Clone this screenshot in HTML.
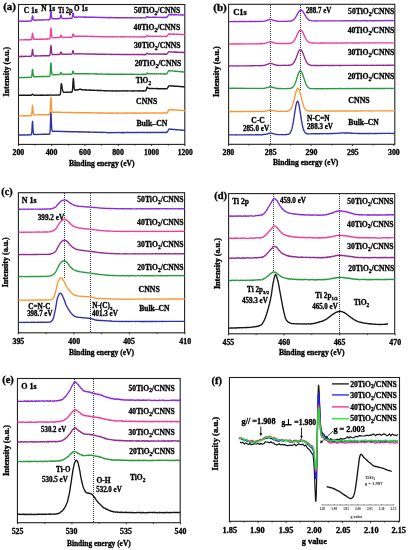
<!DOCTYPE html>
<html><head><meta charset="utf-8"><style>
html,body{margin:0;padding:0;background:#fff;width:408px;height:550px;overflow:hidden;}
svg{will-change:transform;}
svg text{stroke:#000;stroke-width:0.3px;}
svg text.n{stroke:none;font-weight:bold;fill:#222;}
</style></head><body>
<svg width="408" height="550" viewBox="0 0 408 550" style="position:absolute;left:0;top:0;font-family:'Liberation Serif',serif;font-weight:bold">
<rect width="408" height="550" fill="#fff"/>
<rect x="18.50" y="4.50" width="166.30" height="139.90" fill="none" stroke="#222" stroke-width="1.1"/>
<line x1="18.40" y1="144.40" x2="18.40" y2="146.00" stroke="#1a1a1a" stroke-width="0.9"/>
<line x1="51.70" y1="144.40" x2="51.70" y2="146.00" stroke="#1a1a1a" stroke-width="0.9"/>
<line x1="85.00" y1="144.40" x2="85.00" y2="146.00" stroke="#1a1a1a" stroke-width="0.9"/>
<line x1="118.30" y1="144.40" x2="118.30" y2="146.00" stroke="#1a1a1a" stroke-width="0.9"/>
<line x1="151.60" y1="144.40" x2="151.60" y2="146.00" stroke="#1a1a1a" stroke-width="0.9"/>
<line x1="184.90" y1="144.40" x2="184.90" y2="146.00" stroke="#1a1a1a" stroke-width="0.9"/>
<line x1="35.05" y1="144.40" x2="35.05" y2="145.68" stroke="#1a1a1a" stroke-width="0.8"/>
<line x1="68.35" y1="144.40" x2="68.35" y2="145.68" stroke="#1a1a1a" stroke-width="0.8"/>
<line x1="101.65" y1="144.40" x2="101.65" y2="145.68" stroke="#1a1a1a" stroke-width="0.8"/>
<line x1="134.95" y1="144.40" x2="134.95" y2="145.68" stroke="#1a1a1a" stroke-width="0.8"/>
<line x1="168.25" y1="144.40" x2="168.25" y2="145.68" stroke="#1a1a1a" stroke-width="0.8"/>
<path d="M18.5 21.2L18.7 21.4L18.9 21.4L19.1 21.2L19.3 21.3L19.5 21.3L19.7 21.3L19.9 21.3L20.1 21.2L20.3 21.1L20.5 21.3L20.7 21.2L20.9 21.3L21.1 21.1L21.3 21.2L21.5 21.3L21.7 21.2L21.9 21.3L22.1 21.3L22.3 21.1L22.5 21.1L22.7 21.2L22.9 21.3L23.1 21.2L23.3 21.1L23.5 21.2L23.7 21.1L23.9 21.1L24.1 21.2L24.3 21.2L24.5 21.1L24.7 21.1L24.9 21.1L25.1 21.1L25.3 21.1L25.5 21L25.7 21.2L25.9 21.1L26.1 21.2L26.3 21.1L26.5 21.2L26.7 21.2L26.9 21L27.1 21.1L27.3 21.2L27.5 21.1L27.7 21.2L27.9 21.1L28.1 21.2L28.3 21.1L28.5 21L28.7 21.1L28.9 21.2L29.1 21.1L29.3 21.1L29.5 21.1L29.7 20.9L29.9 21L30.1 21.1L30.3 21L30.5 21L30.7 21L30.9 21.1L31.1 21.1L31.3 20.9L31.5 20.8L31.7 20.4L31.9 19.6L32.1 18L32.3 16.5L32.5 15.8L32.7 16.1L32.9 17.3L33.1 18.7L33.3 19.5L33.5 19.9L33.7 20L33.9 20L34.1 20.1L34.3 20.2L34.5 20.1L34.7 20.1L34.9 20.2L35.1 20L35.3 20.1L35.5 20.2L35.7 20.1L35.9 20L36.1 20L36.3 20.1L36.5 20.2L36.7 19.9L36.9 20.1L37.1 20.1L37.3 20.1L37.5 20.1L37.7 20.1L37.9 20L38.1 20L38.3 20L38.5 19.9L38.7 20.1L38.9 20L39.1 19.9L39.3 20L39.5 20L39.7 20L39.9 19.9L40.1 20L40.3 20L40.5 20L40.7 20L40.9 19.9L41.1 19.9L41.3 19.9L41.5 20L41.7 20L41.9 20L42.1 20L42.3 20L42.5 19.9L42.7 20L42.9 20L43.1 19.8L43.3 19.8L43.5 19.8L43.7 20L43.9 19.9L44.1 19.8L44.3 19.9L44.5 19.9L44.7 19.8L44.9 19.8L45.1 19.9L45.3 19.8L45.5 19.8L45.7 19.9L45.9 19.9L46.1 19.8L46.3 19.9L46.5 19.8L46.7 19.8L46.9 19.8L47.1 19.8L47.3 19.8L47.5 19.9L47.7 19.9L47.9 19.8L48.1 19.9L48.3 19.9L48.5 19.7L48.7 19.7L48.9 19.7L49.1 19.9L49.3 19.7L49.5 19.8L49.7 19.7L49.9 19.4L50.1 18.5L50.3 17.1L50.5 14.8L50.7 12.5L50.9 11.2L51.1 11.9L51.3 13.7L51.5 15.9L51.7 17.4L51.9 18.3L52.1 18.5L52.3 18.7L52.5 18.9L52.7 18.9L52.9 18.7L53.1 18.9L53.3 18.7L53.5 18.9L53.7 18.8L53.9 18.7L54.1 18.7L54.3 18.6L54.5 18.8L54.7 18.6L54.9 18.8L55.1 18.8L55.3 18.7L55.5 18.6L55.7 18.8L55.9 18.8L56.1 18.7L56.3 18.7L56.5 18.7L56.7 18.6L56.9 18.6L57.1 18.7L57.3 18.7L57.5 18.6L57.7 18.6L57.9 18.7L58.1 18.6L58.3 18.6L58.5 18.6L58.7 18.7L58.9 18.7L59.1 18.5L59.3 18.5L59.5 18.6L59.7 18.7L59.9 18.5L60.1 18.1L60.3 17.5L60.5 16.8L60.7 15.9L60.9 15.2L61.1 15L61.3 15.7L61.5 16.5L61.7 17.4L61.9 18.1L62.1 18.3L62.3 18.5L62.5 18.4L62.7 18.5L62.9 18.6L63.1 18.5L63.3 18.6L63.5 18.5L63.7 18.6L63.9 18.5L64.1 18.5L64.3 18.4L64.5 18.6L64.7 18.5L64.9 18.6L65.1 18.6L65.3 18.4L65.5 18.5L65.7 18.4L65.9 18.4L66.1 18.4L66.3 18.5L66.5 18.5L66.7 18.5L66.9 18.4L67.1 18.5L67.3 18.5L67.5 18.4L67.7 18.4L67.9 18.3L68.1 18.3L68.3 18.3L68.5 18.5L68.7 18.4L68.9 18.5L69.1 18.4L69.3 18.3L69.5 18.4L69.7 18.4L69.9 18.2L70.1 18.4L70.3 18.3L70.5 18.3L70.7 18.4L70.9 18.2L71.1 18.3L71.3 18.4L71.5 18.3L71.7 18.2L71.9 18.1L72.1 17.8L72.3 17.3L72.5 16L72.7 14.6L72.9 13.2L73.1 13L73.3 13.7L73.5 14.8L73.7 15.9L73.9 16.6L74.1 16.9L74.3 17.2L74.5 17.1L74.7 17.1L74.9 17.3L75.1 17.1L75.3 17.2L75.5 17.1L75.7 17.1L75.9 17L76.1 17.2L76.3 17.2L76.5 17.2L76.7 17L76.9 17L77.1 17.1L77.3 17.2L77.5 17.1L77.7 17.1L77.9 17.1L78.1 17L78.3 17.1L78.5 17L78.7 17L78.9 16.9L79.1 17L79.3 17.1L79.5 17L79.7 17L79.9 17L80.1 17.1L80.3 17L80.5 17L80.7 17L80.9 17L81.1 17.1L81.3 17.1L81.5 17L81.7 17L81.9 17L82.1 17.1L82.3 17.1L82.5 17L82.7 16.9L82.9 17L83.1 17L83.3 17.1L83.5 17L83.7 17L83.9 17.1L84.1 17L84.3 17.2L84.5 17.1L84.7 17.2L84.9 17L85.1 17.1L85.3 17.2L85.5 17L85.7 17.2L85.9 17L86.1 17.2L86.3 17.2L86.5 17.2L86.7 17.1L86.9 17L87.1 17.1L87.3 17.2L87.5 17.1L87.7 17.2L87.9 17.1L88.1 17.3L88.3 17.1L88.5 17.1L88.7 17.3L88.9 17.3L89.1 17.3L89.3 17.3L89.5 17.2L89.7 17.2L89.9 17.1L90.1 17.2L90.3 17.1L90.5 17.3L90.7 17.3L90.9 17.2L91.1 17.1L91.3 17.3L91.5 17.3L91.7 17.2L91.9 17.2L92.1 17.3L92.3 17.2L92.5 17.2L92.7 17.2L92.9 17.2L93.1 17.1L93.3 17.3L93.5 17.2L93.7 17.3L93.9 17.2L94.1 17.2L94.3 17.2L94.5 17.2L94.7 17.2L94.9 17.4L95.1 17.3L95.3 17.3L95.5 17.3L95.7 17.2L95.9 17.2L96.1 17.3L96.3 17.3L96.5 17.4L96.7 17.3L96.9 17.4L97.1 17.4L97.3 17.3L97.5 17.3L97.7 17.3L97.9 17.3L98.1 17.3L98.3 17.4L98.5 17.5L98.7 17.5L98.9 17.3L99.1 17.4L99.3 17.3L99.5 17.3L99.7 17.4L99.9 17.5L100.1 17.3L100.3 17.5L100.5 17.5L100.7 17.4L100.9 17.5L101.1 17.5L101.3 17.4L101.5 17.5L101.7 17.5L101.8 17.5L102 17.5L102.2 17.5L102.4 17.6L102.6 17.5L102.8 17.4L103 17.4L103.2 17.4L103.4 17.5L103.6 17.5L103.8 17.4L104 17.5L104.2 17.5L104.4 17.5L104.6 17.5L104.8 17.4L105 17.6L105.2 17.4L105.4 17.6L105.6 17.6L105.8 17.5L106 17.5L106.2 17.6L106.4 17.6L106.6 17.4L106.8 17.6L107 17.6L107.2 17.6L107.4 17.6L107.6 17.5L107.8 17.7L108 17.7L108.2 17.5L108.4 17.6L108.6 17.6L108.8 17.5L109 17.5L109.2 17.5L109.4 17.7L109.6 17.7L109.8 17.5L110 17.6L110.2 17.6L110.4 17.5L110.6 17.6L110.8 17.5L111 17.7L111.2 17.5L111.4 17.5L111.6 17.6L111.8 17.5L112 17.6L112.2 17.6L112.4 17.7L112.6 17.6L112.8 17.6L113 17.6L113.2 17.6L113.4 17.6L113.6 17.6L113.8 17.7L114 17.7L114.2 17.7L114.4 17.8L114.6 17.6L114.8 17.6L115 17.7L115.2 17.7L115.4 17.7L115.6 17.6L115.8 17.6L116 17.6L116.2 17.7L116.4 17.6L116.6 17.7L116.8 17.7L117 17.8L117.2 17.7L117.4 17.8L117.6 17.6L117.8 17.7L118 17.7L118.2 17.6L118.4 17.7L118.6 17.6L118.8 17.7L119 17.6L119.2 17.7L119.4 17.7L119.6 17.6L119.8 17.7L120 17.8L120.2 17.7L120.4 17.7L120.6 17.7L120.8 17.7L121 17.6L121.2 17.6L121.4 17.6L121.6 17.7L121.8 17.8L122 17.8L122.2 17.7L122.4 17.8L122.6 17.7L122.8 17.8L123 17.7L123.2 17.8L123.4 17.8L123.6 17.7L123.8 17.6L124 17.7L124.2 17.7L124.4 17.7L124.6 17.6L124.8 17.7L125 17.7L125.2 17.7L125.4 17.8L125.6 17.7L125.8 17.8L126 17.8L126.2 17.8L126.4 17.7L126.6 17.8L126.8 17.8L127 17.8L127.2 17.8L127.4 17.7L127.6 17.8L127.8 17.8L128 17.9L128.2 17.8L128.4 17.8L128.6 17.8L128.8 17.8L129 17.8L129.2 17.7L129.4 17.7L129.6 17.8L129.8 17.9L130 17.8L130.2 17.7L130.4 17.8L130.6 17.8L130.8 17.8L131 17.7L131.2 17.8L131.4 17.8L131.6 17.8L131.8 17.7L132 17.8L132.2 17.7L132.4 17.8L132.6 17.9L132.8 17.8L133 17.8L133.2 17.8L133.4 17.8L133.6 17.7L133.8 17.7L134 17.9L134.2 17.7L134.4 17.7L134.6 17.9L134.8 17.8L135 17.8L135.2 17.8L135.4 17.9L135.6 17.7L135.8 17.9L136 17.9L136.2 17.9L136.4 17.8L136.6 17.8L136.8 17.8L137 17.8L137.2 17.7L137.4 17.9L137.6 17.9L137.8 17.8L138 17.8L138.2 17.9L138.4 17.9L138.6 17.9L138.8 17.7L139 17.9L139.2 17.9L139.4 17.8L139.6 17.8L139.8 17.9L140 17.9L140.2 17.8L140.4 17.9L140.6 17.8L140.8 18L141 17.8L141.2 18L141.4 17.9L141.6 17.9L141.8 17.8L142 17.9L142.2 17.8L142.4 17.8L142.6 17.9L142.8 17.8L143 17.9L143.2 17.8L143.4 17.9L143.6 17.9L143.8 17.8L144 17.8L144.2 17.9L144.4 17.9L144.6 17.8L144.8 17.8L145 17.8L145.2 17.9L145.4 18L145.6 17.8L145.8 17.7L146 17.8L146.2 17.7L146.4 17.4L146.6 17L146.8 16.7L147 16.7L147.2 16.5L147.4 16.7L147.6 16.8L147.8 17L148 17.2L148.2 17.2L148.4 17.2L148.6 17.2L148.8 17.4L149 17.3L149.2 17.3L149.4 17.2L149.6 17.4L149.8 17.3L150 17.3L150.2 17.4L150.4 17.4L150.6 17.2L150.8 17.4L151 17.4L151.2 17.3L151.4 17.3L151.6 17.3L151.8 17.4L152 17.3L152.2 17.4L152.4 17.4L152.6 17.2L152.8 17.4L153 17.2L153.2 17.2L153.4 17.4L153.6 17.2L153.8 17.3L154 17.2L154.2 17.3L154.4 17.4L154.6 17.4L154.8 17.2L155 17.2L155.2 17.4L155.4 17.2L155.6 17.3L155.8 17.3L156 17.2L156.2 17.2L156.4 17.4L156.6 17.4L156.8 17.4L157 17.4L157.2 17.4L157.4 17.3L157.6 17.4L157.8 17.5L158 17.4L158.2 17.3L158.4 17.3L158.6 17.5L158.8 17.4L159 17.3L159.2 17.4L159.4 17.4L159.6 17.4L159.8 17.3L160 17.3L160.2 17.3L160.4 17.3L160.6 17.5L160.8 17.4L161 17.4L161.2 17.4L161.4 17.4L161.6 17.4L161.8 17.4L162 17.3L162.2 17.5L162.4 17.3L162.6 17.5L162.8 17.5L163 17.5L163.2 17.3L163.4 17.3L163.6 17.5L163.8 17.4L164 17.4L164.2 17.5L164.4 17.3L164.6 17.4L164.8 17.4L165 17.3L165.2 17.4L165.4 17.4L165.6 17.5L165.8 17.3L166 17.4L166.2 17.3L166.4 17.5L166.6 17.3L166.8 17.3L167 17.1L167.2 16.9L167.4 16.5L167.6 16.2L167.8 16.1L168 15.8L168.2 15.5L168.4 15.1L168.6 14.8L168.8 14.5L169 14.6L169.2 14.6L169.4 14.6L169.6 14.7L169.8 14.7L170 14.7L170.2 14.5L170.4 14.7L170.6 14.6L170.8 14.8L171 14.7L171.2 14.7L171.4 14.7L171.6 14.7L171.8 14.8L172 14.8L172.2 14.6L172.4 14.6L172.6 14.7L172.8 14.7L173 14.6L173.2 14.7L173.4 14.7L173.6 14.6L173.8 14.8L174 14.8L174.2 14.7L174.4 14.7L174.6 14.7L174.8 14.7L175 14.8L175.2 14.8L175.4 14.8L175.6 14.7L175.8 14.9L176 14.7L176.2 14.7L176.4 14.7L176.6 14.9L176.8 14.8L177 14.9L177.2 14.9L177.4 14.9L177.6 14.9L177.8 14.9L178 14.9L178.2 14.9L178.4 14.8L178.6 14.9L178.8 14.9L179 15L179.2 14.9L179.4 14.9L179.6 14.9L179.8 14.8L180 15L180.2 14.9L180.4 14.9L180.6 14.9L180.8 15L181 14.9L181.2 14.8L181.4 14.8L181.6 15L181.8 14.9L182 15L182.2 14.9L182.4 14.9L182.6 15L182.8 14.8L183 14.9L183.2 15L183.4 14.9L183.6 14.9L183.8 14.9L184 15L184.2 15L184.4 14.9L184.6 14.9L184.8 15.1" fill="none" stroke="#8c28dc" stroke-width="1.35" stroke-linejoin="round"/>
<path d="M18.5 40L18.7 40L18.9 39.8L19.1 39.8L19.3 40L19.5 39.9L19.7 39.9L19.9 39.8L20.1 39.9L20.3 39.9L20.5 39.9L20.7 39.8L20.9 39.8L21.1 39.8L21.3 39.9L21.5 40L21.7 39.9L21.9 39.8L22.1 39.8L22.3 39.8L22.5 39.7L22.7 39.7L22.9 39.8L23.1 39.8L23.3 39.8L23.5 39.9L23.7 39.8L23.9 39.8L24.1 39.7L24.3 39.7L24.5 39.7L24.7 39.7L24.9 39.8L25.1 39.9L25.3 39.8L25.5 39.7L25.7 39.8L25.9 39.8L26.1 39.8L26.3 39.8L26.5 39.8L26.7 39.8L26.9 39.7L27.1 39.8L27.3 39.8L27.5 39.6L27.7 39.8L27.9 39.7L28.1 39.7L28.3 39.7L28.5 39.7L28.7 39.8L28.9 39.7L29.1 39.7L29.3 39.6L29.5 39.7L29.7 39.7L29.9 39.6L30.1 39.7L30.3 39.7L30.5 39.7L30.7 39.6L30.9 39.6L31.1 39.6L31.3 39.6L31.5 39.3L31.7 38.9L31.9 37.5L32.1 35.9L32.3 33.9L32.5 33.2L32.7 33.8L32.9 35.4L33.1 37.2L33.3 38.4L33.5 39L33.7 39.2L33.9 39.2L34.1 39.3L34.3 39.4L34.5 39.3L34.7 39.2L34.9 39.3L35.1 39.3L35.3 39.4L35.5 39.2L35.7 39.3L35.9 39.1L36.1 39.3L36.3 39.2L36.5 39.2L36.7 39.3L36.9 39.1L37.1 39.2L37.3 39.3L37.5 39.2L37.7 39.2L37.9 39.3L38.1 39.2L38.3 39.3L38.5 39.1L38.7 39.2L38.9 39.1L39.1 39.2L39.3 39.1L39.5 39.3L39.7 39.1L39.9 39.2L40.1 39.1L40.3 39.1L40.5 39.2L40.7 39.1L40.9 39.1L41.1 39.2L41.3 39.1L41.5 39L41.7 39.3L41.9 39.1L42.1 39L42.3 39.1L42.5 39.2L42.7 39.2L42.9 39L43.1 39.1L43.3 39L43.5 39.1L43.7 39.2L43.9 39.2L44.1 39.2L44.3 39.2L44.5 39.2L44.7 39.1L44.9 39.1L45.1 39L45.3 39.1L45.5 39L45.7 39L45.9 39.1L46.1 39.2L46.3 39L46.5 39.1L46.7 39L46.9 39.1L47.1 39L47.3 39.2L47.5 39L47.7 39.1L47.9 39L48.1 38.9L48.3 39.1L48.5 38.9L48.7 38.9L48.9 38.9L49.1 38.9L49.3 38.9L49.5 39L49.7 38.9L49.9 38.6L50.1 37.5L50.3 35.6L50.5 32.5L50.7 29.6L50.9 28L51.1 28.9L51.3 31.3L51.5 34.1L51.7 36.1L51.9 37L52.1 37.5L52.3 37.6L52.5 37.6L52.7 37.6L52.9 37.7L53.1 37.6L53.3 37.7L53.5 37.6L53.7 37.6L53.9 37.6L54.1 37.6L54.3 37.6L54.5 37.6L54.7 37.6L54.9 37.6L55.1 37.7L55.3 37.5L55.5 37.7L55.7 37.7L55.9 37.7L56.1 37.6L56.3 37.6L56.5 37.6L56.7 37.5L56.9 37.6L57.1 37.6L57.3 37.5L57.5 37.5L57.7 37.6L57.9 37.5L58.1 37.6L58.3 37.6L58.5 37.6L58.7 37.5L58.9 37.6L59.1 37.5L59.3 37.4L59.5 37.6L59.7 37.4L59.9 37.4L60.1 37.3L60.3 36.9L60.5 36.2L60.7 35.7L60.9 35.2L61.1 35.2L61.3 35.5L61.5 36.2L61.7 36.6L61.9 37.1L62.1 37.3L62.3 37.5L62.5 37.3L62.7 37.5L62.9 37.4L63.1 37.4L63.3 37.4L63.5 37.4L63.7 37.5L63.9 37.4L64.1 37.3L64.3 37.3L64.5 37.3L64.7 37.5L64.9 37.4L65.1 37.5L65.3 37.4L65.5 37.3L65.7 37.4L65.9 37.4L66.1 37.4L66.3 37.4L66.5 37.3L66.7 37.3L66.9 37.4L67.1 37.3L67.3 37.3L67.5 37.3L67.7 37.4L67.9 37.4L68.1 37.4L68.3 37.4L68.5 37.2L68.7 37.2L68.9 37.3L69.1 37.2L69.3 37.3L69.5 37.3L69.7 37.4L69.9 37.3L70.1 37.3L70.3 37.2L70.5 37.2L70.7 37.4L70.9 37.2L71.1 37.2L71.3 37.1L71.5 37.1L71.7 37.3L71.9 37.3L72.1 37L72.3 36.5L72.5 35.8L72.7 34.8L72.9 34.2L73.1 34L73.3 34.3L73.5 35L73.7 35.6L73.9 36.1L74.1 36.4L74.3 36.4L74.5 36.3L74.7 36.4L74.9 36.4L75.1 36.3L75.3 36.4L75.5 36.3L75.7 36.4L75.9 36.3L76.1 36.4L76.3 36.4L76.5 36.3L76.7 36.2L76.9 36.3L77.1 36.2L77.3 36.3L77.5 36.4L77.7 36.2L77.9 36.3L78.1 36.3L78.3 36.2L78.5 36.3L78.7 36.3L78.9 36.3L79.1 36.2L79.3 36.3L79.5 36.2L79.7 36.3L79.9 36.2L80.1 36.3L80.3 36.3L80.5 36.1L80.7 36.2L80.9 36.2L81.1 36.3L81.3 36.3L81.5 36.3L81.7 36.1L81.9 36.2L82.1 36.3L82.3 36.3L82.5 36.3L82.7 36.3L82.9 36.1L83.1 36.4L83.3 36.3L83.5 36.3L83.7 36.4L83.9 36.4L84.1 36.2L84.3 36.4L84.5 36.4L84.7 36.2L84.9 36.4L85.1 36.3L85.3 36.2L85.5 36.4L85.7 36.2L85.9 36.3L86.1 36.3L86.3 36.3L86.5 36.3L86.7 36.3L86.9 36.3L87.1 36.5L87.3 36.2L87.5 36.2L87.7 36.3L87.9 36.4L88.1 36.4L88.3 36.4L88.5 36.4L88.7 36.4L88.9 36.3L89.1 36.3L89.3 36.4L89.5 36.3L89.7 36.3L89.9 36.5L90.1 36.3L90.3 36.5L90.5 36.5L90.7 36.4L90.9 36.5L91.1 36.5L91.3 36.5L91.5 36.3L91.7 36.4L91.9 36.4L92.1 36.4L92.3 36.4L92.5 36.3L92.7 36.5L92.9 36.6L93.1 36.4L93.3 36.5L93.5 36.4L93.7 36.5L93.9 36.6L94.1 36.4L94.3 36.5L94.5 36.5L94.7 36.5L94.9 36.6L95.1 36.4L95.3 36.6L95.5 36.5L95.7 36.5L95.9 36.6L96.1 36.6L96.3 36.5L96.5 36.6L96.7 36.4L96.9 36.6L97.1 36.5L97.3 36.6L97.5 36.6L97.7 36.6L97.9 36.6L98.1 36.5L98.3 36.5L98.5 36.6L98.7 36.5L98.9 36.5L99.1 36.7L99.3 36.5L99.5 36.7L99.7 36.6L99.9 36.6L100.1 36.6L100.3 36.5L100.5 36.6L100.7 36.5L100.9 36.6L101.1 36.6L101.3 36.7L101.5 36.7L101.7 36.6L101.8 36.7L102 36.7L102.2 36.6L102.4 36.6L102.6 36.6L102.8 36.6L103 36.7L103.2 36.6L103.4 36.6L103.6 36.7L103.8 36.6L104 36.8L104.2 36.7L104.4 36.7L104.6 36.8L104.8 36.7L105 36.8L105.2 36.8L105.4 36.7L105.6 36.8L105.8 36.8L106 36.8L106.2 36.8L106.4 36.8L106.6 36.8L106.8 36.8L107 36.9L107.2 36.7L107.4 36.8L107.6 36.8L107.8 36.7L108 36.7L108.2 36.7L108.4 36.9L108.6 36.7L108.8 36.8L109 36.9L109.2 36.7L109.4 36.9L109.6 36.7L109.8 36.7L110 36.8L110.2 36.8L110.4 36.9L110.6 36.9L110.8 36.9L111 36.8L111.2 36.8L111.4 36.7L111.6 36.9L111.8 36.8L112 36.8L112.2 36.8L112.4 36.7L112.6 36.8L112.8 36.9L113 36.7L113.2 36.7L113.4 36.7L113.6 36.8L113.8 36.8L114 36.8L114.2 36.8L114.4 36.8L114.6 36.8L114.8 36.8L115 36.8L115.2 36.8L115.4 36.9L115.6 36.7L115.8 36.7L116 36.9L116.2 36.8L116.4 36.9L116.6 36.7L116.8 36.8L117 36.9L117.2 36.8L117.4 36.9L117.6 36.8L117.8 36.8L118 36.9L118.2 36.8L118.4 36.8L118.6 36.9L118.8 36.8L119 36.9L119.2 36.8L119.4 36.8L119.6 36.8L119.8 36.9L120 36.9L120.2 36.9L120.4 36.8L120.6 36.8L120.8 36.8L121 36.7L121.2 36.7L121.4 37L121.6 36.7L121.8 36.9L122 36.9L122.2 36.9L122.4 36.7L122.6 36.8L122.8 36.9L123 36.7L123.2 36.7L123.4 36.8L123.6 36.8L123.8 36.8L124 36.9L124.2 36.7L124.4 37L124.6 36.9L124.8 36.7L125 36.9L125.2 36.8L125.4 36.8L125.6 36.9L125.8 36.8L126 36.8L126.2 36.7L126.4 36.8L126.6 36.9L126.8 36.9L127 36.9L127.2 36.9L127.4 36.9L127.6 36.8L127.8 36.8L128 36.8L128.2 36.8L128.4 36.8L128.6 36.8L128.8 36.7L129 36.8L129.2 36.8L129.4 36.9L129.6 36.9L129.8 37L130 36.9L130.2 36.9L130.4 37L130.6 36.8L130.8 36.8L131 36.9L131.2 36.9L131.4 36.8L131.6 36.8L131.8 36.8L132 36.8L132.2 36.8L132.4 36.8L132.6 36.9L132.8 36.9L133 36.9L133.2 36.9L133.4 36.8L133.6 36.9L133.8 37L134 36.8L134.2 36.9L134.4 36.9L134.6 36.9L134.8 36.8L135 36.9L135.2 36.8L135.4 36.8L135.6 36.9L135.8 36.9L136 36.9L136.2 36.9L136.4 36.9L136.6 36.9L136.8 36.8L137 36.9L137.2 37L137.4 37L137.6 36.9L137.8 36.8L138 36.8L138.2 36.8L138.4 36.9L138.6 36.9L138.8 36.8L139 37L139.2 37L139.4 37L139.6 36.9L139.8 36.8L140 36.8L140.2 37L140.4 36.9L140.6 36.8L140.8 37L141 36.9L141.2 36.9L141.4 36.9L141.6 36.9L141.8 36.9L142 36.9L142.2 36.8L142.4 36.9L142.6 36.8L142.8 37L143 36.8L143.2 36.9L143.4 36.9L143.6 36.9L143.8 36.9L144 37L144.2 36.8L144.4 37L144.6 36.9L144.8 37L145 36.9L145.2 36.9L145.4 36.9L145.6 36.9L145.8 36.8L146 36.7L146.2 36.6L146.4 36.3L146.6 36L146.8 35.8L147 35.5L147.2 35.5L147.4 35.7L147.6 36L147.8 36L148 36.2L148.2 36.3L148.4 36.4L148.6 36.3L148.8 36.3L149 36.2L149.2 36.4L149.4 36.3L149.6 36.2L149.8 36.4L150 36.2L150.2 36.3L150.4 36.3L150.6 36.3L150.8 36.4L151 36.3L151.2 36.3L151.4 36.3L151.6 36.4L151.8 36.2L152 36.3L152.2 36.2L152.4 36.2L152.6 36.4L152.8 36.3L153 36.2L153.2 36.4L153.4 36.4L153.6 36.4L153.8 36.3L154 36.4L154.2 36.4L154.4 36.3L154.6 36.3L154.8 36.4L155 36.4L155.2 36.3L155.4 36.4L155.6 36.4L155.8 36.4L156 36.4L156.2 36.4L156.4 36.3L156.6 36.3L156.8 36.2L157 36.4L157.2 36.3L157.4 36.4L157.6 36.3L157.8 36.3L158 36.5L158.2 36.3L158.4 36.4L158.6 36.3L158.8 36.3L159 36.3L159.2 36.4L159.4 36.4L159.6 36.3L159.8 36.5L160 36.4L160.2 36.3L160.4 36.4L160.6 36.3L160.8 36.4L161 36.3L161.2 36.4L161.4 36.4L161.6 36.4L161.8 36.4L162 36.4L162.2 36.4L162.4 36.3L162.6 36.3L162.8 36.4L163 36.3L163.2 36.3L163.4 36.3L163.6 36.4L163.8 36.4L164 36.4L164.2 36.5L164.4 36.3L164.6 36.4L164.8 36.3L165 36.4L165.2 36.4L165.4 36.3L165.6 36.3L165.8 36.4L166 36.4L166.2 36.5L166.4 36.4L166.6 36.4L166.8 36.5L167 36.2L167.2 35.8L167.4 35.7L167.6 35.4L167.8 35.2L168 34.9L168.2 34.7L168.4 34.5L168.6 34.1L168.8 34L169 33.8L169.2 33.9L169.4 34L169.6 33.8L169.8 34L170 34.1L170.2 34L170.4 34.1L170.6 33.9L170.8 34L171 34L171.2 34L171.4 34L171.6 34.1L171.8 34L172 33.9L172.2 34.1L172.4 34.2L172.6 34.1L172.8 34.1L173 34L173.2 34.2L173.4 34L173.6 34L173.8 34.2L174 34.2L174.2 34.1L174.4 34.2L174.6 34.1L174.8 34.2L175 34.1L175.2 34.1L175.4 34.1L175.6 34.1L175.8 34.2L176 34.2L176.2 34.2L176.4 34.3L176.6 34.1L176.8 34.3L177 34.3L177.2 34.2L177.4 34.4L177.6 34.2L177.8 34.3L178 34.3L178.2 34.3L178.4 34.4L178.6 34.3L178.8 34.3L179 34.3L179.2 34.3L179.4 34.5L179.6 34.4L179.8 34.4L180 34.3L180.2 34.4L180.4 34.3L180.6 34.4L180.8 34.3L181 34.5L181.2 34.6L181.4 34.5L181.6 34.5L181.8 34.4L182 34.5L182.2 34.5L182.4 34.5L182.6 34.4L182.8 34.4L183 34.6L183.2 34.6L183.4 34.6L183.6 34.6L183.8 34.4L184 34.5L184.2 34.7L184.4 34.7L184.6 34.6L184.8 34.6" fill="none" stroke="#f23c96" stroke-width="1.35" stroke-linejoin="round"/>
<path d="M18.5 56.4L18.7 56.5L18.9 56.5L19.1 56.5L19.3 56.5L19.5 56.4L19.7 56.4L19.9 56.5L20.1 56.4L20.3 56.4L20.5 56.6L20.7 56.4L20.9 56.5L21.1 56.4L21.3 56.5L21.5 56.3L21.7 56.5L21.9 56.5L22.1 56.4L22.3 56.5L22.5 56.5L22.7 56.3L22.9 56.5L23.1 56.4L23.3 56.3L23.5 56.3L23.7 56.5L23.9 56.4L24.1 56.4L24.3 56.5L24.5 56.4L24.7 56.5L24.9 56.3L25.1 56.4L25.3 56.3L25.5 56.4L25.7 56.4L25.9 56.2L26.1 56.2L26.3 56.3L26.5 56.4L26.7 56.3L26.9 56.3L27.1 56.3L27.3 56.3L27.5 56.3L27.7 56.3L27.9 56.3L28.1 56.3L28.3 56.4L28.5 56.3L28.7 56.4L28.9 56.4L29.1 56.4L29.3 56.3L29.5 56.2L29.7 56.3L29.9 56.4L30.1 56.3L30.3 56.3L30.5 56.3L30.7 56.2L30.9 56.3L31.1 56.2L31.3 56.1L31.5 55.8L31.7 55.4L31.9 54.2L32.1 52.2L32.3 50.5L32.5 49.5L32.7 50.1L32.9 51.9L33.1 53.9L33.3 55.2L33.5 55.6L33.7 55.9L33.9 55.9L34.1 56L34.3 55.9L34.5 56.1L34.7 56.1L34.9 56L35.1 56.1L35.3 55.9L35.5 55.9L35.7 56L35.9 55.8L36.1 55.9L36.3 55.9L36.5 56L36.7 55.9L36.9 55.8L37.1 56L37.3 55.9L37.5 56L37.7 56L37.9 55.9L38.1 55.9L38.3 55.9L38.5 55.9L38.7 55.9L38.9 55.9L39.1 55.9L39.3 56L39.5 55.9L39.7 55.9L39.9 55.9L40.1 55.8L40.3 55.8L40.5 56L40.7 55.9L40.9 55.9L41.1 55.7L41.3 55.8L41.5 55.9L41.7 55.7L41.9 55.9L42.1 55.9L42.3 55.7L42.5 55.9L42.7 55.8L42.9 55.9L43.1 55.8L43.3 55.9L43.5 55.9L43.7 55.7L43.9 55.7L44.1 55.9L44.3 55.9L44.5 55.7L44.7 55.8L44.9 55.8L45.1 55.8L45.3 55.8L45.5 55.7L45.7 55.8L45.9 55.8L46.1 55.7L46.3 55.7L46.5 55.8L46.7 55.7L46.9 55.8L47.1 55.8L47.3 55.7L47.5 55.7L47.7 55.8L47.9 55.7L48.1 55.7L48.3 55.7L48.5 55.8L48.7 55.6L48.9 55.7L49.1 55.7L49.3 55.8L49.5 55.7L49.7 55.6L49.9 55.1L50.1 54.2L50.3 52.4L50.5 49.7L50.7 46.8L50.9 45.3L51.1 46L51.3 48.4L51.5 51L51.7 53.1L51.9 54L52.1 54.3L52.3 54.5L52.5 54.7L52.7 54.6L52.9 54.6L53.1 54.5L53.3 54.5L53.5 54.5L53.7 54.6L53.9 54.5L54.1 54.5L54.3 54.5L54.5 54.5L54.7 54.5L54.9 54.6L55.1 54.4L55.3 54.4L55.5 54.6L55.7 54.6L55.9 54.6L56.1 54.5L56.3 54.6L56.5 54.6L56.7 54.4L56.9 54.5L57.1 54.6L57.3 54.5L57.5 54.5L57.7 54.4L57.9 54.4L58.1 54.4L58.3 54.3L58.5 54.5L58.7 54.4L58.9 54.5L59.1 54.3L59.3 54.5L59.5 54.5L59.7 54.5L59.9 54.4L60.1 54.2L60.3 53.8L60.5 53.1L60.7 52.6L60.9 52L61.1 52L61.3 52.4L61.5 53L61.7 53.6L61.9 54.1L62.1 54.2L62.3 54.3L62.5 54.3L62.7 54.4L62.9 54.3L63.1 54.4L63.3 54.3L63.5 54.2L63.7 54.3L63.9 54.4L64.1 54.2L64.3 54.4L64.5 54.4L64.7 54.4L64.9 54.4L65.1 54.2L65.3 54.3L65.5 54.4L65.7 54.2L65.9 54.2L66.1 54.2L66.3 54.3L66.5 54.2L66.7 54.2L66.9 54.3L67.1 54.1L67.3 54.1L67.5 54.1L67.7 54.1L67.9 54.1L68.1 54.3L68.3 54.3L68.5 54.1L68.7 54.2L68.9 54.1L69.1 54.1L69.3 54.1L69.5 54.2L69.7 54.2L69.9 54.1L70.1 54.1L70.3 54.1L70.5 54.1L70.7 54.2L70.9 54.2L71.1 54.1L71.3 54L71.5 54L71.7 54.1L71.9 54L72.1 53.9L72.3 53.3L72.5 52.6L72.7 51.5L72.9 50.6L73.1 50.5L73.3 51.1L73.5 52.1L73.7 53L73.9 53.6L74.1 53.8L74.3 53.9L74.5 54L74.7 54L74.9 53.9L75.1 53.9L75.3 53.9L75.5 54L75.7 54L75.9 53.9L76.1 54L76.3 54L76.5 53.9L76.7 53.9L76.9 53.8L77.1 54L77.3 53.9L77.5 54L77.7 53.9L77.9 53.9L78.1 53.9L78.3 53.9L78.5 53.8L78.7 53.9L78.9 53.7L79.1 53.7L79.3 53.9L79.5 53.7L79.7 53.7L79.9 53.7L80.1 53.9L80.3 53.7L80.5 53.7L80.7 53.9L80.9 53.7L81.1 53.9L81.3 53.9L81.5 53.9L81.7 53.9L81.9 53.9L82.1 53.9L82.3 53.7L82.5 53.9L82.7 53.9L82.9 53.9L83.1 53.8L83.3 53.9L83.5 54L83.7 53.8L83.9 53.8L84.1 53.9L84.3 54L84.5 53.8L84.7 53.8L84.9 53.8L85.1 53.9L85.3 54L85.5 53.9L85.7 53.9L85.9 53.9L86.1 53.9L86.3 53.9L86.5 53.8L86.7 53.9L86.9 54.1L87.1 53.9L87.3 54L87.5 53.9L87.7 54L87.9 54L88.1 54L88.3 54L88.5 54L88.7 54L88.9 54.1L89.1 53.9L89.3 53.9L89.5 54L89.7 54.1L89.9 54L90.1 54L90.3 54.1L90.5 53.9L90.7 54L90.9 53.9L91.1 54L91.3 54L91.5 54L91.7 54.1L91.9 54.1L92.1 54L92.3 54.1L92.5 54L92.7 54.1L92.9 54.1L93.1 54L93.3 54L93.5 54L93.7 54.1L93.9 54L94.1 54L94.3 54.1L94.5 54L94.7 54.2L94.9 54L95.1 54.2L95.3 54.1L95.5 54.1L95.7 54.1L95.9 54.2L96.1 54.2L96.3 54.1L96.5 54.1L96.7 54.2L96.9 54.2L97.1 54.1L97.3 54.2L97.5 54.3L97.7 54.1L97.9 54.1L98.1 54.1L98.3 54.2L98.5 54.2L98.7 54.3L98.9 54.3L99.1 54.1L99.3 54.1L99.5 54.1L99.7 54.1L99.9 54.2L100.1 54.3L100.3 54.3L100.5 54.2L100.7 54.3L100.9 54.2L101.1 54.2L101.3 54.3L101.5 54.1L101.7 54.1L101.8 54.3L102 54.2L102.2 54.2L102.4 54.3L102.6 54.3L102.8 54.1L103 54.2L103.2 54.2L103.4 54.3L103.6 54.2L103.8 54.3L104 54.4L104.2 54.3L104.4 54.3L104.6 54.2L104.8 54.2L105 54.3L105.2 54.2L105.4 54.4L105.6 54.4L105.8 54.2L106 54.4L106.2 54.3L106.4 54.4L106.6 54.4L106.8 54.3L107 54.4L107.2 54.4L107.4 54.4L107.6 54.3L107.8 54.4L108 54.5L108.2 54.4L108.4 54.4L108.6 54.3L108.8 54.4L109 54.3L109.2 54.4L109.4 54.4L109.6 54.4L109.8 54.3L110 54.4L110.2 54.4L110.4 54.3L110.6 54.5L110.8 54.4L111 54.3L111.2 54.5L111.4 54.3L111.6 54.4L111.8 54.5L112 54.4L112.2 54.4L112.4 54.4L112.6 54.4L112.8 54.4L113 54.3L113.2 54.3L113.4 54.5L113.6 54.5L113.8 54.4L114 54.5L114.2 54.4L114.4 54.4L114.6 54.4L114.8 54.5L115 54.3L115.2 54.4L115.4 54.4L115.6 54.5L115.8 54.4L116 54.4L116.2 54.4L116.4 54.4L116.6 54.5L116.8 54.4L117 54.5L117.2 54.3L117.4 54.4L117.6 54.3L117.8 54.4L118 54.5L118.2 54.5L118.4 54.4L118.6 54.4L118.8 54.4L119 54.5L119.2 54.5L119.4 54.5L119.6 54.5L119.8 54.4L120 54.4L120.2 54.4L120.4 54.5L120.6 54.5L120.8 54.4L121 54.4L121.2 54.5L121.4 54.4L121.6 54.5L121.8 54.6L122 54.6L122.2 54.4L122.4 54.5L122.6 54.5L122.8 54.5L123 54.6L123.2 54.5L123.4 54.4L123.6 54.6L123.8 54.5L124 54.5L124.2 54.5L124.4 54.4L124.6 54.5L124.8 54.5L125 54.5L125.2 54.5L125.4 54.5L125.6 54.4L125.8 54.5L126 54.4L126.2 54.5L126.4 54.5L126.6 54.5L126.8 54.5L127 54.6L127.2 54.6L127.4 54.4L127.6 54.6L127.8 54.5L128 54.4L128.2 54.5L128.4 54.4L128.6 54.4L128.8 54.5L129 54.6L129.2 54.5L129.4 54.6L129.6 54.6L129.8 54.4L130 54.6L130.2 54.5L130.4 54.6L130.6 54.6L130.8 54.6L131 54.5L131.2 54.6L131.4 54.6L131.6 54.6L131.8 54.5L132 54.6L132.2 54.5L132.4 54.4L132.6 54.4L132.8 54.4L133 54.5L133.2 54.4L133.4 54.5L133.6 54.6L133.8 54.5L134 54.5L134.2 54.6L134.4 54.5L134.6 54.5L134.8 54.6L135 54.5L135.2 54.5L135.4 54.6L135.6 54.6L135.8 54.5L136 54.5L136.2 54.6L136.4 54.6L136.6 54.5L136.8 54.4L137 54.5L137.2 54.6L137.4 54.5L137.6 54.5L137.8 54.5L138 54.5L138.2 54.5L138.4 54.5L138.6 54.5L138.8 54.4L139 54.5L139.2 54.5L139.4 54.6L139.6 54.5L139.8 54.5L140 54.6L140.2 54.5L140.4 54.6L140.6 54.5L140.8 54.5L141 54.5L141.2 54.5L141.4 54.7L141.6 54.5L141.8 54.5L142 54.6L142.2 54.5L142.4 54.6L142.6 54.5L142.8 54.5L143 54.5L143.2 54.6L143.4 54.5L143.6 54.7L143.8 54.6L144 54.7L144.2 54.5L144.4 54.5L144.6 54.5L144.8 54.7L145 54.6L145.2 54.6L145.4 54.5L145.6 54.6L145.8 54.7L146 54.5L146.2 54.2L146.4 53.9L146.6 53.6L146.8 53.4L147 53.2L147.2 53.2L147.4 53.4L147.6 53.7L147.8 53.7L148 54L148.2 54L148.4 54.1L148.6 54.1L148.8 54.1L149 53.9L149.2 54L149.4 54L149.6 54.1L149.8 53.9L150 54L150.2 54.1L150.4 53.9L150.6 54L150.8 54L151 54.1L151.2 54.1L151.4 53.9L151.6 54.1L151.8 54.1L152 54.1L152.2 54L152.4 54.1L152.6 54L152.8 54L153 54L153.2 54.1L153.4 54L153.6 54L153.8 54L154 54.1L154.2 54.1L154.4 54.1L154.6 54L154.8 54L155 54L155.2 54.1L155.4 53.9L155.6 54L155.8 54.1L156 54.1L156.2 53.9L156.4 54L156.6 54.1L156.8 54.1L157 54.1L157.2 54.1L157.4 54L157.6 54.1L157.8 54.1L158 54L158.2 54L158.4 54L158.6 54L158.8 54.2L159 54L159.2 54.1L159.4 54L159.6 54L159.8 54.1L160 54L160.2 54L160.4 54L160.6 54.1L160.8 54.1L161 54L161.2 54L161.4 54.2L161.6 54L161.8 54.1L162 54.1L162.2 54.1L162.4 54.1L162.6 54.1L162.8 54.1L163 54L163.2 54L163.4 54L163.6 54.2L163.8 54L164 54L164.2 54.2L164.4 54L164.6 54.2L164.8 54L165 54.1L165.2 54L165.4 54.2L165.6 54.1L165.8 54.1L166 54.2L166.2 54.2L166.4 54.1L166.6 54.1L166.8 54.1L167 53.8L167.2 53.7L167.4 53.4L167.6 53.2L167.8 52.9L168 52.7L168.2 52.5L168.4 52.3L168.6 51.9L168.8 51.8L169 51.8L169.2 51.7L169.4 51.8L169.6 51.9L169.8 51.8L170 51.9L170.2 51.9L170.4 51.8L170.6 51.8L170.8 52L171 51.9L171.2 51.9L171.4 51.8L171.6 51.9L171.8 51.9L172 52L172.2 52L172.4 52L172.6 52.1L172.8 52L173 52.1L173.2 52L173.4 52L173.6 52.1L173.8 52.1L174 52.1L174.2 52L174.4 52.1L174.6 52L174.8 52.2L175 52.2L175.2 52L175.4 52.2L175.6 52L175.8 52L176 52.2L176.2 52.1L176.4 52.1L176.6 52.2L176.8 52L177 52.2L177.2 52.1L177.4 52.2L177.6 52.1L177.8 52.3L178 52.3L178.2 52.2L178.4 52.1L178.6 52.2L178.8 52.2L179 52.1L179.2 52.2L179.4 52.3L179.6 52.3L179.8 52.4L180 52.4L180.2 52.4L180.4 52.3L180.6 52.2L180.8 52.3L181 52.3L181.2 52.3L181.4 52.4L181.6 52.3L181.8 52.5L182 52.3L182.2 52.4L182.4 52.5L182.6 52.5L182.8 52.4L183 52.4L183.2 52.5L183.4 52.3L183.6 52.4L183.8 52.5L184 52.5L184.2 52.4L184.4 52.4L184.6 52.4L184.8 52.6" fill="none" stroke="#942890" stroke-width="1.35" stroke-linejoin="round"/>
<path d="M18.5 77.5L18.7 77.5L18.9 77.6L19.1 77.5L19.3 77.5L19.5 77.6L19.7 77.7L19.9 77.6L20.1 77.6L20.3 77.5L20.5 77.6L20.7 77.5L20.9 77.5L21.1 77.4L21.3 77.5L21.5 77.6L21.7 77.6L21.9 77.6L22.1 77.6L22.3 77.4L22.5 77.5L22.7 77.5L22.9 77.6L23.1 77.6L23.3 77.6L23.5 77.4L23.7 77.5L23.9 77.5L24.1 77.5L24.3 77.4L24.5 77.5L24.7 77.4L24.9 77.6L25.1 77.5L25.3 77.5L25.5 77.4L25.7 77.5L25.9 77.5L26.1 77.5L26.3 77.5L26.5 77.4L26.7 77.4L26.9 77.4L27.1 77.4L27.3 77.3L27.5 77.4L27.7 77.5L27.9 77.3L28.1 77.3L28.3 77.4L28.5 77.3L28.7 77.4L28.9 77.4L29.1 77.3L29.3 77.5L29.5 77.3L29.7 77.3L29.9 77.3L30.1 77.4L30.3 77.3L30.5 77.3L30.7 77.4L30.9 77.3L31.1 77.3L31.3 77.3L31.5 76.9L31.7 76.2L31.9 74.8L32.1 72.8L32.3 70.5L32.5 69.4L32.7 70.1L32.9 72.1L33.1 74.2L33.3 75.5L33.5 76.4L33.7 76.7L33.9 76.8L34.1 76.7L34.3 76.8L34.5 76.6L34.7 76.6L34.9 76.8L35.1 76.7L35.3 76.6L35.5 76.8L35.7 76.7L35.9 76.7L36.1 76.6L36.3 76.6L36.5 76.6L36.7 76.6L36.9 76.6L37.1 76.7L37.3 76.6L37.5 76.5L37.7 76.5L37.9 76.5L38.1 76.7L38.3 76.6L38.5 76.6L38.7 76.5L38.9 76.7L39.1 76.6L39.3 76.5L39.5 76.5L39.7 76.5L39.9 76.5L40.1 76.6L40.3 76.5L40.5 76.5L40.7 76.6L40.9 76.5L41.1 76.7L41.3 76.5L41.5 76.6L41.7 76.6L41.9 76.5L42.1 76.7L42.3 76.5L42.5 76.5L42.7 76.5L42.9 76.4L43.1 76.5L43.3 76.5L43.5 76.6L43.7 76.6L43.9 76.5L44.1 76.4L44.3 76.4L44.5 76.4L44.7 76.4L44.9 76.4L45.1 76.6L45.3 76.4L45.5 76.4L45.7 76.6L45.9 76.5L46.1 76.6L46.3 76.4L46.5 76.6L46.7 76.5L46.9 76.5L47.1 76.5L47.3 76.5L47.5 76.4L47.7 76.4L47.9 76.5L48.1 76.5L48.3 76.5L48.5 76.4L48.7 76.5L48.9 76.5L49.1 76.5L49.3 76.5L49.5 76.4L49.7 76.3L49.9 75.8L50.1 74.4L50.3 72.1L50.5 68.5L50.7 64.6L50.9 63L51.1 63.9L51.3 66.8L51.5 70.1L51.7 72.7L51.9 73.8L52.1 74.6L52.3 74.7L52.5 74.6L52.7 74.6L52.9 74.7L53.1 74.7L53.3 74.7L53.5 74.8L53.7 74.6L53.9 74.5L54.1 74.7L54.3 74.5L54.5 74.7L54.7 74.5L54.9 74.7L55.1 74.7L55.3 74.7L55.5 74.6L55.7 74.7L55.9 74.5L56.1 74.6L56.3 74.6L56.5 74.7L56.7 74.6L56.9 74.6L57.1 74.6L57.3 74.5L57.5 74.5L57.7 74.6L57.9 74.6L58.1 74.6L58.3 74.6L58.5 74.5L58.7 74.5L58.9 74.6L59.1 74.5L59.3 74.4L59.5 74.6L59.7 74.6L59.9 74.3L60.1 74.2L60.3 73.8L60.5 73.4L60.7 72.7L60.9 72.2L61.1 72.2L61.3 72.7L61.5 73.1L61.7 73.6L61.9 74.1L62.1 74.4L62.3 74.4L62.5 74.4L62.7 74.5L62.9 74.5L63.1 74.3L63.3 74.5L63.5 74.3L63.7 74.4L63.9 74.5L64.1 74.4L64.3 74.5L64.5 74.3L64.7 74.5L64.9 74.3L65.1 74.3L65.3 74.4L65.5 74.3L65.7 74.4L65.9 74.5L66.1 74.4L66.3 74.2L66.5 74.3L66.7 74.4L66.9 74.3L67.1 74.4L67.3 74.3L67.5 74.2L67.7 74.3L67.9 74.4L68.1 74.3L68.3 74.4L68.5 74.4L68.7 74.3L68.9 74.3L69.1 74.3L69.3 74.2L69.5 74.4L69.7 74.3L69.9 74.4L70.1 74.2L70.3 74.3L70.5 74.3L70.7 74.3L70.9 74.2L71.1 74.1L71.3 74.3L71.5 74.2L71.7 74.2L71.9 74L72.1 73.9L72.3 73.5L72.5 72.9L72.7 71.9L72.9 71.3L73.1 71L73.3 71.5L73.5 72.3L73.7 73L73.9 73.4L74.1 73.7L74.3 73.9L74.5 73.7L74.7 73.8L74.9 73.7L75.1 73.7L75.3 73.6L75.5 73.6L75.7 73.8L75.9 73.8L76.1 73.8L76.3 73.8L76.5 73.8L76.7 73.6L76.9 73.7L77.1 73.7L77.3 73.7L77.5 73.8L77.7 73.7L77.9 73.8L78.1 73.6L78.3 73.7L78.5 73.7L78.7 73.7L78.9 73.7L79.1 73.7L79.3 73.6L79.5 73.7L79.7 73.6L79.9 73.6L80.1 73.7L80.3 73.7L80.5 73.6L80.7 73.5L80.9 73.6L81.1 73.7L81.3 73.7L81.5 73.7L81.7 73.6L81.9 73.6L82.1 73.7L82.3 73.6L82.5 73.6L82.7 73.5L82.9 73.6L83.1 73.7L83.3 73.7L83.5 73.7L83.7 73.6L83.9 73.8L84.1 73.7L84.3 73.6L84.5 73.6L84.7 73.8L84.9 73.8L85.1 73.8L85.3 73.7L85.5 73.7L85.7 73.6L85.9 73.7L86.1 73.7L86.3 73.8L86.5 73.8L86.7 73.8L86.9 73.7L87.1 73.7L87.3 73.7L87.5 73.9L87.7 73.7L87.9 73.8L88.1 73.8L88.3 73.8L88.5 73.9L88.7 73.7L88.9 73.8L89.1 73.7L89.3 73.7L89.5 73.7L89.7 73.7L89.9 73.7L90.1 73.7L90.3 73.9L90.5 73.8L90.7 73.9L90.9 73.9L91.1 73.9L91.3 73.9L91.5 73.9L91.7 73.9L91.9 73.9L92.1 73.9L92.3 73.9L92.5 73.9L92.7 73.9L92.9 73.9L93.1 73.8L93.3 73.9L93.5 73.9L93.7 73.8L93.9 73.8L94.1 74L94.3 73.8L94.5 73.9L94.7 73.9L94.9 74L95.1 73.9L95.3 73.9L95.5 73.9L95.7 73.8L95.9 74L96.1 73.8L96.3 74L96.5 73.8L96.7 73.9L96.9 74L97.1 74L97.3 73.9L97.5 74L97.7 73.9L97.9 74L98.1 73.9L98.3 74L98.5 74.1L98.7 74L98.9 74.1L99.1 74.1L99.3 74L99.5 74.1L99.7 74.1L99.9 74L100.1 73.9L100.3 74L100.5 74.1L100.7 74L100.9 74.1L101.1 74.1L101.3 74L101.5 73.9L101.7 74.1L101.8 74L102 74.1L102.2 74.1L102.4 74L102.6 74.1L102.8 74.1L103 74L103.2 74.1L103.4 74.2L103.6 74.2L103.8 74.2L104 74.1L104.2 74.1L104.4 74.1L104.6 74.1L104.8 74.2L105 74.1L105.2 74L105.4 74.2L105.6 74.1L105.8 74.1L106 74.1L106.2 74.1L106.4 74.1L106.6 74L106.8 74.2L107 74.2L107.2 74.2L107.4 74.1L107.6 74.3L107.8 74.2L108 74.2L108.2 74L108.4 74.3L108.6 74.2L108.8 74.2L109 74.1L109.2 74.2L109.4 74.1L109.6 74.2L109.8 74.1L110 74.2L110.2 74.3L110.4 74.3L110.6 74.3L110.8 74.2L111 74.2L111.2 74.2L111.4 74.1L111.6 74.2L111.8 74.3L112 74.3L112.2 74.3L112.4 74.2L112.6 74.3L112.8 74.3L113 74.3L113.2 74.2L113.4 74.1L113.6 74.1L113.8 74.3L114 74.3L114.2 74.2L114.4 74.3L114.6 74.2L114.8 74.3L115 74.3L115.2 74.2L115.4 74.3L115.6 74.2L115.8 74.2L116 74.1L116.2 74.2L116.4 74.2L116.6 74.3L116.8 74.1L117 74.3L117.2 74.1L117.4 74.4L117.6 74.2L117.8 74.1L118 74.2L118.2 74.3L118.4 74.3L118.6 74.3L118.8 74.2L119 74.2L119.2 74.2L119.4 74.2L119.6 74.4L119.8 74.2L120 74.2L120.2 74.3L120.4 74.2L120.6 74.4L120.8 74.2L121 74.3L121.2 74.3L121.4 74.4L121.6 74.2L121.8 74.3L122 74.2L122.2 74.3L122.4 74.2L122.6 74.3L122.8 74.2L123 74.2L123.2 74.2L123.4 74.2L123.6 74.2L123.8 74.4L124 74.3L124.2 74.2L124.4 74.4L124.6 74.2L124.8 74.2L125 74.4L125.2 74.4L125.4 74.3L125.6 74.4L125.8 74.2L126 74.4L126.2 74.3L126.4 74.3L126.6 74.4L126.8 74.2L127 74.2L127.2 74.2L127.4 74.3L127.6 74.3L127.8 74.3L128 74.3L128.2 74.4L128.4 74.4L128.6 74.4L128.8 74.2L129 74.2L129.2 74.2L129.4 74.2L129.6 74.3L129.8 74.2L130 74.3L130.2 74.3L130.4 74.3L130.6 74.4L130.8 74.4L131 74.2L131.2 74.3L131.4 74.4L131.6 74.3L131.8 74.2L132 74.2L132.2 74.4L132.4 74.4L132.6 74.4L132.8 74.3L133 74.2L133.2 74.3L133.4 74.4L133.6 74.3L133.8 74.2L134 74.3L134.2 74.3L134.4 74.3L134.6 74.3L134.8 74.2L135 74.2L135.2 74.4L135.4 74.4L135.6 74.3L135.8 74.3L136 74.3L136.2 74.4L136.4 74.4L136.6 74.3L136.8 74.5L137 74.4L137.2 74.3L137.4 74.4L137.6 74.4L137.8 74.4L138 74.4L138.2 74.2L138.4 74.3L138.6 74.4L138.8 74.3L139 74.3L139.2 74.3L139.4 74.3L139.6 74.3L139.8 74.3L140 74.4L140.2 74.3L140.4 74.3L140.6 74.4L140.8 74.4L141 74.5L141.2 74.5L141.4 74.3L141.6 74.3L141.8 74.4L142 74.4L142.2 74.3L142.4 74.5L142.6 74.3L142.8 74.4L143 74.3L143.2 74.5L143.4 74.4L143.6 74.5L143.8 74.3L144 74.4L144.2 74.4L144.4 74.3L144.6 74.5L144.8 74.5L145 74.3L145.2 74.5L145.4 74.5L145.6 74.4L145.8 74.4L146 74.2L146.2 74L146.4 73.8L146.6 73.6L146.8 73.2L147 73.1L147.2 73L147.4 73.2L147.6 73.5L147.8 73.7L148 73.6L148.2 73.7L148.4 73.7L148.6 73.8L148.8 73.9L149 73.9L149.2 73.7L149.4 73.8L149.6 73.7L149.8 73.8L150 73.9L150.2 73.8L150.4 73.9L150.6 73.9L150.8 73.9L151 73.7L151.2 73.9L151.4 73.9L151.6 73.9L151.8 73.7L152 73.7L152.2 73.8L152.4 73.8L152.6 73.8L152.8 73.7L153 73.9L153.2 73.9L153.4 73.9L153.6 73.8L153.8 73.8L154 73.9L154.2 73.7L154.4 73.8L154.6 73.7L154.8 73.7L155 73.9L155.2 73.8L155.4 73.8L155.6 73.8L155.8 73.9L156 73.8L156.2 73.9L156.4 73.7L156.6 74L156.8 73.8L157 73.9L157.2 73.9L157.4 73.8L157.6 73.8L157.8 73.8L158 73.9L158.2 73.9L158.4 73.9L158.6 73.8L158.8 73.9L159 73.8L159.2 73.9L159.4 73.9L159.6 73.9L159.8 73.9L160 73.9L160.2 73.8L160.4 74L160.6 73.9L160.8 73.9L161 74L161.2 73.9L161.4 73.8L161.6 73.8L161.8 73.8L162 73.8L162.2 73.8L162.4 73.8L162.6 73.9L162.8 73.8L163 73.8L163.2 73.9L163.4 73.8L163.6 74L163.8 74L164 73.8L164.2 74L164.4 73.8L164.6 73.8L164.8 74L165 73.8L165.2 73.8L165.4 74L165.6 73.8L165.8 73.9L166 73.9L166.2 73.8L166.4 73.8L166.6 74L166.8 73.9L167 73.5L167.2 73.2L167.4 72.9L167.6 72.5L167.8 72.1L168 72L168.2 71.5L168.4 71.1L168.6 70.8L168.8 70.7L169 70.6L169.2 70.7L169.4 70.7L169.6 70.8L169.8 70.7L170 70.7L170.2 70.8L170.4 70.6L170.6 70.7L170.8 70.8L171 70.8L171.2 70.8L171.4 70.9L171.6 70.8L171.8 70.9L172 70.9L172.2 70.8L172.4 70.9L172.6 70.9L172.8 70.8L173 70.9L173.2 70.9L173.4 71L173.6 71.1L173.8 71.1L174 71.1L174.2 71L174.4 71.1L174.6 71.2L174.8 71.1L175 71.2L175.2 71.1L175.4 71.3L175.6 71.3L175.8 71.3L176 71.3L176.2 71.3L176.4 71.2L176.6 71.3L176.8 71.4L177 71.3L177.2 71.4L177.4 71.5L177.6 71.3L177.8 71.3L178 71.3L178.2 71.5L178.4 71.5L178.6 71.5L178.8 71.4L179 71.4L179.2 71.5L179.4 71.6L179.6 71.5L179.8 71.5L180 71.6L180.2 71.7L180.4 71.5L180.6 71.7L180.8 71.5L181 71.7L181.2 71.7L181.4 71.7L181.6 71.8L181.8 71.7L182 71.7L182.2 71.7L182.4 71.7L182.6 71.9L182.8 71.8L183 71.9L183.2 72L183.4 71.9L183.6 72L183.8 72L184 72L184.2 72L184.4 71.9L184.6 72L184.8 72.1" fill="none" stroke="#269a3c" stroke-width="1.35" stroke-linejoin="round"/>
<path d="M18.5 95.3L18.7 95.4L18.9 95.4L19.1 95.4L19.3 95.4L19.5 95.4L19.7 95.2L19.9 95.3L20.1 95.4L20.3 95.3L20.5 95.4L20.7 95.2L20.9 95.3L21.1 95.2L21.3 95.3L21.5 95.3L21.7 95.2L21.9 95.2L22.1 95.2L22.3 95.4L22.5 95.3L22.7 95.2L22.9 95.3L23.1 95.2L23.3 95.3L23.5 95.2L23.7 95.1L23.9 95.4L24.1 95.2L24.3 95.2L24.5 95.4L24.7 95.3L24.9 95.2L25.1 95.4L25.3 95.3L25.5 95.3L25.7 95.2L25.9 95.4L26.1 95.3L26.3 95.4L26.5 95.3L26.7 95.2L26.9 95.2L27.1 95.2L27.3 95.2L27.5 95.1L27.7 95.2L27.9 95.3L28.1 95.1L28.3 95.3L28.5 95.2L28.7 95.2L28.9 95.3L29.1 95.2L29.3 95.2L29.5 95.2L29.7 95.3L29.9 95.1L30.1 95.3L30.3 95.1L30.5 95.3L30.7 95.3L30.9 95.1L31.1 95.3L31.3 95.1L31.5 95.1L31.7 94.8L31.9 94.6L32.1 94.4L32.3 94.4L32.5 94.1L32.7 94.3L32.9 94.6L33.1 94.8L33.3 94.9L33.5 95L33.7 95.1L33.9 95.2L34.1 95.1L34.3 95.2L34.5 95.3L34.7 95.3L34.9 95.1L35.1 95.3L35.3 95.1L35.5 95.1L35.7 95.2L35.9 95.3L36.1 95.1L36.3 95.3L36.5 95.2L36.7 95.1L36.9 95.1L37.1 95.1L37.3 95.1L37.5 95.1L37.7 95.2L37.9 95.3L38.1 95.1L38.3 95.1L38.5 95.3L38.7 95.2L38.9 95.1L39.1 95.1L39.3 95.2L39.5 95.2L39.7 95.1L39.9 95.1L40.1 95L40.3 95.2L40.5 95L40.7 95.1L40.9 95.2L41.1 95.1L41.3 95.2L41.5 95.2L41.7 95.2L41.9 95.2L42.1 95L42.3 95.1L42.5 95L42.7 95.2L42.9 95.1L43.1 95.1L43.3 95.2L43.5 95.2L43.7 95.2L43.9 95.1L44.1 95.1L44.3 95.2L44.5 95.1L44.7 95.1L44.9 95.1L45.1 95L45.3 95.1L45.5 95.2L45.7 95.2L45.9 95.1L46.1 95.1L46.3 95.1L46.5 95L46.7 95L46.9 95.2L47.1 95.2L47.3 95.1L47.5 95.2L47.7 95.2L47.9 95.1L48.1 95.1L48.3 95.2L48.5 95.1L48.7 95.1L48.9 95L49.1 95.1L49.3 95.1L49.5 95.1L49.7 95L49.9 95.2L50.1 95.1L50.3 95.1L50.5 95L50.7 95.1L50.9 95L51.1 95.1L51.3 95.1L51.5 95.1L51.7 95.1L51.9 95.1L52.1 95L52.3 95.1L52.5 95.1L52.7 95.1L52.9 95L53.1 95.1L53.3 95.1L53.5 95.1L53.7 95.2L53.9 95.2L54.1 95.1L54.3 95.1L54.5 95L54.7 95.1L54.9 95.1L55.1 95L55.3 95.1L55.5 95.1L55.7 95.1L55.9 95L56.1 95.1L56.3 95.1L56.5 95.1L56.7 95L56.9 95.1L57.1 95.1L57.3 95.1L57.5 95.1L57.7 94.9L57.9 94.9L58.1 95L58.3 95.1L58.5 94.9L58.7 95.1L58.9 95L59.1 94.9L59.3 95L59.5 94.9L59.7 94.9L59.9 94.9L60.1 94.7L60.3 94.2L60.5 93.1L60.7 90.9L60.9 88.1L61.1 85.2L61.3 83.6L61.5 83.6L61.7 84.9L61.9 86.7L62.1 87.8L62.3 88.9L62.5 89.6L62.7 90.4L62.9 91L63.1 91.7L63.3 91.9L63.5 92.1L63.7 92.3L63.9 92.2L64.1 92.3L64.3 92.3L64.5 92.3L64.7 92.4L64.9 92.4L65.1 92.3L65.3 92.4L65.5 92.3L65.7 92.2L65.9 92.2L66.1 92.3L66.3 92.3L66.5 92.3L66.7 92.3L66.9 92.2L67.1 92.2L67.3 92.3L67.5 92.1L67.7 92.1L67.9 92.2L68.1 92.2L68.3 92.1L68.5 92.2L68.7 92.2L68.9 92.1L69.1 92.1L69.3 92.1L69.5 92.1L69.7 92.2L69.9 92.1L70.1 92.2L70.3 92.2L70.5 92.1L70.7 92L70.9 92.2L71.1 92.1L71.3 92L71.5 92L71.7 92.1L71.9 91.9L72.1 91.7L72.3 91.1L72.5 89.6L72.7 87.2L72.9 83.6L73.1 80.2L73.3 78.4L73.5 79L73.7 81.3L73.9 84.6L74.1 87.1L74.3 89L74.5 89.8L74.7 89.9L74.9 90L75.1 90L75.3 90.2L75.5 90L75.7 90L75.9 90L76.1 90L76.3 90L76.5 90L76.7 89.8L76.9 89.9L77.1 89.8L77.3 89.8L77.5 89.7L77.7 89.7L77.9 89.7L78.1 89.7L78.3 89.7L78.5 89.7L78.7 89.7L78.9 89.5L79.1 89.5L79.3 89.4L79.5 89.4L79.7 89.3L79.9 89.1L80.1 88.9L80.3 89.2L80.5 89.2L80.7 89.3L80.9 89.4L81.1 89.5L81.3 89.5L81.5 89.7L81.7 89.6L81.9 89.7L82.1 89.9L82.3 89.7L82.5 89.8L82.7 89.9L82.9 89.7L83.1 89.9L83.3 89.9L83.5 89.8L83.7 89.8L83.9 89.9L84.1 90L84.3 89.8L84.5 89.9L84.7 89.9L84.9 89.9L85.1 89.9L85.3 89.8L85.5 90L85.7 90L85.9 89.8L86.1 89.9L86.3 90L86.5 90L86.7 90L86.9 89.9L87.1 90.1L87.3 90.1L87.5 90.1L87.7 90.1L87.9 89.9L88.1 90.1L88.3 90L88.5 90.1L88.7 90.2L88.9 90.1L89.1 90L89.3 90L89.5 90.2L89.7 90L89.9 90.1L90.1 90.1L90.3 90L90.5 90.2L90.7 90L90.9 90.1L91.1 90.1L91.3 90.1L91.5 90.1L91.7 90.2L91.9 90.2L92.1 90.3L92.3 90.1L92.5 90.2L92.7 90.2L92.9 90.3L93.1 90.2L93.3 90.3L93.5 90.2L93.7 90.2L93.9 90.3L94.1 90.2L94.3 90.3L94.5 90.3L94.7 90.4L94.9 90.3L95.1 90.3L95.3 90.3L95.5 90.3L95.7 90.3L95.9 90.4L96.1 90.4L96.3 90.3L96.5 90.3L96.7 90.3L96.9 90.4L97.1 90.3L97.3 90.5L97.5 90.4L97.7 90.3L97.9 90.5L98.1 90.3L98.3 90.3L98.5 90.5L98.7 90.4L98.9 90.6L99.1 90.5L99.3 90.4L99.5 90.6L99.7 90.4L99.9 90.6L100.1 90.4L100.3 90.4L100.5 90.6L100.7 90.6L100.9 90.5L101.1 90.5L101.3 90.7L101.5 90.6L101.7 90.6L101.8 90.5L102 90.6L102.2 90.6L102.4 90.5L102.6 90.6L102.8 90.6L103 90.6L103.2 90.6L103.4 90.6L103.6 90.7L103.8 90.7L104 90.7L104.2 90.7L104.4 90.8L104.6 90.7L104.8 90.7L105 90.7L105.2 90.8L105.4 90.7L105.6 90.6L105.8 90.6L106 90.7L106.2 90.6L106.4 90.9L106.6 90.8L106.8 90.8L107 90.7L107.2 90.8L107.4 90.9L107.6 90.8L107.8 90.8L108 90.8L108.2 90.7L108.4 90.8L108.6 90.8L108.8 90.8L109 90.8L109.2 91L109.4 90.8L109.6 90.8L109.8 90.8L110 90.8L110.2 90.8L110.4 90.8L110.6 90.9L110.8 90.8L111 91L111.2 90.9L111.4 91L111.6 90.9L111.8 90.9L112 90.9L112.2 91L112.4 90.8L112.6 90.9L112.8 90.8L113 90.9L113.2 91L113.4 90.8L113.6 90.8L113.8 90.8L114 90.8L114.2 90.8L114.4 90.9L114.6 91L114.8 90.9L115 90.9L115.2 90.9L115.4 90.8L115.6 91L115.8 91L116 90.8L116.2 90.8L116.4 90.9L116.6 91L116.8 90.9L117 90.9L117.2 91L117.4 90.8L117.6 90.8L117.8 91L118 90.9L118.2 90.8L118.4 90.9L118.6 91L118.8 90.9L119 90.9L119.2 90.8L119.4 90.8L119.6 91L119.8 90.9L120 91L120.2 90.8L120.4 90.8L120.6 90.8L120.8 90.9L121 90.8L121.2 90.8L121.4 90.9L121.6 90.9L121.8 90.8L122 90.8L122.2 91L122.4 90.8L122.6 90.9L122.8 90.9L123 90.9L123.2 90.8L123.4 90.9L123.6 90.8L123.8 90.9L124 91L124.2 90.9L124.4 91L124.6 90.8L124.8 90.8L125 90.9L125.2 90.9L125.4 90.9L125.6 90.9L125.8 90.9L126 91L126.2 91L126.4 90.9L126.6 90.9L126.8 91L127 90.8L127.2 90.8L127.4 90.9L127.6 90.8L127.8 91L128 91L128.2 90.9L128.4 90.8L128.6 90.8L128.8 90.8L129 90.8L129.2 90.9L129.4 90.9L129.6 90.8L129.8 90.8L130 90.9L130.2 90.8L130.4 90.8L130.6 90.8L130.8 90.9L131 90.8L131.2 90.9L131.4 90.9L131.6 91L131.8 90.9L132 91L132.2 90.9L132.4 91L132.6 90.9L132.8 90.9L133 91L133.2 90.9L133.4 91L133.6 91L133.8 90.9L134 90.8L134.2 91L134.4 90.9L134.6 90.8L134.8 90.8L135 90.8L135.2 90.8L135.4 90.9L135.6 90.8L135.8 90.8L136 91L136.2 90.9L136.4 90.8L136.6 90.8L136.8 90.8L137 90.9L137.2 91L137.4 91L137.6 90.9L137.8 90.8L138 90.9L138.2 90.9L138.4 90.9L138.6 90.8L138.8 90.9L139 91L139.2 91L139.4 90.8L139.6 90.9L139.8 90.8L140 91L140.2 90.9L140.4 91L140.6 91L140.8 90.8L141 90.9L141.2 91L141.4 90.9L141.6 90.9L141.8 90.9L142 91L142.2 91L142.4 90.9L142.6 91L142.8 90.9L143 90.8L143.2 91L143.4 90.9L143.6 90.8L143.8 91L144 90.8L144.2 90.9L144.4 90.9L144.6 91L144.8 90.9L145 90.8L145.2 90.8L145.4 90.8L145.6 90.9L145.8 90.7L146 90.6L146.2 90.1L146.4 89.6L146.6 88.6L146.8 87.9L147 87.3L147.2 87.1L147.4 87.1L147.6 87.3L147.8 87.7L148 88.2L148.2 88.3L148.4 88.3L148.6 88.3L148.8 88.3L149 88.5L149.2 88.5L149.4 88.4L149.6 88.5L149.8 88.4L150 88.5L150.2 88.5L150.4 88.5L150.6 88.5L150.8 88.4L151 88.4L151.2 88.5L151.4 88.5L151.6 88.4L151.8 88.5L152 88.4L152.2 88.4L152.4 88.5L152.6 88.5L152.8 88.5L153 88.6L153.2 88.5L153.4 88.6L153.6 88.6L153.8 88.6L154 88.6L154.2 88.6L154.4 88.5L154.6 88.6L154.8 88.5L155 88.6L155.2 88.6L155.4 88.6L155.6 88.5L155.8 88.5L156 88.5L156.2 88.5L156.4 88.6L156.6 88.6L156.8 88.6L157 88.5L157.2 88.7L157.4 88.5L157.6 88.7L157.8 88.5L158 88.7L158.2 88.7L158.4 88.7L158.6 88.7L158.8 88.7L159 88.7L159.2 88.7L159.4 88.7L159.6 88.6L159.8 88.7L160 88.8L160.2 88.6L160.4 88.8L160.6 88.7L160.8 88.6L161 88.6L161.2 88.7L161.4 88.6L161.6 88.7L161.8 88.8L162 88.8L162.2 88.7L162.4 88.7L162.6 88.6L162.8 88.8L163 88.7L163.2 88.8L163.4 88.7L163.6 88.8L163.8 88.7L164 88.7L164.2 88.7L164.4 88.8L164.6 88.8L164.8 88.7L165 88.8L165.2 88.8L165.4 88.7L165.6 88.7L165.8 88.8L166 88.9L166.2 88.9L166.4 88.8L166.6 88.8L166.8 88.8L167 88.8L167.2 88.6L167.4 88.1L167.6 87.8L167.8 87.6L168 87.4L168.2 86.9L168.4 86.6L168.6 86.3L168.8 86.1L169 85.8L169.2 85.7L169.4 85.8L169.6 85.9L169.8 85.9L170 85.9L170.2 85.9L170.4 85.8L170.6 85.9L170.8 86L171 86L171.2 85.9L171.4 86L171.6 86L171.8 86.1L172 85.9L172.2 86.1L172.4 86.1L172.6 86L172.8 85.9L173 86L173.2 86L173.4 86L173.6 86L173.8 86.1L174 86L174.2 86.2L174.4 86.2L174.6 86.2L174.8 86.2L175 86.2L175.2 86.3L175.4 86.3L175.6 86.2L175.8 86.3L176 86.1L176.2 86.2L176.4 86.2L176.6 86.2L176.8 86.3L177 86.3L177.2 86.4L177.4 86.4L177.6 86.2L177.8 86.3L178 86.4L178.2 86.4L178.4 86.3L178.6 86.4L178.8 86.4L179 86.5L179.2 86.4L179.4 86.6L179.6 86.6L179.8 86.4L180 86.6L180.2 86.6L180.4 86.5L180.6 86.4L180.8 86.5L181 86.5L181.2 86.6L181.4 86.7L181.6 86.6L181.8 86.6L182 86.6L182.2 86.7L182.4 86.7L182.6 86.7L182.8 86.6L183 86.6L183.2 86.8L183.4 86.7L183.6 86.6L183.8 86.7L184 86.7L184.2 86.8L184.4 86.7L184.6 86.7L184.8 86.7" fill="none" stroke="#151515" stroke-width="1.35" stroke-linejoin="round"/>
<path d="M18.5 116L18.7 116L18.9 115.9L19.1 115.8L19.3 115.8L19.5 115.9L19.7 115.9L19.9 115.9L20.1 115.8L20.3 115.9L20.5 115.8L20.7 115.9L20.9 115.9L21.1 115.8L21.3 115.8L21.5 115.9L21.7 115.8L21.9 115.8L22.1 115.9L22.3 115.8L22.5 115.9L22.7 115.9L22.9 115.9L23.1 115.8L23.3 115.7L23.5 115.9L23.7 115.9L23.9 115.8L24.1 115.7L24.3 115.7L24.5 115.8L24.7 115.7L24.9 115.9L25.1 115.8L25.3 115.7L25.5 115.8L25.7 115.7L25.9 115.8L26.1 115.8L26.3 115.7L26.5 115.8L26.7 115.8L26.9 115.8L27.1 115.8L27.3 115.6L27.5 115.7L27.7 115.7L27.9 115.6L28.1 115.7L28.3 115.6L28.5 115.8L28.7 115.7L28.9 115.6L29.1 115.7L29.3 115.6L29.5 115.6L29.7 115.6L29.9 115.6L30.1 115.6L30.3 115.7L30.5 115.7L30.7 115.5L30.9 115.7L31.1 115.5L31.3 115.5L31.5 115.3L31.7 114.3L31.9 112.4L32.1 109.5L32.3 106.6L32.5 105.2L32.7 106.4L32.9 108.8L33.1 111.6L33.3 113.5L33.5 114.4L33.7 114.9L33.9 114.8L34.1 115L34.3 115L34.5 114.9L34.7 115L34.9 114.9L35.1 114.9L35.3 114.9L35.5 114.9L35.7 114.9L35.9 114.9L36.1 114.8L36.3 114.7L36.5 114.9L36.7 114.8L36.9 114.8L37.1 114.9L37.3 114.8L37.5 114.7L37.7 114.7L37.9 114.8L38.1 114.8L38.3 114.8L38.5 114.8L38.7 114.9L38.9 114.7L39.1 114.8L39.3 114.9L39.5 114.8L39.7 114.7L39.9 114.8L40.1 114.8L40.3 114.7L40.5 114.7L40.7 114.7L40.9 114.8L41.1 114.7L41.3 114.8L41.5 114.9L41.7 114.9L41.9 114.7L42.1 114.8L42.3 114.7L42.5 114.7L42.7 114.7L42.9 114.8L43.1 114.8L43.3 114.7L43.5 114.6L43.7 114.7L43.9 114.6L44.1 114.6L44.3 114.8L44.5 114.6L44.7 114.8L44.9 114.7L45.1 114.8L45.3 114.8L45.5 114.6L45.7 114.6L45.9 114.8L46.1 114.7L46.3 114.7L46.5 114.7L46.7 114.7L46.9 114.7L47.1 114.7L47.3 114.6L47.5 114.6L47.7 114.6L47.9 114.7L48.1 114.7L48.3 114.6L48.5 114.7L48.7 114.5L48.9 114.5L49.1 114.7L49.3 114.6L49.5 114.7L49.7 114.4L49.9 113.8L50.1 112.1L50.3 109.1L50.5 104.3L50.7 99.8L50.9 97.4L51.1 98.6L51.3 102.3L51.5 106.5L51.7 109.7L51.9 111.2L52.1 111.8L52.3 112.2L52.5 112.3L52.7 112.2L52.9 112.3L53.1 112.2L53.3 112.2L53.5 112.3L53.7 112.1L53.9 112.3L54.1 112.3L54.3 112.2L54.5 112.3L54.7 112.1L54.9 112.3L55.1 112.2L55.3 112.4L55.5 112.2L55.7 112.4L55.9 112.1L56.1 112.2L56.3 112.3L56.5 112.3L56.7 112.3L56.9 112.2L57.1 112.2L57.3 112.3L57.5 112.2L57.7 112.4L57.9 112.4L58.1 112.4L58.3 112.3L58.5 112.3L58.7 112.2L58.9 112.4L59.1 112.2L59.3 112.3L59.5 112.3L59.7 112.3L59.9 112.2L60.1 112.2L60.3 112.3L60.5 112.2L60.7 112.3L60.9 112.3L61.1 112.3L61.3 112.3L61.5 112.4L61.7 112.3L61.9 112.3L62.1 112.3L62.3 112.4L62.5 112.5L62.7 112.3L62.9 112.3L63.1 112.3L63.3 112.3L63.5 112.4L63.7 112.5L63.9 112.4L64.1 112.3L64.3 112.3L64.5 112.4L64.7 112.4L64.9 112.4L65.1 112.5L65.3 112.4L65.5 112.4L65.7 112.5L65.9 112.5L66.1 112.5L66.3 112.4L66.5 112.5L66.7 112.5L66.9 112.4L67.1 112.5L67.3 112.4L67.5 112.3L67.7 112.3L67.9 112.5L68.1 112.4L68.3 112.5L68.5 112.4L68.7 112.4L68.9 112.4L69.1 112.5L69.3 112.5L69.5 112.4L69.7 112.5L69.9 112.6L70.1 112.4L70.3 112.5L70.5 112.5L70.7 112.6L70.9 112.4L71.1 112.5L71.3 112.4L71.5 112.4L71.7 112.6L71.9 112.4L72.1 112.6L72.3 112.6L72.5 112.6L72.7 112.6L72.9 112.6L73.1 112.5L73.3 112.5L73.5 112.5L73.7 112.6L73.9 112.6L74.1 112.6L74.3 112.5L74.5 112.6L74.7 112.5L74.9 112.6L75.1 112.6L75.3 112.7L75.5 112.6L75.7 112.6L75.9 112.6L76.1 112.5L76.3 112.6L76.5 112.5L76.7 112.6L76.9 112.5L77.1 112.7L77.3 112.5L77.5 112.7L77.7 112.7L77.9 112.6L78.1 112.7L78.3 112.5L78.5 112.5L78.7 112.5L78.9 112.5L79.1 112.5L79.3 112.7L79.5 112.5L79.7 112.7L79.9 112.6L80.1 112.5L80.3 112.6L80.5 112.6L80.7 112.8L80.9 112.6L81.1 112.7L81.3 112.7L81.5 112.7L81.7 112.7L81.9 112.6L82.1 112.6L82.3 112.8L82.5 112.6L82.7 112.7L82.9 112.8L83.1 112.7L83.3 112.8L83.5 112.8L83.7 112.7L83.9 112.6L84.1 112.7L84.3 112.7L84.5 112.8L84.7 112.7L84.9 112.8L85.1 112.8L85.3 112.7L85.5 112.8L85.7 112.8L85.9 112.6L86.1 112.8L86.3 112.8L86.5 112.8L86.7 112.7L86.9 112.7L87.1 112.7L87.3 112.7L87.5 112.8L87.7 112.7L87.9 112.6L88.1 112.7L88.3 112.7L88.5 112.8L88.7 112.8L88.9 112.9L89.1 112.7L89.3 112.7L89.5 112.7L89.7 112.9L89.9 112.9L90.1 112.8L90.3 112.9L90.5 112.8L90.7 112.9L90.9 112.8L91.1 112.8L91.3 112.9L91.5 112.9L91.7 112.8L91.9 112.9L92.1 112.9L92.3 112.9L92.5 112.7L92.7 112.7L92.9 112.7L93.1 112.9L93.3 112.9L93.5 112.8L93.7 112.8L93.9 112.8L94.1 112.9L94.3 112.9L94.5 112.8L94.7 113L94.9 112.9L95.1 112.8L95.3 112.8L95.5 112.8L95.7 112.9L95.9 113L96.1 112.8L96.3 112.8L96.5 112.9L96.7 113L96.9 113L97.1 112.9L97.3 112.8L97.5 112.9L97.7 112.9L97.9 113L98.1 112.9L98.3 113L98.5 113L98.7 113L98.9 113L99.1 112.9L99.3 112.8L99.5 113L99.7 112.8L99.9 113.1L100.1 112.9L100.3 112.8L100.5 112.9L100.7 113L100.9 112.9L101.1 113L101.3 112.9L101.5 113L101.7 112.9L101.8 113.1L102 112.9L102.2 113L102.4 113L102.6 113L102.8 112.9L103 113L103.2 113.1L103.4 112.9L103.6 113L103.8 112.9L104 113.1L104.2 113.1L104.4 113.1L104.6 113L104.8 112.9L105 112.9L105.2 113.1L105.4 113.1L105.6 113.1L105.8 113.1L106 113L106.2 113L106.4 113.1L106.6 113L106.8 113.1L107 113.1L107.2 113L107.4 113.2L107.6 113.1L107.8 113L108 113.1L108.2 113.1L108.4 113.1L108.6 113L108.8 113.2L109 113.1L109.2 113.1L109.4 113L109.6 113L109.8 113L110 113L110.2 113.1L110.4 113L110.6 113L110.8 113.2L111 113.1L111.2 113.2L111.4 113L111.6 113.2L111.8 113.1L112 113L112.2 113.2L112.4 113.1L112.6 113L112.8 113L113 113.2L113.2 113L113.4 113.1L113.6 113.1L113.8 113.1L114 113.1L114.2 113L114.4 113.1L114.6 113.1L114.8 113.1L115 113.1L115.2 113L115.4 113.1L115.6 113.2L115.8 113.1L116 113.1L116.2 113.2L116.4 113L116.6 113L116.8 113.2L117 113L117.2 113.1L117.4 113.1L117.6 113.2L117.8 113.1L118 113.2L118.2 113L118.4 113L118.6 113.1L118.8 113L119 113.1L119.2 113.1L119.4 113L119.6 113L119.8 113.1L120 113.1L120.2 113L120.4 113L120.6 113L120.8 113L121 113L121.2 113.1L121.4 113.1L121.6 113.2L121.8 113.1L122 113.1L122.2 113L122.4 113.1L122.6 113.1L122.8 113.2L123 113L123.2 113L123.4 113L123.6 113.1L123.8 113.2L124 113L124.2 113.1L124.4 113.1L124.6 113.2L124.8 113.2L125 113L125.2 113.1L125.4 113L125.6 113L125.8 113L126 113.1L126.2 113L126.4 113L126.6 113L126.8 113L127 113L127.2 113L127.4 113L127.6 113L127.8 113L128 113.1L128.2 113.1L128.4 113.1L128.6 113L128.8 113.1L129 113L129.2 113L129.4 113L129.6 113.1L129.8 113L130 113L130.2 113L130.4 113.1L130.6 113.1L130.8 113.1L131 113.1L131.2 113L131.4 113.2L131.6 113.1L131.8 113L132 113L132.2 113.1L132.4 113L132.6 113.1L132.8 113.2L133 113L133.2 113.1L133.4 113L133.6 113.2L133.8 113L134 113L134.2 113.1L134.4 113L134.6 113.2L134.8 113L135 113.1L135.2 113L135.4 113.1L135.6 113L135.8 113L136 113.1L136.2 113L136.4 113.1L136.6 113.1L136.8 113L137 113L137.2 113L137.4 113.2L137.6 112.9L137.8 113.1L138 113.1L138.2 113L138.4 113.1L138.6 113.1L138.8 113.1L139 113.2L139.2 113.1L139.4 113L139.6 113L139.8 113.1L140 113L140.2 112.9L140.4 113.1L140.6 113L140.8 113L141 113.1L141.2 113.1L141.4 113.1L141.6 113.1L141.8 113.1L142 113.2L142.2 113.1L142.4 113L142.6 113.1L142.8 113L143 113.1L143.2 113.1L143.4 113L143.6 113L143.8 113.1L144 113L144.2 112.9L144.4 113.1L144.6 112.9L144.8 112.9L145 112.9L145.2 113.1L145.4 113.1L145.6 113L145.8 113.1L146 113L146.2 113L146.4 113.2L146.6 112.9L146.8 112.9L147 113L147.2 113.1L147.4 113L147.6 113L147.8 113L148 113L148.2 113.1L148.4 113.1L148.6 113L148.8 113L149 113.1L149.2 113L149.4 113L149.6 113L149.8 113.1L150 113L150.2 113.1L150.4 113.1L150.6 113.1L150.8 112.9L151 113.1L151.2 113.1L151.4 112.9L151.6 112.9L151.8 113.1L152 113.1L152.2 113L152.4 113.1L152.6 112.9L152.8 113L153 113L153.2 113L153.4 113.1L153.6 113L153.8 113.1L154 113.1L154.2 112.9L154.4 113L154.6 113L154.8 113L155 113L155.2 112.9L155.4 112.9L155.6 113L155.8 113L156 112.9L156.2 113L156.4 113L156.6 113.1L156.8 113L157 113L157.2 113L157.4 113.1L157.6 113.1L157.8 113.1L158 113.1L158.2 113.1L158.4 112.9L158.6 113.1L158.8 113L159 113L159.2 113L159.4 112.9L159.6 113L159.8 112.9L160 112.9L160.2 113L160.4 113.1L160.6 113L160.8 113L161 113.1L161.2 113L161.4 113L161.6 113L161.8 113L162 112.9L162.2 113.1L162.4 113L162.6 113L162.8 113L163 113L163.2 113L163.4 112.9L163.6 112.9L163.8 113L164 113L164.2 112.9L164.4 112.9L164.6 113L164.8 113.1L165 113.1L165.2 112.9L165.4 113L165.6 113L165.8 112.9L166 113L166.2 113.1L166.4 113.1L166.6 112.9L166.8 113.1L167 112.9L167.2 112.7L167.4 112.2L167.6 112L167.8 111.6L168 111.4L168.2 111L168.4 110.7L168.6 110.2L168.8 110L169 109.5L169.2 109.5L169.4 109.7L169.6 109.5L169.8 109.6L170 109.6L170.2 109.6L170.4 109.8L170.6 109.8L170.8 109.7L171 109.7L171.2 109.8L171.4 109.6L171.6 109.8L171.8 109.9L172 109.8L172.2 109.8L172.4 109.8L172.6 109.7L172.8 109.8L173 109.8L173.2 109.8L173.4 109.9L173.6 109.8L173.8 109.8L174 110L174.2 109.9L174.4 109.8L174.6 110L174.8 109.9L175 109.9L175.2 110L175.4 110L175.6 110L175.8 110.1L176 110.1L176.2 110L176.4 110.1L176.6 110.1L176.8 110.1L177 110.1L177.2 110.1L177.4 110.2L177.6 110L177.8 110.3L178 110.2L178.2 110.2L178.4 110.1L178.6 110.2L178.8 110.2L179 110.3L179.2 110.3L179.4 110.2L179.6 110.2L179.8 110.4L180 110.2L180.2 110.4L180.4 110.4L180.6 110.4L180.8 110.2L181 110.4L181.2 110.5L181.4 110.3L181.6 110.3L181.8 110.5L182 110.5L182.2 110.5L182.4 110.5L182.6 110.5L182.8 110.4L183 110.4L183.2 110.4L183.4 110.5L183.6 110.6L183.8 110.7L184 110.5L184.2 110.5L184.4 110.5L184.6 110.7L184.8 110.5" fill="none" stroke="#f89830" stroke-width="1.35" stroke-linejoin="round"/>
<path d="M18.5 135.1L18.7 135L18.9 135.1L19.1 135L19.3 135.1L19.5 135L19.7 135L19.9 135.1L20.1 135L20.3 135L20.5 135L20.7 135L20.9 135L21.1 135.1L21.3 134.9L21.5 135L21.7 135.1L21.9 135.1L22.1 135L22.3 135L22.5 135.1L22.7 134.9L22.9 135.1L23.1 134.9L23.3 134.9L23.5 134.9L23.7 134.9L23.9 135.1L24.1 134.9L24.3 135L24.5 135L24.7 134.9L24.9 135L25.1 134.8L25.3 134.8L25.5 134.9L25.7 135L25.9 134.9L26.1 134.9L26.3 134.9L26.5 134.9L26.7 134.9L26.9 135L27.1 135L27.3 134.8L27.5 134.9L27.7 134.9L27.9 135L28.1 134.9L28.3 134.8L28.5 135L28.7 134.8L28.9 134.8L29.1 134.9L29.3 134.8L29.5 134.9L29.7 134.7L29.9 134.9L30.1 134.9L30.3 134.9L30.5 134.9L30.7 134.8L30.9 134.9L31.1 134.8L31.3 134.7L31.5 134.2L31.7 133.2L31.9 130.7L32.1 126.9L32.3 123.1L32.5 121.3L32.7 122.8L32.9 126.4L33.1 130.2L33.3 132.7L33.5 133.8L33.7 134.3L33.9 134.5L34.1 134.4L34.3 134.5L34.5 134.4L34.7 134.4L34.9 134.4L35.1 134.5L35.3 134.4L35.5 134.4L35.7 134.4L35.9 134.5L36.1 134.4L36.3 134.4L36.5 134.5L36.7 134.5L36.9 134.5L37.1 134.5L37.3 134.4L37.5 134.4L37.7 134.4L37.9 134.5L38.1 134.5L38.3 134.3L38.5 134.3L38.7 134.3L38.9 134.3L39.1 134.4L39.3 134.4L39.5 134.3L39.7 134.3L39.9 134.4L40.1 134.3L40.3 134.4L40.5 134.5L40.7 134.4L40.9 134.4L41.1 134.4L41.3 134.4L41.5 134.2L41.7 134.4L41.9 134.4L42.1 134.4L42.3 134.4L42.5 134.3L42.7 134.3L42.9 134.2L43.1 134.4L43.3 134.2L43.5 134.2L43.7 134.2L43.9 134.2L44.1 134.3L44.3 134.2L44.5 134.2L44.7 134.2L44.9 134.2L45.1 134.3L45.3 134.2L45.5 134.4L45.7 134.3L45.9 134.2L46.1 134.2L46.3 134.2L46.5 134.2L46.7 134.2L46.9 134.3L47.1 134.4L47.3 134.2L47.5 134.2L47.7 134.1L47.9 134.1L48.1 134.2L48.3 134.2L48.5 134.3L48.7 134.1L48.9 134.1L49.1 134.3L49.3 134.2L49.5 134.1L49.7 133.9L49.9 133L50.1 131.1L50.3 127.4L50.5 121.7L50.7 115.8L50.9 112.7L51.1 114.1L51.3 118.8L51.5 124.2L51.7 128L51.9 130L52.1 130.8L52.3 131L52.5 131.3L52.7 131.3L52.9 131.3L53.1 131.3L53.3 131.3L53.5 131.3L53.7 131.2L53.9 131.3L54.1 131.2L54.3 131.1L54.5 131.1L54.7 131.2L54.9 131.2L55.1 131.3L55.3 131.4L55.5 131.3L55.7 131.4L55.9 131.4L56.1 131.4L56.3 131.3L56.5 131.2L56.7 131.2L56.9 131.2L57.1 131.3L57.3 131.4L57.5 131.4L57.7 131.4L57.9 131.3L58.1 131.4L58.3 131.4L58.5 131.3L58.7 131.4L58.9 131.5L59.1 131.4L59.3 131.4L59.5 131.4L59.7 131.3L59.9 131.5L60.1 131.4L60.3 131.5L60.5 131.5L60.7 131.4L60.9 131.4L61.1 131.5L61.3 131.5L61.5 131.4L61.7 131.3L61.9 131.4L62.1 131.5L62.3 131.5L62.5 131.4L62.7 131.5L62.9 131.6L63.1 131.5L63.3 131.4L63.5 131.5L63.7 131.4L63.9 131.4L64.1 131.6L64.3 131.5L64.5 131.5L64.7 131.6L64.9 131.5L65.1 131.6L65.3 131.6L65.5 131.5L65.7 131.5L65.9 131.5L66.1 131.5L66.3 131.6L66.5 131.5L66.7 131.5L66.9 131.5L67.1 131.7L67.3 131.5L67.5 131.6L67.7 131.6L67.9 131.7L68.1 131.6L68.3 131.7L68.5 131.6L68.7 131.6L68.9 131.6L69.1 131.5L69.3 131.6L69.5 131.5L69.7 131.5L69.9 131.7L70.1 131.6L70.3 131.6L70.5 131.7L70.7 131.7L70.9 131.6L71.1 131.7L71.3 131.7L71.5 131.7L71.7 131.6L71.9 131.7L72.1 131.6L72.3 131.6L72.5 131.8L72.7 131.7L72.9 131.7L73.1 131.8L73.3 131.8L73.5 131.7L73.7 131.8L73.9 131.7L74.1 131.7L74.3 131.8L74.5 131.7L74.7 131.8L74.9 131.7L75.1 131.9L75.3 131.8L75.5 131.9L75.7 131.9L75.9 131.7L76.1 131.8L76.3 131.9L76.5 131.9L76.7 131.7L76.9 131.7L77.1 131.8L77.3 131.7L77.5 131.8L77.7 131.7L77.9 131.9L78.1 131.9L78.3 131.9L78.5 131.8L78.7 131.9L78.9 131.9L79.1 131.8L79.3 132L79.5 132L79.7 131.8L79.9 132L80.1 131.9L80.3 131.9L80.5 132L80.7 132L80.9 131.8L81.1 131.9L81.3 131.9L81.5 131.9L81.7 131.8L81.9 131.9L82.1 132L82.3 131.8L82.5 131.9L82.7 131.9L82.9 131.8L83.1 131.9L83.3 132L83.5 132L83.7 131.9L83.9 132.1L84.1 132L84.3 132.1L84.5 131.9L84.7 131.9L84.9 131.9L85.1 132.1L85.3 131.9L85.5 131.9L85.7 132L85.9 132.1L86.1 132.1L86.3 132L86.5 131.9L86.7 132.1L86.9 132.1L87.1 132.1L87.3 132L87.5 132L87.7 132.1L87.9 132L88.1 132L88.3 132.2L88.5 132.1L88.7 132.2L88.9 132L89.1 132.2L89.3 132L89.5 132.2L89.7 132.1L89.9 132.1L90.1 132.1L90.3 132.2L90.5 132.1L90.7 132L90.9 132.1L91.1 132.1L91.3 132.1L91.5 132.1L91.7 132.1L91.9 132.1L92.1 132.1L92.3 132.1L92.5 132.2L92.7 132.1L92.9 132.2L93.1 132.1L93.3 132.2L93.5 132.1L93.7 132.1L93.9 132.1L94.1 132.3L94.3 132.2L94.5 132.2L94.7 132.2L94.9 132.3L95.1 132.1L95.3 132.3L95.5 132.2L95.7 132.3L95.9 132.3L96.1 132.2L96.3 132.3L96.5 132.3L96.7 132.4L96.9 132.2L97.1 132.4L97.3 132.3L97.5 132.3L97.7 132.3L97.9 132.3L98.1 132.2L98.3 132.2L98.5 132.2L98.7 132.4L98.9 132.3L99.1 132.3L99.3 132.2L99.5 132.4L99.7 132.4L99.9 132.4L100.1 132.3L100.3 132.3L100.5 132.3L100.7 132.4L100.9 132.3L101.1 132.4L101.3 132.3L101.5 132.5L101.7 132.5L101.8 132.4L102 132.3L102.2 132.5L102.4 132.4L102.6 132.4L102.8 132.3L103 132.4L103.2 132.4L103.4 132.4L103.6 132.4L103.8 132.5L104 132.3L104.2 132.4L104.4 132.4L104.6 132.4L104.8 132.4L105 132.4L105.2 132.4L105.4 132.4L105.6 132.5L105.8 132.5L106 132.6L106.2 132.5L106.4 132.6L106.6 132.6L106.8 132.5L107 132.5L107.2 132.6L107.4 132.5L107.6 132.6L107.8 132.6L108 132.4L108.2 132.6L108.4 132.7L108.6 132.6L108.8 132.6L109 132.7L109.2 132.5L109.4 132.6L109.6 132.6L109.8 132.7L110 132.7L110.2 132.7L110.4 132.6L110.6 132.7L110.8 132.6L111 132.6L111.2 132.5L111.4 132.5L111.6 132.5L111.8 132.6L112 132.5L112.2 132.7L112.4 132.6L112.6 132.6L112.8 132.6L113 132.6L113.2 132.6L113.4 132.5L113.6 132.7L113.8 132.6L114 132.6L114.2 132.6L114.4 132.6L114.6 132.5L114.8 132.6L115 132.5L115.2 132.5L115.4 132.5L115.6 132.6L115.8 132.5L116 132.6L116.2 132.7L116.4 132.6L116.6 132.5L116.8 132.6L117 132.6L117.2 132.6L117.4 132.6L117.6 132.6L117.8 132.5L118 132.5L118.2 132.5L118.4 132.6L118.6 132.5L118.8 132.6L119 132.5L119.2 132.5L119.4 132.5L119.6 132.6L119.8 132.6L120 132.6L120.2 132.5L120.4 132.6L120.6 132.6L120.8 132.6L121 132.5L121.2 132.7L121.4 132.5L121.6 132.7L121.8 132.7L122 132.4L122.2 132.5L122.4 132.6L122.6 132.7L122.8 132.5L123 132.5L123.2 132.5L123.4 132.7L123.6 132.5L123.8 132.6L124 132.5L124.2 132.6L124.4 132.7L124.6 132.5L124.8 132.6L125 132.5L125.2 132.6L125.4 132.6L125.6 132.5L125.8 132.6L126 132.5L126.2 132.4L126.4 132.4L126.6 132.5L126.8 132.5L127 132.5L127.2 132.5L127.4 132.5L127.6 132.5L127.8 132.6L128 132.4L128.2 132.6L128.4 132.6L128.6 132.4L128.8 132.6L129 132.6L129.2 132.6L129.4 132.5L129.6 132.5L129.8 132.5L130 132.6L130.2 132.6L130.4 132.5L130.6 132.5L130.8 132.5L131 132.4L131.2 132.4L131.4 132.6L131.6 132.5L131.8 132.6L132 132.5L132.2 132.5L132.4 132.5L132.6 132.4L132.8 132.5L133 132.6L133.2 132.6L133.4 132.6L133.6 132.5L133.8 132.6L134 132.6L134.2 132.5L134.4 132.6L134.6 132.4L134.8 132.6L135 132.5L135.2 132.6L135.4 132.5L135.6 132.5L135.8 132.4L136 132.6L136.2 132.4L136.4 132.5L136.6 132.5L136.8 132.5L137 132.6L137.2 132.6L137.4 132.4L137.6 132.5L137.8 132.5L138 132.5L138.2 132.5L138.4 132.4L138.6 132.4L138.8 132.4L139 132.6L139.2 132.5L139.4 132.4L139.6 132.6L139.8 132.6L140 132.5L140.2 132.4L140.4 132.4L140.6 132.4L140.8 132.5L141 132.4L141.2 132.4L141.4 132.4L141.6 132.5L141.8 132.6L142 132.5L142.2 132.5L142.4 132.5L142.6 132.5L142.8 132.5L143 132.4L143.2 132.4L143.4 132.4L143.6 132.6L143.8 132.4L144 132.5L144.2 132.5L144.4 132.6L144.6 132.4L144.8 132.4L145 132.4L145.2 132.5L145.4 132.5L145.6 132.6L145.8 132.6L146 132.6L146.2 132.4L146.4 132.4L146.6 132.5L146.8 132.6L147 132.5L147.2 132.5L147.4 132.3L147.6 132.4L147.8 132.6L148 132.5L148.2 132.6L148.4 132.6L148.6 132.4L148.8 132.4L149 132.4L149.2 132.5L149.4 132.5L149.6 132.6L149.8 132.5L150 132.5L150.2 132.5L150.4 132.4L150.6 132.5L150.8 132.3L151 132.5L151.2 132.4L151.4 132.6L151.6 132.5L151.8 132.4L152 132.4L152.2 132.4L152.4 132.5L152.6 132.5L152.8 132.4L153 132.3L153.2 132.5L153.4 132.5L153.6 132.4L153.8 132.4L154 132.5L154.2 132.3L154.4 132.4L154.6 132.4L154.8 132.6L155 132.5L155.2 132.5L155.4 132.4L155.6 132.4L155.8 132.4L156 132.5L156.2 132.5L156.4 132.4L156.6 132.3L156.8 132.4L157 132.5L157.2 132.4L157.4 132.4L157.6 132.5L157.8 132.5L158 132.4L158.2 132.3L158.4 132.4L158.6 132.4L158.8 132.5L159 132.4L159.2 132.5L159.4 132.5L159.6 132.4L159.8 132.4L160 132.5L160.2 132.4L160.4 132.5L160.6 132.4L160.8 132.4L161 132.5L161.2 132.4L161.4 132.5L161.6 132.4L161.8 132.3L162 132.4L162.2 132.4L162.4 132.5L162.6 132.5L162.8 132.3L163 132.4L163.2 132.3L163.4 132.5L163.6 132.3L163.8 132.3L164 132.3L164.2 132.4L164.4 132.5L164.6 132.5L164.8 132.5L165 132.5L165.2 132.5L165.4 132.4L165.6 132.3L165.8 132.5L166 132.5L166.2 132.3L166.4 132.4L166.6 132.4L166.8 132.4L167 132.3L167.2 132L167.4 131.6L167.6 131.3L167.8 131L168 130.8L168.2 130.3L168.4 130.1L168.6 129.6L168.8 129.3L169 129.1L169.2 129.1L169.4 129L169.6 128.9L169.8 129.1L170 129.1L170.2 129.2L170.4 129.1L170.6 129.1L170.8 129.3L171 129.1L171.2 129.2L171.4 129.3L171.6 129.3L171.8 129.1L172 129.2L172.2 129.2L172.4 129.4L172.6 129.3L172.8 129.4L173 129.5L173.2 129.3L173.4 129.3L173.6 129.5L173.8 129.5L174 129.4L174.2 129.5L174.4 129.4L174.6 129.4L174.8 129.4L175 129.6L175.2 129.6L175.4 129.6L175.6 129.7L175.8 129.5L176 129.6L176.2 129.6L176.4 129.8L176.6 129.8L176.8 129.7L177 129.6L177.2 129.7L177.4 129.7L177.6 129.9L177.8 129.7L178 129.9L178.2 129.9L178.4 129.9L178.6 129.9L178.8 129.9L179 129.8L179.2 129.9L179.4 129.9L179.6 130L179.8 129.9L180 129.9L180.2 130.1L180.4 129.9L180.6 129.9L180.8 129.9L181 130.1L181.2 130L181.4 130.2L181.6 130.2L181.8 130.3L182 130.1L182.2 130.1L182.4 130.1L182.6 130.2L182.8 130.3L183 130.2L183.2 130.2L183.4 130.3L183.6 130.3L183.8 130.4L184 130.4L184.2 130.4L184.4 130.4L184.6 130.3L184.8 130.5" fill="none" stroke="#3030a8" stroke-width="1.35" stroke-linejoin="round"/>
<rect x="228.60" y="4.30" width="166.20" height="140.00" fill="none" stroke="#222" stroke-width="1.1"/>
<line x1="228.40" y1="144.30" x2="228.40" y2="145.90" stroke="#1a1a1a" stroke-width="0.9"/>
<line x1="269.77" y1="144.30" x2="269.77" y2="145.90" stroke="#1a1a1a" stroke-width="0.9"/>
<line x1="311.15" y1="144.30" x2="311.15" y2="145.90" stroke="#1a1a1a" stroke-width="0.9"/>
<line x1="352.52" y1="144.30" x2="352.52" y2="145.90" stroke="#1a1a1a" stroke-width="0.9"/>
<line x1="393.90" y1="144.30" x2="393.90" y2="145.90" stroke="#1a1a1a" stroke-width="0.9"/>
<line x1="249.09" y1="144.30" x2="249.09" y2="145.58" stroke="#1a1a1a" stroke-width="0.8"/>
<line x1="290.46" y1="144.30" x2="290.46" y2="145.58" stroke="#1a1a1a" stroke-width="0.8"/>
<line x1="331.84" y1="144.30" x2="331.84" y2="145.58" stroke="#1a1a1a" stroke-width="0.8"/>
<line x1="373.21" y1="144.30" x2="373.21" y2="145.58" stroke="#1a1a1a" stroke-width="0.8"/>
<line x1="270.50" y1="5.00" x2="270.50" y2="144.00" stroke="#333" stroke-width="1.0" stroke-dasharray="1 1"/>
<line x1="300.50" y1="5.00" x2="300.50" y2="90.00" stroke="#333" stroke-width="1.0" stroke-dasharray="1 1"/>
<path d="M228.6 21.6L229.1 21.6L229.6 21.7L230.1 21.6L230.6 21.6L231.1 21.6L231.6 21.5L232.1 21.6L232.6 21.6L233.1 21.6L233.6 21.5L234.1 21.5L234.6 21.5L235.1 21.6L235.6 21.6L236.1 21.5L236.6 21.7L237.1 21.6L237.6 21.6L238.1 21.6L238.6 21.5L239.1 21.4L239.6 21.6L240.1 21.5L240.6 21.5L241.1 21.5L241.6 21.4L242.1 21.5L242.6 21.5L243.1 21.6L243.6 21.5L244.1 21.5L244.6 21.5L245.1 21.5L245.6 21.5L246.1 21.5L246.6 21.6L247.1 21.6L247.6 21.6L248.1 21.5L248.6 21.5L249.1 21.4L249.6 21.5L250.1 21.4L250.6 21.5L251.1 21.5L251.6 21.6L252.1 21.5L252.6 21.6L253.1 21.5L253.6 21.4L254.1 21.4L254.6 21.6L255.1 21.5L255.6 21.6L256.1 21.4L256.6 21.4L257.1 21.5L257.6 21.5L258.1 21.4L258.6 21.4L259.1 21.4L259.6 21.5L260.1 21.5L260.6 21.4L261.1 21.4L261.6 21.3L262.1 21.3L262.6 21.4L263.1 21.3L263.6 21.3L264.1 21.2L264.6 21.1L265.1 21.1L265.6 20.8L266.1 20.7L266.6 20.5L267.1 20.3L267.6 20.1L268.1 19.9L268.6 19.9L269.1 19.7L269.6 19.5L270.1 19.6L270.7 19.4L271.2 19.5L271.7 19.7L272.2 19.8L272.7 19.9L273.2 20.2L273.7 20.3L274.2 20.5L274.7 20.7L275.2 20.8L275.7 20.9L276.2 21L276.7 21.1L277.2 21.2L277.7 21.2L278.2 21.3L278.7 21.3L279.2 21.3L279.7 21.4L280.2 21.3L280.7 21.3L281.2 21.4L281.7 21.3L282.2 21.3L282.7 21.4L283.2 21.4L283.7 21.3L284.2 21.3L284.7 21.4L285.2 21.4L285.7 21.2L286.2 21.4L286.7 21.4L287.2 21.3L287.7 21.3L288.2 21.2L288.7 21.1L289.2 21.3L289.7 21.1L290.2 21.1L290.7 21L291.2 21L291.7 20.8L292.2 20.5L292.7 20.2L293.2 20L293.7 19.5L294.2 19L294.7 18.5L295.2 17.9L295.7 17.1L296.2 16.2L296.7 15.5L297.2 14.4L297.7 13.5L298.2 12.7L298.7 11.9L299.2 11.1L299.7 10.6L300.2 10.3L300.7 10.1L301.2 10L301.7 10.3L302.2 10.8L302.7 11.4L303.2 12L303.7 12.8L304.2 13.6L304.7 14.4L305.2 15.3L305.7 16.2L306.2 17.1L306.7 17.8L307.2 18.5L307.7 18.8L308.2 19.4L308.7 19.8L309.2 20.1L309.7 20.3L310.2 20.6L310.7 20.5L311.2 20.7L311.7 20.8L312.2 20.9L312.7 20.9L313.2 20.9L313.7 20.9L314.2 21L314.7 20.9L315.2 20.9L315.7 21L316.2 21L316.7 20.9L317.2 20.9L317.7 21L318.2 20.9L318.7 20.9L319.2 20.9L319.7 20.9L320.2 20.9L320.7 20.8L321.2 20.9L321.7 21L322.2 20.9L322.7 20.9L323.2 20.8L323.7 20.9L324.2 20.9L324.7 20.8L325.2 20.9L325.7 20.8L326.2 20.9L326.7 20.8L327.2 20.9L327.7 20.8L328.2 20.8L328.7 20.9L329.2 20.8L329.7 20.9L330.2 20.9L330.7 20.8L331.2 20.7L331.7 20.8L332.2 20.9L332.7 20.8L333.2 20.8L333.7 20.9L334.2 20.9L334.7 20.8L335.2 20.9L335.7 20.8L336.2 20.8L336.7 20.8L337.2 20.8L337.7 20.9L338.2 20.9L338.7 20.9L339.2 20.8L339.7 20.8L340.2 20.8L340.7 20.7L341.2 20.8L341.7 20.9L342.2 20.9L342.7 20.8L343.2 20.9L343.7 20.7L344.2 20.7L344.7 20.8L345.2 20.7L345.7 20.7L346.2 20.8L346.7 20.8L347.2 20.8L347.7 20.7L348.2 20.8L348.7 20.9L349.2 20.8L349.7 20.7L350.2 20.7L350.7 20.8L351.2 20.7L351.7 20.8L352.2 20.8L352.7 20.7L353.2 20.8L353.8 20.7L354.3 20.7L354.8 20.7L355.3 20.6L355.8 20.8L356.3 20.7L356.8 20.7L357.3 20.6L357.8 20.8L358.3 20.7L358.8 20.8L359.3 20.8L359.8 20.8L360.3 20.8L360.8 20.8L361.3 20.7L361.8 20.7L362.3 20.7L362.8 20.6L363.3 20.7L363.8 20.8L364.3 20.6L364.8 20.7L365.3 20.7L365.8 20.7L366.3 20.7L366.8 20.7L367.3 20.8L367.8 20.7L368.3 20.8L368.8 20.8L369.3 20.6L369.8 20.8L370.3 20.7L370.8 20.6L371.3 20.7L371.8 20.7L372.3 20.8L372.8 20.7L373.3 20.7L373.8 20.8L374.3 20.7L374.8 20.8L375.3 20.7L375.8 20.7L376.3 20.6L376.8 20.7L377.3 20.7L377.8 20.7L378.3 20.7L378.8 20.6L379.3 20.7L379.8 20.8L380.3 20.7L380.8 20.7L381.3 20.7L381.8 20.6L382.3 20.7L382.8 20.7L383.3 20.6L383.8 20.6L384.3 20.6L384.8 20.6L385.3 20.7L385.8 20.6L386.3 20.5L386.8 20.7L387.3 20.5L387.8 20.7L388.3 20.6L388.8 20.6L389.3 20.7L389.8 20.5L390.3 20.5L390.8 20.6L391.3 20.7L391.8 20.7L392.3 20.6L392.8 20.7L393.3 20.6L393.8 20.7L394.3 20.5L394.8 20.5" fill="none" stroke="#8c28dc" stroke-width="1.35" stroke-linejoin="round"/>
<path d="M228.6 44L229.1 44L229.6 44L230.1 43.9L230.6 43.9L231.1 44L231.6 43.9L232.1 44L232.6 44L233.1 44L233.6 44L234.1 44L234.6 43.9L235.1 43.9L235.6 43.9L236.1 44L236.6 43.8L237.1 44L237.6 43.8L238.1 44L238.6 43.9L239.1 43.9L239.6 44L240.1 43.8L240.6 43.8L241.1 44L241.6 43.9L242.1 43.8L242.6 44L243.1 44L243.6 43.8L244.1 43.9L244.6 43.8L245.1 43.8L245.6 43.9L246.1 43.8L246.6 43.9L247.1 43.8L247.6 43.8L248.1 43.9L248.6 43.8L249.1 43.8L249.6 43.8L250.1 43.8L250.6 43.8L251.1 43.7L251.6 43.9L252.1 43.9L252.6 43.9L253.1 43.8L253.6 43.8L254.1 43.8L254.6 43.8L255.1 43.8L255.6 43.7L256.1 43.7L256.6 43.7L257.1 43.8L257.6 43.8L258.1 43.8L258.6 43.7L259.1 43.8L259.6 43.7L260.1 43.7L260.6 43.7L261.1 43.7L261.6 43.7L262.1 43.7L262.6 43.6L263.1 43.6L263.6 43.5L264.1 43.5L264.6 43.3L265.1 43.3L265.6 43.1L266.1 43.1L266.6 42.8L267.1 42.7L267.6 42.4L268.1 42.3L268.6 42.1L269.1 42.1L269.6 41.9L270.1 41.9L270.7 41.8L271.2 42L271.7 42L272.2 42.1L272.7 42.3L273.2 42.5L273.7 42.5L274.2 42.7L274.7 43L275.2 43.1L275.7 43.2L276.2 43.2L276.7 43.3L277.2 43.5L277.7 43.6L278.2 43.6L278.7 43.5L279.2 43.5L279.7 43.5L280.2 43.6L280.7 43.6L281.2 43.6L281.7 43.5L282.2 43.6L282.7 43.5L283.2 43.6L283.7 43.5L284.2 43.6L284.7 43.6L285.2 43.5L285.7 43.5L286.2 43.6L286.7 43.5L287.2 43.6L287.7 43.5L288.2 43.5L288.7 43.5L289.2 43.3L289.7 43.3L290.2 43.2L290.7 43.2L291.2 43L291.7 42.7L292.2 42.6L292.7 42.2L293.2 41.7L293.7 41.2L294.2 40.6L294.7 39.8L295.2 38.9L295.7 38L296.2 37L296.7 35.8L297.2 34.6L297.7 33.6L298.2 32.6L298.7 31.7L299.2 30.9L299.7 30.3L300.2 30L300.7 30.1L301.2 30.2L301.7 30.6L302.2 31.4L302.7 32.3L303.2 33.2L303.7 34.3L304.2 35.4L304.7 36.5L305.2 37.6L305.7 38.5L306.2 39.3L306.7 40.1L307.2 40.8L307.7 41.5L308.2 41.8L308.7 42.2L309.2 42.5L309.7 42.6L310.2 42.8L310.7 42.9L311.2 42.9L311.7 42.9L312.2 43L312.7 43L313.2 43.1L313.7 43L314.2 43L314.7 43L315.2 43.1L315.7 43.1L316.2 43.1L316.7 43.2L317.2 43.1L317.7 43L318.2 43.1L318.7 43.1L319.2 43L319.7 43.1L320.2 43L320.7 43L321.2 43L321.7 43.2L322.2 43L322.7 43L323.2 43L323.7 43L324.2 43L324.7 43L325.2 43.1L325.7 43.1L326.2 43.1L326.7 43L327.2 43L327.7 43.1L328.2 43.1L328.7 43L329.2 43L329.7 43.1L330.2 43.1L330.7 43L331.2 43L331.7 43.1L332.2 43L332.7 43.1L333.2 43.1L333.7 43.1L334.2 43L334.7 43.1L335.2 43L335.7 43.1L336.2 43L336.7 43L337.2 43L337.7 43L338.2 42.9L338.7 42.9L339.2 43L339.7 42.9L340.2 42.9L340.7 43.1L341.2 43L341.7 43.1L342.2 43L342.7 43L343.2 43.1L343.7 43.1L344.2 42.9L344.7 42.9L345.2 43L345.7 43L346.2 43L346.7 43L347.2 43L347.7 43L348.2 42.9L348.7 42.9L349.2 42.9L349.7 42.9L350.2 42.9L350.7 43L351.2 42.9L351.7 42.9L352.2 42.9L352.7 43L353.2 43L353.8 42.9L354.3 43L354.8 43L355.3 43L355.8 42.9L356.3 43L356.8 42.9L357.3 42.9L357.8 43L358.3 43L358.8 42.9L359.3 43L359.8 42.8L360.3 42.9L360.8 42.8L361.3 42.9L361.8 42.9L362.3 43L362.8 42.9L363.3 42.9L363.8 42.8L364.3 42.9L364.8 43L365.3 42.9L365.8 42.8L366.3 42.9L366.8 42.9L367.3 42.9L367.8 42.9L368.3 42.9L368.8 43L369.3 42.9L369.8 42.9L370.3 42.9L370.8 42.9L371.3 42.9L371.8 42.9L372.3 42.9L372.8 42.9L373.3 42.8L373.8 43L374.3 42.9L374.8 42.9L375.3 42.9L375.8 43L376.3 42.9L376.8 42.9L377.3 42.8L377.8 42.9L378.3 42.9L378.8 42.9L379.3 42.8L379.8 42.8L380.3 42.8L380.8 42.8L381.3 42.8L381.8 42.7L382.3 42.8L382.8 42.8L383.3 42.9L383.8 42.9L384.3 42.9L384.8 42.9L385.3 42.9L385.8 42.9L386.3 42.7L386.8 42.8L387.3 42.9L387.8 42.8L388.3 42.8L388.8 42.9L389.3 42.8L389.8 42.8L390.3 42.8L390.8 42.8L391.3 42.7L391.8 42.8L392.3 42.9L392.8 42.9L393.3 42.9L393.8 42.9L394.3 42.8L394.8 42.8" fill="none" stroke="#f23c96" stroke-width="1.35" stroke-linejoin="round"/>
<path d="M228.6 66L229.1 66L229.6 66L230.1 66.1L230.6 65.9L231.1 65.9L231.6 65.9L232.1 65.9L232.6 66L233.1 65.9L233.6 65.9L234.1 65.9L234.6 65.9L235.1 65.9L235.6 66L236.1 65.9L236.6 65.8L237.1 65.9L237.6 65.8L238.1 66L238.6 65.9L239.1 65.9L239.6 65.9L240.1 65.9L240.6 65.9L241.1 65.9L241.6 65.8L242.1 65.9L242.6 65.8L243.1 65.9L243.6 65.8L244.1 65.8L244.6 65.8L245.1 65.8L245.6 65.8L246.1 65.7L246.6 65.9L247.1 65.8L247.6 65.9L248.1 65.8L248.6 65.8L249.1 65.8L249.6 65.7L250.1 65.8L250.6 65.7L251.1 65.7L251.6 65.7L252.1 65.7L252.6 65.7L253.1 65.7L253.6 65.7L254.1 65.7L254.6 65.6L255.1 65.7L255.6 65.6L256.1 65.6L256.6 65.6L257.1 65.6L257.6 65.6L258.1 65.7L258.6 65.7L259.1 65.6L259.6 65.7L260.1 65.7L260.6 65.5L261.1 65.5L261.6 65.6L262.1 65.6L262.6 65.6L263.1 65.4L263.6 65.4L264.1 65.4L264.6 65.3L265.1 65.2L265.6 64.9L266.1 64.9L266.6 64.6L267.1 64.5L267.6 64.2L268.1 64.1L268.6 63.9L269.1 63.7L269.6 63.5L270.1 63.5L270.7 63.5L271.2 63.6L271.7 63.6L272.2 63.8L272.7 63.9L273.2 64.1L273.7 64.3L274.2 64.6L274.7 64.6L275.2 64.8L275.7 64.9L276.2 65.2L276.7 65.2L277.2 65.3L277.7 65.2L278.2 65.3L278.7 65.3L279.2 65.3L279.7 65.3L280.2 65.5L280.7 65.3L281.2 65.3L281.7 65.3L282.2 65.4L282.7 65.3L283.2 65.4L283.7 65.3L284.2 65.4L284.7 65.2L285.2 65.3L285.7 65.3L286.2 65.4L286.7 65.3L287.2 65.3L287.7 65.3L288.2 65.2L288.7 65.2L289.2 65.2L289.7 65.3L290.2 65.1L290.7 64.9L291.2 64.9L291.7 64.7L292.2 64.3L292.7 64L293.2 63.4L293.7 62.8L294.2 62.1L294.7 61.1L295.2 60.1L295.7 58.9L296.2 57.7L296.7 56.3L297.2 55.1L297.7 53.7L298.2 52.4L298.7 51.4L299.2 50.5L299.7 49.9L300.2 49.6L300.7 49.6L301.2 50L301.7 50.6L302.2 51.5L302.7 52.7L303.2 53.8L303.7 55.3L304.2 56.6L304.7 57.9L305.2 59.2L305.7 60.3L306.2 61.4L306.7 62.3L307.2 63L307.7 63.7L308.2 64.2L308.7 64.4L309.2 64.8L309.7 64.9L310.2 65.2L310.7 65.2L311.2 65.4L311.7 65.4L312.2 65.4L312.7 65.4L313.2 65.4L313.7 65.6L314.2 65.4L314.7 65.5L315.2 65.5L315.7 65.5L316.2 65.5L316.7 65.4L317.2 65.5L317.7 65.5L318.2 65.6L318.7 65.5L319.2 65.6L319.7 65.5L320.2 65.5L320.7 65.5L321.2 65.5L321.7 65.5L322.2 65.4L322.7 65.4L323.2 65.5L323.7 65.5L324.2 65.5L324.7 65.4L325.2 65.5L325.7 65.4L326.2 65.4L326.7 65.4L327.2 65.4L327.7 65.5L328.2 65.4L328.7 65.5L329.2 65.5L329.7 65.5L330.2 65.5L330.7 65.4L331.2 65.5L331.7 65.5L332.2 65.5L332.7 65.4L333.2 65.5L333.7 65.3L334.2 65.4L334.7 65.5L335.2 65.4L335.7 65.4L336.2 65.5L336.7 65.4L337.2 65.3L337.7 65.3L338.2 65.4L338.7 65.4L339.2 65.5L339.7 65.3L340.2 65.5L340.7 65.5L341.2 65.4L341.7 65.5L342.2 65.4L342.7 65.4L343.2 65.3L343.7 65.4L344.2 65.5L344.7 65.4L345.2 65.3L345.7 65.4L346.2 65.4L346.7 65.3L347.2 65.4L347.7 65.3L348.2 65.4L348.7 65.3L349.2 65.3L349.7 65.4L350.2 65.3L350.7 65.4L351.2 65.4L351.7 65.4L352.2 65.4L352.7 65.3L353.2 65.4L353.8 65.4L354.3 65.3L354.8 65.4L355.3 65.2L355.8 65.4L356.3 65.3L356.8 65.4L357.3 65.3L357.8 65.2L358.3 65.3L358.8 65.4L359.3 65.3L359.8 65.3L360.3 65.3L360.8 65.3L361.3 65.3L361.8 65.2L362.3 65.3L362.8 65.4L363.3 65.3L363.8 65.3L364.3 65.2L364.8 65.3L365.3 65.3L365.8 65.4L366.3 65.4L366.8 65.2L367.3 65.4L367.8 65.4L368.3 65.4L368.8 65.4L369.3 65.3L369.8 65.3L370.3 65.3L370.8 65.3L371.3 65.2L371.8 65.2L372.3 65.3L372.8 65.3L373.3 65.2L373.8 65.3L374.3 65.3L374.8 65.3L375.3 65.3L375.8 65.3L376.3 65.2L376.8 65.3L377.3 65.3L377.8 65.3L378.3 65.2L378.8 65.3L379.3 65.2L379.8 65.3L380.3 65.2L380.8 65.3L381.3 65.3L381.8 65.3L382.3 65.2L382.8 65.2L383.3 65.2L383.8 65.2L384.3 65.3L384.8 65.3L385.3 65.3L385.8 65.2L386.3 65.2L386.8 65.2L387.3 65.3L387.8 65.1L388.3 65.2L388.8 65.2L389.3 65.2L389.8 65.2L390.3 65.3L390.8 65.2L391.3 65.3L391.8 65.2L392.3 65.1L392.8 65.3L393.3 65.1L393.8 65.1L394.3 65.1L394.8 65.1" fill="none" stroke="#942890" stroke-width="1.35" stroke-linejoin="round"/>
<path d="M228.6 88.1L229.1 88.2L229.6 88.2L230.1 88.3L230.6 88.2L231.1 88.2L231.6 88.3L232.1 88.3L232.6 88.2L233.1 88.3L233.6 88.2L234.1 88.3L234.6 88.2L235.1 88.2L235.6 88.3L236.1 88.2L236.6 88.2L237.1 88.3L237.6 88.3L238.1 88.2L238.6 88.3L239.1 88.3L239.6 88.2L240.1 88.3L240.6 88.2L241.1 88.3L241.6 88.2L242.1 88.2L242.6 88.4L243.1 88.3L243.6 88.4L244.1 88.3L244.6 88.3L245.1 88.4L245.6 88.4L246.1 88.2L246.6 88.3L247.1 88.4L247.6 88.3L248.1 88.3L248.6 88.4L249.1 88.3L249.6 88.3L250.1 88.3L250.6 88.3L251.1 88.4L251.6 88.4L252.1 88.3L252.6 88.4L253.1 88.3L253.6 88.3L254.1 88.3L254.6 88.4L255.1 88.3L255.6 88.4L256.1 88.3L256.6 88.4L257.1 88.4L257.6 88.4L258.1 88.4L258.6 88.4L259.1 88.4L259.6 88.4L260.1 88.3L260.6 88.4L261.1 88.4L261.6 88.5L262.1 88.5L262.6 88.3L263.1 88.3L263.6 88.4L264.1 88.3L264.6 88.1L265.1 88.2L265.6 88.1L266.1 87.9L266.6 87.7L267.1 87.6L267.6 87.6L268.1 87.3L268.6 87.2L269.1 87L269.6 87L270.1 87L270.7 86.9L271.2 87L271.7 87L272.2 87.2L272.7 87.5L273.2 87.5L273.7 87.6L274.2 87.9L274.7 87.9L275.2 88L275.7 88.1L276.2 88.2L276.7 88.3L277.2 88.4L277.7 88.5L278.2 88.4L278.7 88.5L279.2 88.5L279.7 88.6L280.2 88.5L280.7 88.6L281.2 88.5L281.7 88.6L282.2 88.6L282.7 88.7L283.2 88.6L283.7 88.6L284.2 88.6L284.7 88.6L285.2 88.6L285.7 88.7L286.2 88.6L286.7 88.6L287.2 88.5L287.7 88.7L288.2 88.6L288.7 88.5L289.2 88.6L289.7 88.5L290.2 88.4L290.7 88.3L291.2 88.1L291.7 87.9L292.2 87.7L292.7 87.2L293.2 86.7L293.7 86.1L294.2 85.3L294.7 84.3L295.2 83.2L295.7 81.8L296.2 80.4L296.7 78.8L297.2 77.2L297.7 75.6L298.2 74.2L298.7 73L299.2 71.9L299.7 71.3L300.2 70.8L300.7 70.9L301.2 71.4L301.7 72.1L302.2 73.2L302.7 74.5L303.2 76L303.7 77.4L304.2 79.1L304.7 80.6L305.2 82.1L305.7 83.5L306.2 84.6L306.7 85.4L307.2 86.3L307.7 87L308.2 87.4L308.7 87.7L309.2 88.1L309.7 88.3L310.2 88.5L310.7 88.6L311.2 88.6L311.7 88.7L312.2 88.6L312.7 88.7L313.2 88.6L313.7 88.6L314.2 88.7L314.7 88.7L315.2 88.6L315.7 88.7L316.2 88.7L316.7 88.7L317.2 88.7L317.7 88.6L318.2 88.8L318.7 88.6L319.2 88.7L319.7 88.7L320.2 88.6L320.7 88.8L321.2 88.6L321.7 88.8L322.2 88.7L322.7 88.7L323.2 88.7L323.7 88.6L324.2 88.6L324.7 88.6L325.2 88.7L325.7 88.6L326.2 88.6L326.7 88.7L327.2 88.7L327.7 88.7L328.2 88.7L328.7 88.6L329.2 88.7L329.7 88.6L330.2 88.7L330.7 88.5L331.2 88.6L331.7 88.6L332.2 88.7L332.7 88.6L333.2 88.7L333.7 88.7L334.2 88.6L334.7 88.6L335.2 88.5L335.7 88.7L336.2 88.6L336.7 88.6L337.2 88.6L337.7 88.5L338.2 88.5L338.7 88.6L339.2 88.6L339.7 88.7L340.2 88.5L340.7 88.5L341.2 88.7L341.7 88.6L342.2 88.5L342.7 88.6L343.2 88.6L343.7 88.6L344.2 88.6L344.7 88.6L345.2 88.5L345.7 88.6L346.2 88.6L346.7 88.6L347.2 88.5L347.7 88.5L348.2 88.6L348.7 88.5L349.2 88.6L349.7 88.6L350.2 88.6L350.7 88.5L351.2 88.6L351.7 88.6L352.2 88.5L352.7 88.5L353.2 88.6L353.8 88.5L354.3 88.6L354.8 88.5L355.3 88.6L355.8 88.5L356.3 88.5L356.8 88.5L357.3 88.6L357.8 88.5L358.3 88.6L358.8 88.5L359.3 88.6L359.8 88.5L360.3 88.6L360.8 88.4L361.3 88.5L361.8 88.4L362.3 88.4L362.8 88.5L363.3 88.6L363.8 88.5L364.3 88.5L364.8 88.5L365.3 88.5L365.8 88.5L366.3 88.5L366.8 88.6L367.3 88.5L367.8 88.5L368.3 88.6L368.8 88.6L369.3 88.5L369.8 88.4L370.3 88.4L370.8 88.6L371.3 88.4L371.8 88.4L372.3 88.5L372.8 88.4L373.3 88.5L373.8 88.4L374.3 88.5L374.8 88.5L375.3 88.4L375.8 88.5L376.3 88.5L376.8 88.5L377.3 88.5L377.8 88.4L378.3 88.5L378.8 88.5L379.3 88.4L379.8 88.5L380.3 88.4L380.8 88.5L381.3 88.5L381.8 88.4L382.3 88.5L382.8 88.4L383.3 88.5L383.8 88.5L384.3 88.5L384.8 88.4L385.3 88.5L385.8 88.4L386.3 88.4L386.8 88.4L387.3 88.5L387.8 88.3L388.3 88.4L388.8 88.4L389.3 88.4L389.8 88.3L390.3 88.4L390.8 88.5L391.3 88.4L391.8 88.5L392.3 88.4L392.8 88.4L393.3 88.4L393.8 88.5L394.3 88.5L394.8 88.4" fill="none" stroke="#269a3c" stroke-width="1.35" stroke-linejoin="round"/>
<path d="M228.6 111.7L229.1 111.5L229.6 111.6L230.1 111.5L230.6 111.7L231.1 111.5L231.6 111.7L232.1 111.6L232.6 111.7L233.1 111.7L233.6 111.5L234.1 111.5L234.6 111.6L235.1 111.5L235.6 111.5L236.1 111.5L236.6 111.6L237.1 111.6L237.6 111.6L238.1 111.5L238.6 111.6L239.1 111.5L239.6 111.5L240.1 111.5L240.6 111.5L241.1 111.5L241.6 111.5L242.1 111.5L242.6 111.5L243.1 111.6L243.6 111.6L244.1 111.5L244.6 111.6L245.1 111.6L245.6 111.5L246.1 111.6L246.6 111.4L247.1 111.4L247.6 111.4L248.1 111.6L248.6 111.5L249.1 111.5L249.6 111.5L250.1 111.5L250.6 111.6L251.1 111.4L251.6 111.4L252.1 111.4L252.6 111.5L253.1 111.5L253.6 111.5L254.1 111.5L254.6 111.5L255.1 111.4L255.6 111.6L256.1 111.4L256.6 111.4L257.1 111.4L257.6 111.5L258.1 111.4L258.6 111.5L259.1 111.4L259.6 111.4L260.1 111.4L260.6 111.5L261.1 111.5L261.6 111.4L262.1 111.3L262.6 111.4L263.1 111.3L263.6 111.4L264.1 111.4L264.6 111.3L265.1 111.1L265.6 111L266.1 111.1L266.6 110.9L267.1 110.7L267.6 110.6L268.1 110.5L268.6 110.5L269.1 110.2L269.6 110.1L270.1 110.3L270.7 110.2L271.2 110.2L271.7 110.3L272.2 110.4L272.7 110.5L273.2 110.5L273.7 110.6L274.2 110.7L274.7 110.9L275.2 111.1L275.7 111.1L276.2 111.1L276.7 111.2L277.2 111.3L277.7 111.3L278.2 111.3L278.7 111.4L279.2 111.4L279.7 111.4L280.2 111.4L280.7 111.2L281.2 111.4L281.7 111.3L282.2 111.3L282.7 111.3L283.2 111.3L283.7 111.3L284.2 111.4L284.7 111.3L285.2 111.4L285.7 111.3L286.2 111.2L286.7 111.2L287.2 111.2L287.7 111.2L288.2 111L288.7 110.7L289.2 110.5L289.7 110.3L290.2 109.9L290.7 109.1L291.2 108.5L291.7 107.4L292.2 106.2L292.7 104.8L293.2 103L293.7 101.1L294.2 99.1L294.7 97.1L295.2 95L295.7 93L296.2 91.4L296.7 89.9L297.2 89L297.7 88.4L298.2 88.6L298.7 89L299.2 90.1L299.7 91.6L300.2 93.3L300.7 95.2L301.2 97.3L301.7 99.4L302.2 101.4L302.7 103.2L303.2 104.9L303.7 106.3L304.2 107.4L304.7 108.4L305.2 109.2L305.7 109.7L306.2 110.2L306.7 110.5L307.2 110.7L307.7 110.9L308.2 111.1L308.7 111.1L309.2 111L309.7 111L310.2 111L310.7 111.1L311.2 111.2L311.7 111L312.2 111.2L312.7 111.1L313.2 111.2L313.7 111L314.2 111.1L314.7 111L315.2 111.1L315.7 111.1L316.2 111.1L316.7 111.1L317.2 111.2L317.7 111L318.2 111L318.7 111.1L319.2 111L319.7 111.1L320.2 111.1L320.7 111.1L321.2 111L321.7 111.1L322.2 111.1L322.7 111.1L323.2 111.1L323.7 111.1L324.2 111.1L324.7 111L325.2 111L325.7 111.1L326.2 111.1L326.7 111L327.2 111.1L327.7 110.9L328.2 111L328.7 111.1L329.2 111L329.7 111.1L330.2 111.1L330.7 111.1L331.2 111L331.7 110.9L332.2 111L332.7 111L333.2 111.1L333.7 111L334.2 111.1L334.7 111L335.2 111L335.7 111.1L336.2 110.9L336.7 111.1L337.2 111L337.7 111L338.2 111.1L338.7 111L339.2 111L339.7 110.9L340.2 110.9L340.7 111L341.2 111L341.7 111L342.2 111L342.7 111L343.2 111L343.7 111.1L344.2 111L344.7 110.9L345.2 111.1L345.7 111.1L346.2 110.9L346.7 111.1L347.2 111L347.7 110.9L348.2 111L348.7 111.1L349.2 110.9L349.7 111L350.2 110.9L350.7 110.9L351.2 111L351.7 111.1L352.2 111L352.7 111L353.2 110.9L353.8 110.9L354.3 111L354.8 111L355.3 111L355.8 110.9L356.3 111L356.8 110.9L357.3 111L357.8 111L358.3 111L358.8 110.9L359.3 110.9L359.8 111L360.3 110.9L360.8 111L361.3 110.8L361.8 110.8L362.3 110.9L362.8 111L363.3 110.9L363.8 110.9L364.3 110.8L364.8 110.9L365.3 110.9L365.8 110.9L366.3 110.9L366.8 110.9L367.3 110.9L367.8 110.8L368.3 110.8L368.8 111L369.3 111L369.8 110.8L370.3 110.9L370.8 110.9L371.3 111L371.8 110.9L372.3 110.9L372.8 110.9L373.3 110.9L373.8 110.9L374.3 110.9L374.8 110.9L375.3 110.8L375.8 110.9L376.3 110.8L376.8 110.8L377.3 110.8L377.8 110.9L378.3 110.9L378.8 110.9L379.3 110.8L379.8 110.8L380.3 110.9L380.8 110.9L381.3 110.8L381.8 110.7L382.3 110.9L382.8 110.9L383.3 110.9L383.8 110.9L384.3 110.8L384.8 110.7L385.3 110.9L385.8 110.8L386.3 110.8L386.8 110.9L387.3 110.7L387.8 110.8L388.3 110.8L388.8 110.9L389.3 110.8L389.8 110.8L390.3 110.8L390.8 110.9L391.3 110.7L391.8 110.7L392.3 110.8L392.8 110.9L393.3 110.9L393.8 110.9L394.3 110.7L394.8 110.8" fill="none" stroke="#f89830" stroke-width="1.35" stroke-linejoin="round"/>
<path d="M228.6 134.9L229.1 134.9L229.6 134.9L230.1 134.9L230.6 134.9L231.1 134.9L231.6 134.8L232.1 134.9L232.6 134.8L233.1 134.8L233.6 134.8L234.1 134.8L234.6 134.9L235.1 134.8L235.6 134.9L236.1 135L236.6 134.8L237.1 134.9L237.6 134.9L238.1 134.9L238.6 134.8L239.1 134.8L239.6 134.9L240.1 134.8L240.6 134.8L241.1 134.8L241.6 134.8L242.1 134.9L242.6 134.8L243.1 134.8L243.6 134.9L244.1 134.9L244.6 134.8L245.1 134.7L245.6 134.9L246.1 134.9L246.6 134.9L247.1 134.8L247.6 134.8L248.1 134.7L248.6 134.8L249.1 134.8L249.6 134.7L250.1 134.8L250.6 134.8L251.1 134.7L251.6 134.9L252.1 134.8L252.6 134.9L253.1 134.8L253.6 134.8L254.1 134.8L254.6 134.8L255.1 134.8L255.6 134.7L256.1 134.7L256.6 134.7L257.1 134.7L257.6 134.7L258.1 134.8L258.6 134.8L259.1 134.7L259.6 134.7L260.1 134.7L260.6 134.8L261.1 134.8L261.6 134.7L262.1 134.8L262.6 134.6L263.1 134.6L263.6 134.5L264.1 134.5L264.6 134.4L265.1 134.4L265.6 134.4L266.1 134.1L266.6 134.1L267.1 134L267.6 133.8L268.1 133.5L268.6 133.5L269.1 133.3L269.6 133.2L270.1 133.1L270.7 133.2L271.2 133.3L271.7 133.2L272.2 133.3L272.7 133.5L273.2 133.6L273.7 133.8L274.2 134L274.7 134.1L275.2 134.1L275.7 134.2L276.2 134.4L276.7 134.5L277.2 134.6L277.7 134.6L278.2 134.5L278.7 134.6L279.2 134.6L279.7 134.6L280.2 134.6L280.7 134.6L281.2 134.7L281.7 134.6L282.2 134.7L282.7 134.7L283.2 134.6L283.7 134.6L284.2 134.6L284.7 134.6L285.2 134.7L285.7 134.7L286.2 134.5L286.7 134.5L287.2 134.4L287.7 134.4L288.2 134.3L288.7 134.1L289.2 133.8L289.7 133.5L290.2 132.8L290.7 132L291.2 130.9L291.7 129.4L292.2 127.6L292.7 125.4L293.2 122.7L293.7 119.6L294.2 116.5L294.7 113.2L295.2 109.9L295.7 106.8L296.2 104.3L296.7 102.5L297.2 101.5L297.7 101.2L298.2 102L298.7 103.6L299.2 106L299.7 108.8L300.2 112L300.7 115.3L301.2 118.6L301.7 121.7L302.2 124.4L302.7 126.6L303.2 128.5L303.7 130.1L304.2 131.2L304.7 132.2L305.2 132.6L305.7 133.2L306.2 133.4L306.7 133.7L307.2 133.7L307.7 133.7L308.2 133.8L308.7 133.9L309.2 133.9L309.7 133.8L310.2 133.8L310.7 133.8L311.2 133.8L311.7 133.7L312.2 133.7L312.7 133.8L313.2 133.7L313.7 133.6L314.2 133.7L314.7 133.7L315.2 133.7L315.7 133.7L316.2 133.8L316.7 133.6L317.2 133.6L317.7 133.8L318.2 133.7L318.7 133.8L319.2 133.7L319.7 133.8L320.2 133.6L320.7 133.6L321.2 133.7L321.7 133.7L322.2 133.6L322.7 133.8L323.2 133.6L323.7 133.6L324.2 133.6L324.7 133.6L325.2 133.6L325.7 133.6L326.2 133.5L326.7 133.6L327.2 133.7L327.7 133.7L328.2 133.7L328.7 133.6L329.2 133.7L329.7 133.5L330.2 133.7L330.7 133.6L331.2 133.5L331.7 133.5L332.2 133.5L332.7 133.6L333.2 133.5L333.7 133.4L334.2 133.4L334.7 133.4L335.2 133.5L335.7 133.4L336.2 133.4L336.7 133.4L337.2 133.3L337.7 133.3L338.2 133.2L338.7 133.1L339.2 133.3L339.7 133.1L340.2 133.1L340.7 133L341.2 133.1L341.7 132.9L342.2 132.9L342.7 132.8L343.2 132.9L343.7 133L344.2 132.9L344.7 133L345.2 132.8L345.7 133L346.2 132.8L346.7 133L347.2 132.9L347.7 133L348.2 133L348.7 133.1L349.2 133L349.7 133.1L350.2 133L350.7 133.2L351.2 133.2L351.7 133.2L352.2 133.3L352.7 133.2L353.2 133.3L353.8 133.3L354.3 133.3L354.8 133.3L355.3 133.4L355.8 133.4L356.3 133.4L356.8 133.4L357.3 133.4L357.8 133.5L358.3 133.6L358.8 133.5L359.3 133.4L359.8 133.5L360.3 133.6L360.8 133.5L361.3 133.5L361.8 133.4L362.3 133.6L362.8 133.6L363.3 133.5L363.8 133.5L364.3 133.5L364.8 133.6L365.3 133.6L365.8 133.4L366.3 133.4L366.8 133.6L367.3 133.5L367.8 133.6L368.3 133.5L368.8 133.6L369.3 133.4L369.8 133.6L370.3 133.5L370.8 133.4L371.3 133.4L371.8 133.4L372.3 133.5L372.8 133.6L373.3 133.6L373.8 133.6L374.3 133.5L374.8 133.5L375.3 133.5L375.8 133.5L376.3 133.6L376.8 133.5L377.3 133.5L377.8 133.4L378.3 133.4L378.8 133.4L379.3 133.4L379.8 133.5L380.3 133.4L380.8 133.4L381.3 133.5L381.8 133.4L382.3 133.4L382.8 133.3L383.3 133.3L383.8 133.4L384.3 133.5L384.8 133.4L385.3 133.4L385.8 133.4L386.3 133.4L386.8 133.3L387.3 133.3L387.8 133.4L388.3 133.4L388.8 133.3L389.3 133.4L389.8 133.4L390.3 133.5L390.8 133.4L391.3 133.4L391.8 133.4L392.3 133.3L392.8 133.4L393.3 133.5L393.8 133.5L394.3 133.3L394.8 133.4" fill="none" stroke="#3030a8" stroke-width="1.35" stroke-linejoin="round"/>
<rect x="18.40" y="192.70" width="166.20" height="140.10" fill="none" stroke="#222" stroke-width="1.1"/>
<line x1="18.40" y1="332.80" x2="18.40" y2="334.40" stroke="#1a1a1a" stroke-width="0.9"/>
<line x1="73.90" y1="332.80" x2="73.90" y2="334.40" stroke="#1a1a1a" stroke-width="0.9"/>
<line x1="129.40" y1="332.80" x2="129.40" y2="334.40" stroke="#1a1a1a" stroke-width="0.9"/>
<line x1="184.90" y1="332.80" x2="184.90" y2="334.40" stroke="#1a1a1a" stroke-width="0.9"/>
<line x1="46.15" y1="332.80" x2="46.15" y2="334.08" stroke="#1a1a1a" stroke-width="0.8"/>
<line x1="101.65" y1="332.80" x2="101.65" y2="334.08" stroke="#1a1a1a" stroke-width="0.8"/>
<line x1="157.15" y1="332.80" x2="157.15" y2="334.08" stroke="#1a1a1a" stroke-width="0.8"/>
<line x1="64.50" y1="193.00" x2="64.50" y2="278.00" stroke="#333" stroke-width="1.0" stroke-dasharray="1 1"/>
<line x1="90.50" y1="193.00" x2="90.50" y2="332.00" stroke="#333" stroke-width="1.0" stroke-dasharray="1 1"/>
<path d="M18.4 209.1L18.9 209.2L19.4 209.2L19.9 209.2L20.4 209.1L20.9 209.3L21.4 209.3L21.9 209.2L22.4 209.2L22.9 209.1L23.4 209.1L23.9 209.2L24.4 209.2L24.9 209.1L25.4 209.2L25.9 209.1L26.4 209.1L26.9 209.1L27.4 209.3L27.9 209.2L28.4 209.2L28.9 209.2L29.4 209.1L29.9 209.1L30.4 209.2L30.9 209.1L31.4 209.3L31.9 209.1L32.4 209.1L32.9 209.2L33.4 209.1L33.9 209.2L34.4 209.1L34.9 209.2L35.4 209.1L35.9 209.1L36.4 209.1L36.9 209.1L37.4 209.2L37.9 209.1L38.4 209.2L38.9 209.1L39.4 209.2L39.9 209.2L40.4 209.2L40.9 209.2L41.4 209.1L41.9 209.2L42.4 209L42.9 209.1L43.4 209.2L43.9 209L44.4 209.2L44.9 209.2L45.4 209.1L45.9 209L46.4 209L46.9 209L47.4 209.1L47.9 209L48.4 208.9L48.9 208.9L49.4 209L49.9 209L50.4 208.8L50.9 208.7L51.4 208.7L51.9 208.6L52.4 208.4L52.9 208.3L53.4 208.1L53.9 207.9L54.4 207.6L54.9 207.4L55.4 207.1L55.9 206.7L56.4 206.1L56.9 205.5L57.4 204.8L57.9 204.2L58.4 203.7L58.9 203.3L59.4 202.7L59.9 202.1L60.5 201.6L61 201.2L61.5 201L62 200.7L62.5 200.4L63 200.3L63.5 200.1L64 199.9L64.5 199.9L65 199.9L65.5 200L66 200.2L66.5 200.6L67 200.7L67.5 200.9L68 201.4L68.5 201.8L69 202.2L69.5 202.7L70 202.9L70.5 203.3L71 203.6L71.5 203.9L72 204.2L72.5 204.4L73 204.7L73.5 205L74 205.2L74.5 205.3L75 205.4L75.5 205.5L76 205.8L76.5 205.9L77 206L77.5 205.9L78 206L78.5 206.2L79 206.3L79.5 206.4L80 206.3L80.5 206.4L81 206.4L81.5 206.5L82 206.5L82.5 206.5L83 206.5L83.5 206.7L84 206.6L84.5 206.7L85 206.8L85.5 206.7L86 206.8L86.5 206.9L87 207L87.5 207L88 206.9L88.5 207L89 207.1L89.5 207.2L90 207.1L90.5 207.1L91 207.1L91.5 207.2L92 207.3L92.5 207.3L93 207.5L93.5 207.5L94 207.4L94.5 207.5L95 207.5L95.5 207.6L96 207.6L96.5 207.6L97 207.7L97.5 207.8L98 207.9L98.5 207.9L99 207.8L99.5 208L100 208.1L100.5 208.1L101 208.1L101.5 208L102 208.1L102.5 208.1L103 208.3L103.5 208.2L104 208.3L104.5 208.2L105 208.3L105.5 208.3L106 208.3L106.5 208.3L107 208.3L107.5 208.5L108 208.4L108.5 208.4L109 208.5L109.5 208.6L110 208.4L110.5 208.5L111 208.5L111.5 208.6L112 208.7L112.5 208.5L113 208.6L113.5 208.6L114 208.6L114.5 208.5L115 208.7L115.5 208.7L116 208.6L116.5 208.6L117 208.8L117.5 208.6L118 208.6L118.5 208.6L119 208.8L119.5 208.8L120 208.7L120.5 208.7L121 208.6L121.5 208.7L122 208.7L122.5 208.7L123 208.7L123.5 208.7L124 208.7L124.5 208.6L125 208.7L125.5 208.7L126 208.8L126.5 208.8L127 208.8L127.5 208.7L128 208.7L128.5 208.7L129 208.7L129.5 208.8L130 208.8L130.5 208.6L131 208.7L131.5 208.7L132 208.8L132.5 208.8L133 208.8L133.5 208.8L134 208.8L134.5 208.8L135 208.8L135.5 208.8L136 208.8L136.5 208.7L137 208.8L137.5 208.7L138 208.8L138.5 208.8L139 208.8L139.5 208.8L140 208.6L140.5 208.7L141 208.7L141.5 208.7L142 208.7L142.5 208.8L143 208.7L143.6 208.7L144.1 208.8L144.6 208.8L145.1 208.7L145.6 208.7L146.1 208.8L146.6 208.8L147.1 208.7L147.6 208.7L148.1 208.8L148.6 208.8L149.1 208.7L149.6 208.8L150.1 208.7L150.6 208.7L151.1 208.8L151.6 208.7L152.1 208.8L152.6 208.7L153.1 208.8L153.6 208.7L154.1 208.7L154.6 208.8L155.1 208.7L155.6 208.7L156.1 208.8L156.6 208.7L157.1 208.7L157.6 208.7L158.1 208.7L158.6 208.7L159.1 208.8L159.6 208.6L160.1 208.8L160.6 208.8L161.1 208.8L161.6 208.6L162.1 208.7L162.6 208.6L163.1 208.8L163.6 208.8L164.1 208.7L164.6 208.6L165.1 208.7L165.6 208.7L166.1 208.7L166.6 208.7L167.1 208.8L167.6 208.7L168.1 208.7L168.6 208.8L169.1 208.8L169.6 208.7L170.1 208.6L170.6 208.7L171.1 208.7L171.6 208.7L172.1 208.7L172.6 208.8L173.1 208.8L173.6 208.8L174.1 208.8L174.6 208.6L175.1 208.7L175.6 208.6L176.1 208.8L176.6 208.8L177.1 208.8L177.6 208.7L178.1 208.6L178.6 208.8L179.1 208.7L179.6 208.7L180.1 208.7L180.6 208.8L181.1 208.7L181.6 208.7L182.1 208.7L182.6 208.7L183.1 208.7L183.6 208.8L184.1 208.6L184.6 208.6" fill="none" stroke="#8c28dc" stroke-width="1.35" stroke-linejoin="round"/>
<path d="M18.4 232.3L18.9 232.1L19.4 232.1L19.9 232.3L20.4 232.1L20.9 232.1L21.4 232.2L21.9 232.2L22.4 232.3L22.9 232.1L23.4 232.3L23.9 232.1L24.4 232.2L24.9 232.3L25.4 232.2L25.9 232.2L26.4 232.2L26.9 232.1L27.4 232.2L27.9 232.2L28.4 232.1L28.9 232.1L29.4 232.2L29.9 232.2L30.4 232.2L30.9 232.2L31.4 232.2L31.9 232.1L32.4 232.2L32.9 232.1L33.4 232.1L33.9 232.2L34.4 232.1L34.9 232.2L35.4 232.2L35.9 232.1L36.4 232L36.9 232.2L37.4 232.1L37.9 232L38.4 232L38.9 232.1L39.4 232L39.9 232.2L40.4 232.1L40.9 232.1L41.4 232.1L41.9 232.1L42.4 232.1L42.9 232L43.4 232L43.9 232L44.4 232L44.9 232L45.4 232L45.9 232L46.4 232L46.9 232L47.4 231.9L47.9 232L48.4 231.9L48.9 231.9L49.4 231.8L49.9 231.8L50.4 231.7L50.9 231.5L51.4 231.4L51.9 231.2L52.4 231.2L52.9 230.9L53.4 230.7L53.9 230.4L54.4 230.1L54.9 229.7L55.4 229.3L55.9 228.7L56.4 228.1L56.9 227.3L57.4 226.4L57.9 225.5L58.4 224.8L58.9 223.9L59.4 223.2L59.9 222.6L60.5 221.9L61 221.2L61.5 220.8L62 220.4L62.5 220L63 219.7L63.5 219.6L64 219.4L64.5 219.2L65 219.4L65.5 219.5L66 219.7L66.5 220.1L67 220.5L67.5 220.8L68 221.2L68.5 221.6L69 222.3L69.5 222.9L70 223.5L70.5 223.9L71 224.5L71.5 224.8L72 225.2L72.5 225.5L73 226L73.5 226.2L74 226.4L74.5 226.6L75 226.9L75.5 227.2L76 227.2L76.5 227.4L77 227.5L77.5 227.7L78 227.8L78.5 227.9L79 228L79.5 228.2L80 228.2L80.5 228.1L81 228.2L81.5 228.4L82 228.3L82.5 228.4L83 228.5L83.5 228.5L84 228.7L84.5 228.7L85 228.7L85.5 228.7L86 228.8L86.5 228.8L87 228.8L87.5 229L88 229L88.5 229.2L89 229.2L89.5 229.1L90 229.2L90.5 229.3L91 229.3L91.5 229.4L92 229.4L92.5 229.6L93 229.5L93.5 229.7L94 229.8L94.5 229.9L95 229.8L95.5 229.9L96 229.9L96.5 230L97 230.2L97.5 230.2L98 230.1L98.5 230.2L99 230.3L99.5 230.3L100 230.5L100.5 230.6L101 230.5L101.5 230.6L102 230.7L102.5 230.7L103 230.6L103.5 230.7L104 230.7L104.5 230.9L105 230.9L105.5 230.9L106 231L106.5 231L107 230.9L107.5 231L108 231.1L108.5 231.1L109 231L109.5 231.1L110 231L110.5 231.1L111 231.1L111.5 231.2L112 231.1L112.5 231.2L113 231.3L113.5 231.2L114 231.3L114.5 231.4L115 231.3L115.5 231.3L116 231.4L116.5 231.2L117 231.4L117.5 231.4L118 231.4L118.5 231.4L119 231.3L119.5 231.3L120 231.3L120.5 231.4L121 231.5L121.5 231.5L122 231.4L122.5 231.4L123 231.4L123.5 231.4L124 231.5L124.5 231.5L125 231.4L125.5 231.5L126 231.5L126.5 231.4L127 231.4L127.5 231.4L128 231.4L128.5 231.3L129 231.5L129.5 231.4L130 231.3L130.5 231.4L131 231.3L131.5 231.4L132 231.4L132.5 231.3L133 231.4L133.5 231.4L134 231.4L134.5 231.5L135 231.4L135.5 231.4L136 231.5L136.5 231.5L137 231.4L137.5 231.3L138 231.5L138.5 231.4L139 231.4L139.5 231.3L140 231.4L140.5 231.4L141 231.3L141.5 231.3L142 231.5L142.5 231.5L143 231.3L143.6 231.4L144.1 231.5L144.6 231.4L145.1 231.3L145.6 231.4L146.1 231.4L146.6 231.5L147.1 231.4L147.6 231.4L148.1 231.4L148.6 231.3L149.1 231.4L149.6 231.5L150.1 231.4L150.6 231.4L151.1 231.4L151.6 231.3L152.1 231.3L152.6 231.3L153.1 231.4L153.6 231.5L154.1 231.3L154.6 231.4L155.1 231.4L155.6 231.4L156.1 231.3L156.6 231.5L157.1 231.4L157.6 231.4L158.1 231.3L158.6 231.4L159.1 231.5L159.6 231.4L160.1 231.4L160.6 231.4L161.1 231.3L161.6 231.4L162.1 231.5L162.6 231.4L163.1 231.4L163.6 231.3L164.1 231.4L164.6 231.4L165.1 231.3L165.6 231.4L166.1 231.4L166.6 231.4L167.1 231.4L167.6 231.3L168.1 231.4L168.6 231.3L169.1 231.4L169.6 231.3L170.1 231.5L170.6 231.4L171.1 231.3L171.6 231.3L172.1 231.3L172.6 231.4L173.1 231.3L173.6 231.4L174.1 231.3L174.6 231.4L175.1 231.3L175.6 231.4L176.1 231.4L176.6 231.3L177.1 231.3L177.6 231.3L178.1 231.4L178.6 231.3L179.1 231.2L179.6 231.3L180.1 231.4L180.6 231.2L181.1 231.4L181.6 231.3L182.1 231.2L182.6 231.2L183.1 231.3L183.6 231.3L184.1 231.2L184.6 231.2" fill="none" stroke="#f23c96" stroke-width="1.35" stroke-linejoin="round"/>
<path d="M18.4 254.7L18.9 254.7L19.4 254.7L19.9 254.5L20.4 254.6L20.9 254.6L21.4 254.6L21.9 254.5L22.4 254.5L22.9 254.6L23.4 254.5L23.9 254.6L24.4 254.5L24.9 254.5L25.4 254.6L25.9 254.5L26.4 254.6L26.9 254.6L27.4 254.5L27.9 254.5L28.4 254.6L28.9 254.6L29.4 254.6L29.9 254.6L30.4 254.6L30.9 254.5L31.4 254.6L31.9 254.5L32.4 254.5L32.9 254.6L33.4 254.5L33.9 254.4L34.4 254.5L34.9 254.6L35.4 254.5L35.9 254.5L36.4 254.5L36.9 254.4L37.4 254.4L37.9 254.5L38.4 254.6L38.9 254.4L39.4 254.4L39.9 254.4L40.4 254.4L40.9 254.4L41.4 254.5L41.9 254.5L42.4 254.4L42.9 254.4L43.4 254.4L43.9 254.4L44.4 254.5L44.9 254.4L45.4 254.3L45.9 254.3L46.4 254.4L46.9 254.4L47.4 254.4L47.9 254.3L48.4 254.3L48.9 254.3L49.4 254.2L49.9 254.2L50.4 253.9L50.9 254L51.4 253.7L51.9 253.6L52.4 253.3L52.9 253.3L53.4 253L53.9 252.7L54.4 252.3L54.9 252L55.4 251.5L55.9 250.9L56.4 250L56.9 249L57.4 248.1L57.9 247.1L58.4 246.2L58.9 245.3L59.4 244.5L59.9 243.6L60.5 243L61 242.3L61.5 241.7L62 241.2L62.5 240.9L63 240.5L63.5 240.3L64 240.2L64.5 240L65 240.1L65.5 240.4L66 240.6L66.5 240.9L67 241.4L67.5 241.8L68 242.3L68.5 242.8L69 243.5L69.5 244.2L70 244.9L70.5 245.4L71 245.8L71.5 246.3L72 246.7L72.5 247.2L73 247.5L73.5 247.9L74 248.2L74.5 248.4L75 248.7L75.5 248.9L76 249.1L76.5 249.4L77 249.4L77.5 249.7L78 249.6L78.5 249.8L79 249.9L79.5 249.9L80 250.1L80.5 250.1L81 250.2L81.5 250.3L82 250.2L82.5 250.4L83 250.5L83.5 250.5L84 250.7L84.5 250.6L85 250.8L85.5 250.7L86 250.8L86.5 250.9L87 250.9L87.5 251.1L88 251.1L88.5 251.2L89 251.2L89.5 251.3L90 251.3L90.5 251.3L91 251.5L91.5 251.4L92 251.7L92.5 251.7L93 251.7L93.5 251.9L94 251.9L94.5 252L95 252L95.5 252L96 252.1L96.5 252.2L97 252.4L97.5 252.3L98 252.4L98.5 252.5L99 252.6L99.5 252.6L100 252.7L100.5 252.7L101 252.7L101.5 252.7L102 252.8L102.5 252.9L103 253.1L103.5 253L104 253L104.5 253.1L105 253.1L105.5 253.2L106 253.2L106.5 253.3L107 253.2L107.5 253.4L108 253.3L108.5 253.4L109 253.4L109.5 253.3L110 253.5L110.5 253.4L111 253.5L111.5 253.4L112 253.6L112.5 253.5L113 253.6L113.5 253.6L114 253.7L114.5 253.6L115 253.6L115.5 253.8L116 253.7L116.5 253.6L117 253.8L117.5 253.8L118 253.7L118.5 253.6L119 253.8L119.5 253.7L120 253.8L120.5 253.8L121 253.8L121.5 253.8L122 253.8L122.5 253.8L123 253.8L123.5 253.8L124 253.7L124.5 253.7L125 253.7L125.5 253.8L126 253.7L126.5 253.8L127 253.7L127.5 253.8L128 253.8L128.5 253.9L129 253.8L129.5 253.8L130 253.8L130.5 253.8L131 253.9L131.5 253.8L132 253.9L132.5 253.9L133 253.9L133.5 253.7L134 253.8L134.5 253.8L135 253.9L135.5 253.7L136 253.8L136.5 253.8L137 253.8L137.5 253.8L138 253.7L138.5 253.8L139 253.7L139.5 253.8L140 253.8L140.5 253.9L141 253.8L141.5 253.8L142 253.7L142.5 253.8L143 253.8L143.6 253.8L144.1 253.7L144.6 253.9L145.1 253.8L145.6 253.9L146.1 253.8L146.6 253.8L147.1 253.8L147.6 253.8L148.1 253.9L148.6 253.9L149.1 253.8L149.6 253.8L150.1 253.7L150.6 253.9L151.1 253.8L151.6 253.8L152.1 253.7L152.6 253.7L153.1 253.8L153.6 253.9L154.1 253.8L154.6 253.8L155.1 253.8L155.6 253.7L156.1 253.7L156.6 253.8L157.1 253.7L157.6 253.8L158.1 253.8L158.6 253.8L159.1 253.7L159.6 253.7L160.1 253.8L160.6 253.7L161.1 253.8L161.6 253.7L162.1 253.8L162.6 253.8L163.1 253.8L163.6 253.8L164.1 253.7L164.6 253.7L165.1 253.9L165.6 253.7L166.1 253.7L166.6 253.8L167.1 253.8L167.6 253.8L168.1 253.7L168.6 253.9L169.1 253.7L169.6 253.8L170.1 253.8L170.6 253.8L171.1 253.7L171.6 253.8L172.1 253.8L172.6 253.8L173.1 253.7L173.6 253.8L174.1 253.8L174.6 253.7L175.1 253.8L175.6 253.6L176.1 253.6L176.6 253.8L177.1 253.8L177.6 253.8L178.1 253.8L178.6 253.7L179.1 253.7L179.6 253.7L180.1 253.8L180.6 253.7L181.1 253.8L181.6 253.6L182.1 253.8L182.6 253.8L183.1 253.6L183.6 253.8L184.1 253.6L184.6 253.6" fill="none" stroke="#942890" stroke-width="1.35" stroke-linejoin="round"/>
<path d="M18.4 276.6L18.9 276.7L19.4 276.5L19.9 276.7L20.4 276.5L20.9 276.6L21.4 276.5L21.9 276.6L22.4 276.5L22.9 276.6L23.4 276.6L23.9 276.6L24.4 276.6L24.9 276.6L25.4 276.7L25.9 276.5L26.4 276.6L26.9 276.6L27.4 276.6L27.9 276.5L28.4 276.5L28.9 276.6L29.4 276.5L29.9 276.6L30.4 276.6L30.9 276.5L31.4 276.5L31.9 276.5L32.4 276.5L32.9 276.5L33.4 276.6L33.9 276.6L34.4 276.5L34.9 276.6L35.4 276.4L35.9 276.4L36.4 276.5L36.9 276.5L37.4 276.5L37.9 276.6L38.4 276.6L38.9 276.4L39.4 276.5L39.9 276.6L40.4 276.4L40.9 276.5L41.4 276.4L41.9 276.4L42.4 276.4L42.9 276.5L43.4 276.5L43.9 276.3L44.4 276.4L44.9 276.5L45.4 276.4L45.9 276.3L46.4 276.3L46.9 276.3L47.4 276.2L47.9 276.3L48.4 276.3L48.9 276.1L49.4 276.1L49.9 275.9L50.4 275.8L50.9 275.7L51.4 275.5L51.9 275.2L52.4 275.1L52.9 274.8L53.4 274.5L53.9 274L54.4 273.6L54.9 273L55.4 272.4L55.9 271.5L56.4 270.5L56.9 269.5L57.4 268.3L57.9 267.6L58.4 266.6L58.9 265.6L59.4 264.6L59.9 263.8L60.5 263L61 262.5L61.5 262L62 261.5L62.5 261.2L63 260.9L63.5 260.8L64 260.7L64.5 260.7L65 260.8L65.5 261.2L66 261.6L66.5 262.1L67 262.4L67.5 263L68 263.7L68.5 264.3L69 265.1L69.5 265.9L70 266.5L70.5 267.1L71 267.5L71.5 267.9L72 268.4L72.5 268.7L73 269.3L73.5 269.6L74 269.8L74.5 270.2L75 270.3L75.5 270.6L76 270.7L76.5 270.9L77 271.2L77.5 271.1L78 271.4L78.5 271.5L79 271.6L79.5 271.5L80 271.8L80.5 271.8L81 271.8L81.5 271.9L82 271.9L82.5 272.1L83 272.1L83.5 272.3L84 272.3L84.5 272.4L85 272.4L85.5 272.5L86 272.5L86.5 272.6L87 272.7L87.5 272.8L88 272.9L88.5 272.9L89 272.9L89.5 272.9L90 273L90.5 273.1L91 273.3L91.5 273.3L92 273.5L92.5 273.4L93 273.6L93.5 273.6L94 273.6L94.5 273.8L95 273.8L95.5 274L96 273.9L96.5 274L97 274L97.5 274.1L98 274.4L98.5 274.3L99 274.4L99.5 274.4L100 274.6L100.5 274.6L101 274.6L101.5 274.6L102 274.7L102.5 274.9L103 274.9L103.5 274.9L104 274.9L104.5 275L105 275.1L105.5 275.1L106 275L106.5 275.1L107 275.1L107.5 275.3L108 275.2L108.5 275.3L109 275.2L109.5 275.3L110 275.4L110.5 275.5L111 275.4L111.5 275.4L112 275.5L112.5 275.6L113 275.5L113.5 275.5L114 275.5L114.5 275.5L115 275.7L115.5 275.6L116 275.6L116.5 275.6L117 275.6L117.5 275.6L118 275.7L118.5 275.8L119 275.7L119.5 275.6L120 275.7L120.5 275.7L121 275.7L121.5 275.7L122 275.6L122.5 275.7L123 275.7L123.5 275.6L124 275.6L124.5 275.6L125 275.8L125.5 275.8L126 275.7L126.5 275.7L127 275.7L127.5 275.6L128 275.7L128.5 275.7L129 275.8L129.5 275.6L130 275.8L130.5 275.6L131 275.7L131.5 275.8L132 275.6L132.5 275.7L133 275.6L133.5 275.7L134 275.7L134.5 275.8L135 275.7L135.5 275.8L136 275.8L136.5 275.8L137 275.7L137.5 275.6L138 275.7L138.5 275.6L139 275.7L139.5 275.6L140 275.7L140.5 275.8L141 275.8L141.5 275.7L142 275.6L142.5 275.7L143 275.8L143.6 275.7L144.1 275.7L144.6 275.7L145.1 275.6L145.6 275.7L146.1 275.7L146.6 275.7L147.1 275.8L147.6 275.7L148.1 275.7L148.6 275.7L149.1 275.7L149.6 275.8L150.1 275.6L150.6 275.7L151.1 275.7L151.6 275.7L152.1 275.7L152.6 275.7L153.1 275.7L153.6 275.8L154.1 275.8L154.6 275.8L155.1 275.8L155.6 275.7L156.1 275.6L156.6 275.7L157.1 275.8L157.6 275.8L158.1 275.7L158.6 275.6L159.1 275.6L159.6 275.7L160.1 275.7L160.6 275.6L161.1 275.8L161.6 275.6L162.1 275.8L162.6 275.7L163.1 275.8L163.6 275.7L164.1 275.6L164.6 275.6L165.1 275.8L165.6 275.7L166.1 275.7L166.6 275.7L167.1 275.7L167.6 275.7L168.1 275.7L168.6 275.6L169.1 275.7L169.6 275.6L170.1 275.7L170.6 275.7L171.1 275.6L171.6 275.6L172.1 275.7L172.6 275.6L173.1 275.7L173.6 275.6L174.1 275.6L174.6 275.6L175.1 275.6L175.6 275.7L176.1 275.7L176.6 275.7L177.1 275.6L177.6 275.6L178.1 275.5L178.6 275.7L179.1 275.7L179.6 275.7L180.1 275.7L180.6 275.6L181.1 275.6L181.6 275.5L182.1 275.5L182.6 275.6L183.1 275.7L183.6 275.7L184.1 275.6L184.6 275.6" fill="none" stroke="#269a3c" stroke-width="1.35" stroke-linejoin="round"/>
<path d="M18.4 300.2L18.9 300.3L19.4 300.3L19.9 300.1L20.4 300.3L20.9 300.2L21.4 300.1L21.9 300.3L22.4 300.1L22.9 300.1L23.4 300.1L23.9 300.2L24.4 300.1L24.9 300.2L25.4 300.2L25.9 300.1L26.4 300.2L26.9 300.2L27.4 300.2L27.9 300.1L28.4 300.1L28.9 300.1L29.4 300L29.9 300.2L30.4 300.1L30.9 300L31.4 300.1L31.9 300.1L32.4 300L32.9 300L33.4 300.1L33.9 300L34.4 300.1L34.9 300.1L35.4 300L35.9 300.1L36.4 300L36.9 300L37.4 300.1L37.9 300L38.4 300L38.9 300.1L39.4 300L39.9 300L40.4 300L40.9 300L41.4 299.9L41.9 300.1L42.4 300L42.9 299.9L43.4 300L43.9 300.1L44.4 300L44.9 300L45.4 300L45.9 299.9L46.4 300L46.9 299.9L47.4 299.9L47.9 299.9L48.4 299.9L48.9 300L49.4 300L49.9 300L50.4 299.9L50.9 299.8L51.4 299.7L51.9 299.3L52.4 298.9L52.9 298.5L53.4 298L53.9 297.1L54.4 295.7L54.9 294L55.4 292.3L55.9 290.6L56.4 288.6L56.9 286.2L57.4 283.9L57.9 282.2L58.4 280.8L58.9 280L59.4 279L59.9 278.4L60.5 278L61 277.9L61.5 278.1L62 278.5L62.5 279.1L63 279.9L63.5 280.6L64 281.3L64.5 282.4L65 283.4L65.5 284.4L66 285.6L66.5 286.4L67 287.3L67.5 288L68 288.9L68.5 289.5L69 290L69.5 290.7L70 291.3L70.5 291.8L71 292.2L71.5 292.7L72 293.2L72.5 293.7L73 294.2L73.5 294.6L74 294.7L74.5 295L75 295.3L75.5 295.5L76 295.5L76.5 295.6L77 295.9L77.5 295.9L78 296L78.5 296.1L79 296.1L79.5 296.2L80 296.3L80.5 296.2L81 296.3L81.5 296.3L82 296.4L82.5 296.4L83 296.4L83.5 296.6L84 296.5L84.5 296.5L85 296.6L85.5 296.5L86 296.6L86.5 296.7L87 296.8L87.5 296.7L88 296.7L88.5 296.7L89 296.8L89.5 296.8L90 296.9L90.5 296.9L91 297L91.5 297.2L92 297.2L92.5 297.3L93 297.3L93.5 297.5L94 297.6L94.5 297.8L95 298L95.5 298.1L96 298.1L96.5 298.3L97 298.3L97.5 298.4L98 298.4L98.5 298.3L99 298.5L99.5 298.5L100 298.5L100.5 298.4L101 298.6L101.5 298.6L102 298.5L102.5 298.6L103 298.6L103.5 298.5L104 298.7L104.5 298.7L105 298.7L105.5 298.6L106 298.8L106.5 298.6L107 298.7L107.5 298.8L108 298.8L108.5 298.7L109 298.8L109.5 298.9L110 298.8L110.5 299L111 299L111.5 298.9L112 298.9L112.5 298.9L113 299.1L113.5 299L114 299.1L114.5 299.1L115 299.1L115.5 299L116 299.1L116.5 299L117 299.1L117.5 299.2L118 299.2L118.5 299.1L119 299.1L119.5 299.2L120 299.1L120.5 299.1L121 299.2L121.5 299.2L122 299.3L122.5 299.1L123 299.3L123.5 299.2L124 299.1L124.5 299.1L125 299.3L125.5 299.1L126 299.2L126.5 299.1L127 299.2L127.5 299.2L128 299.2L128.5 299.1L129 299.2L129.5 299.2L130 299.2L130.5 299.2L131 299.1L131.5 299.3L132 299.1L132.5 299.2L133 299.1L133.5 299.1L134 299.1L134.5 299.2L135 299.1L135.5 299.2L136 299.1L136.5 299.2L137 299.1L137.5 299.1L138 299.2L138.5 299.1L139 299.1L139.5 299L140 299.2L140.5 299.1L141 299.1L141.5 299.1L142 299.1L142.5 299.2L143 299.1L143.6 299L144.1 299.1L144.6 299L145.1 299.2L145.6 299L146.1 299.1L146.6 299.1L147.1 299L147.6 299.1L148.1 299.1L148.6 299.2L149.1 299.2L149.6 299.2L150.1 299.1L150.6 299.1L151.1 299.1L151.6 299L152.1 299.1L152.6 299.2L153.1 299.1L153.6 299.2L154.1 299L154.6 299.1L155.1 299.1L155.6 299.2L156.1 299.1L156.6 299.1L157.1 299L157.6 299.1L158.1 299.1L158.6 299.2L159.1 299L159.6 299L160.1 299.1L160.6 299L161.1 299L161.6 299.1L162.1 299L162.6 299.1L163.1 299L163.6 298.9L164.1 299L164.6 299.1L165.1 299.1L165.6 299L166.1 299.1L166.6 299.1L167.1 299L167.6 299.1L168.1 299L168.6 298.9L169.1 299L169.6 299L170.1 299.1L170.6 298.9L171.1 299L171.6 299L172.1 298.9L172.6 299L173.1 299L173.6 299L174.1 298.9L174.6 299.1L175.1 299L175.6 298.9L176.1 299L176.6 299L177.1 299L177.6 298.9L178.1 299L178.6 299L179.1 298.9L179.6 298.9L180.1 299L180.6 299L181.1 299L181.6 298.9L182.1 299L182.6 299L183.1 298.9L183.6 298.9L184.1 298.8L184.6 299" fill="none" stroke="#f89830" stroke-width="1.35" stroke-linejoin="round"/>
<path d="M18.4 322.4L18.9 322.3L19.4 322.3L19.9 322.4L20.4 322.3L20.9 322.4L21.4 322.4L21.9 322.3L22.4 322.4L22.9 322.4L23.4 322.4L23.9 322.5L24.4 322.5L24.9 322.3L25.4 322.4L25.9 322.4L26.4 322.4L26.9 322.2L27.4 322.4L27.9 322.3L28.4 322.3L28.9 322.3L29.4 322.4L29.9 322.4L30.4 322.3L30.9 322.4L31.4 322.2L31.9 322.4L32.4 322.3L32.9 322.3L33.4 322.2L33.9 322.2L34.4 322.2L34.9 322.3L35.4 322.3L35.9 322.3L36.4 322.4L36.9 322.3L37.4 322.3L37.9 322.2L38.4 322.3L38.9 322.2L39.4 322.3L39.9 322.2L40.4 322.2L40.9 322.3L41.4 322.2L41.9 322.2L42.4 322.2L42.9 322.3L43.4 322.1L43.9 322.2L44.4 322.2L44.9 322.3L45.4 322.3L45.9 322.1L46.4 322.2L46.9 322.1L47.4 322.3L47.9 322.3L48.4 322.2L48.9 322.2L49.4 322.1L49.9 322.1L50.4 322L50.9 321.6L51.4 321.2L51.9 320.9L52.4 320.2L52.9 319.5L53.4 318.1L53.9 316.2L54.4 314.1L54.9 311.7L55.4 309.4L55.9 306.6L56.4 303.5L56.9 300.5L57.4 298.2L57.9 296.9L58.4 295.6L58.9 294.6L59.4 293.7L59.9 293.3L60.5 293.2L61 293.5L61.5 294.2L62 294.9L62.5 295.9L63 297L63.5 297.9L64 299.2L64.5 300.6L65 302.1L65.5 303.4L66 304.7L66.5 305.7L67 306.7L67.5 307.8L68 308.6L68.5 309.3L69 310.3L69.5 310.9L70 311.7L70.5 312.3L71 312.9L71.5 313.6L72 314.1L72.5 314.8L73 315.2L73.5 315.5L74 315.8L74.5 316.1L75 316.4L75.5 316.5L76 316.8L76.5 316.9L77 317L77.5 317.2L78 317.3L78.5 317.4L79 317.3L79.5 317.3L80 317.4L80.5 317.4L81 317.5L81.5 317.6L82 317.6L82.5 317.7L83 317.7L83.5 317.9L84 317.9L84.5 317.8L85 317.9L85.5 318L86 317.9L86.5 318.1L87 318L87.5 318.1L88 318.2L88.5 318.2L89 318.3L89.5 318.4L90 318.5L90.5 318.4L91 318.6L91.5 318.7L92 318.9L92.5 319L93 319.2L93.5 319.3L94 319.5L94.5 319.7L95 319.8L95.5 320L96 320.2L96.5 320.2L97 320.2L97.5 320.2L98 320.4L98.5 320.3L99 320.4L99.5 320.5L100 320.5L100.5 320.5L101 320.4L101.5 320.5L102 320.6L102.5 320.5L103 320.5L103.5 320.7L104 320.6L104.5 320.7L105 320.7L105.5 320.7L106 320.7L106.5 320.9L107 320.9L107.5 320.8L108 320.9L108.5 321L109 321L109.5 320.9L110 320.9L110.5 321.2L111 321L111.5 321L112 321.1L112.5 321.3L113 321.3L113.5 321.3L114 321.3L114.5 321.3L115 321.2L115.5 321.3L116 321.4L116.5 321.4L117 321.4L117.5 321.4L118 321.3L118.5 321.4L119 321.5L119.5 321.5L120 321.4L120.5 321.4L121 321.5L121.5 321.4L122 321.4L122.5 321.5L123 321.5L123.5 321.4L124 321.4L124.5 321.4L125 321.5L125.5 321.4L126 321.5L126.5 321.5L127 321.5L127.5 321.4L128 321.4L128.5 321.5L129 321.4L129.5 321.5L130 321.4L130.5 321.4L131 321.4L131.5 321.5L132 321.4L132.5 321.4L133 321.4L133.5 321.4L134 321.4L134.5 321.4L135 321.5L135.5 321.5L136 321.4L136.5 321.4L137 321.4L137.5 321.5L138 321.4L138.5 321.4L139 321.4L139.5 321.5L140 321.5L140.5 321.4L141 321.6L141.5 321.5L142 321.4L142.5 321.5L143 321.5L143.6 321.5L144.1 321.5L144.6 321.5L145.1 321.4L145.6 321.5L146.1 321.4L146.6 321.5L147.1 321.5L147.6 321.4L148.1 321.4L148.6 321.5L149.1 321.5L149.6 321.5L150.1 321.4L150.6 321.5L151.1 321.4L151.6 321.5L152.1 321.5L152.6 321.5L153.1 321.5L153.6 321.3L154.1 321.4L154.6 321.5L155.1 321.4L155.6 321.3L156.1 321.5L156.6 321.4L157.1 321.5L157.6 321.4L158.1 321.4L158.6 321.4L159.1 321.4L159.6 321.5L160.1 321.4L160.6 321.4L161.1 321.4L161.6 321.5L162.1 321.5L162.6 321.3L163.1 321.4L163.6 321.5L164.1 321.4L164.6 321.3L165.1 321.3L165.6 321.4L166.1 321.5L166.6 321.4L167.1 321.4L167.6 321.3L168.1 321.3L168.6 321.4L169.1 321.4L169.6 321.4L170.1 321.3L170.6 321.4L171.1 321.3L171.6 321.4L172.1 321.3L172.6 321.3L173.1 321.4L173.6 321.3L174.1 321.3L174.6 321.4L175.1 321.3L175.6 321.3L176.1 321.4L176.6 321.4L177.1 321.3L177.6 321.3L178.1 321.3L178.6 321.4L179.1 321.3L179.6 321.4L180.1 321.4L180.6 321.3L181.1 321.3L181.6 321.4L182.1 321.3L182.6 321.4L183.1 321.3L183.6 321.3L184.1 321.3L184.6 321.3" fill="none" stroke="#3030a8" stroke-width="1.35" stroke-linejoin="round"/>
<rect x="228.60" y="193.60" width="166.10" height="140.20" fill="none" stroke="#222" stroke-width="1.1"/>
<line x1="228.40" y1="333.80" x2="228.40" y2="335.40" stroke="#1a1a1a" stroke-width="0.9"/>
<line x1="284.00" y1="333.80" x2="284.00" y2="335.40" stroke="#1a1a1a" stroke-width="0.9"/>
<line x1="339.60" y1="333.80" x2="339.60" y2="335.40" stroke="#1a1a1a" stroke-width="0.9"/>
<line x1="395.20" y1="333.80" x2="395.20" y2="335.40" stroke="#1a1a1a" stroke-width="0.9"/>
<line x1="256.20" y1="333.80" x2="256.20" y2="335.08" stroke="#1a1a1a" stroke-width="0.8"/>
<line x1="311.80" y1="333.80" x2="311.80" y2="335.08" stroke="#1a1a1a" stroke-width="0.8"/>
<line x1="367.40" y1="333.80" x2="367.40" y2="335.08" stroke="#1a1a1a" stroke-width="0.8"/>
<line x1="273.50" y1="194.00" x2="273.50" y2="272.00" stroke="#333" stroke-width="1.0" stroke-dasharray="1 1"/>
<line x1="339.50" y1="194.00" x2="339.50" y2="333.00" stroke="#333" stroke-width="1.0" stroke-dasharray="1 1"/>
<path d="M228.6 216L229.1 216L229.6 216.1L230.1 216.3L230.6 216L231.1 216L231.6 216L232.1 216.3L232.6 216L233.1 216.3L233.6 216.2L234.1 216L234.6 216.2L235.1 216.1L235.6 216.1L236.1 216.4L236.6 215.9L237.1 215.9L237.6 216.3L238.1 216.1L238.6 216L239.1 216L239.6 216L240.1 216.3L240.6 216L241.1 216L241.6 216.1L242.1 216.1L242.6 216.3L243.1 216.2L243.6 216L244.1 215.9L244.6 216.2L245.1 216.3L245.6 215.8L246.1 216.2L246.6 216.2L247.1 216.1L247.6 215.9L248.1 216.2L248.6 216.1L249.1 215.9L249.6 216.1L250.1 215.9L250.6 215.8L251.1 215.9L251.6 215.9L252.1 215.9L252.6 216L253.1 216.1L253.6 216.1L254.1 216.1L254.6 216.1L255.1 215.9L255.6 215.6L256.1 215.5L256.6 215.7L257.1 215.6L257.6 215.6L258.1 215.3L258.6 215.2L259.1 215.5L259.6 215.3L260.1 215.2L260.6 214.9L261.1 214.9L261.6 215.1L262.1 214.8L262.6 214.9L263.1 214.2L263.6 213.9L264.1 213.6L264.6 212.9L265.1 212.5L265.6 211.8L266.1 210.9L266.6 210.1L267.1 209.7L267.6 208.4L268.1 207.6L268.6 206.9L269.1 206.2L269.6 205.4L270.1 204.4L270.6 203.6L271.1 202.9L271.6 201.9L272.1 201L272.6 200.2L273.1 199.4L273.6 198.6L274.1 198.5L274.6 198.6L275.1 199.1L275.6 199.4L276.1 199.9L276.6 200.1L277.1 200.5L277.6 201.6L278.1 202.7L278.6 203.4L279.1 204.1L279.6 205.1L280.1 205.8L280.6 206.5L281.1 207.2L281.6 207.9L282.1 208.9L282.6 209L283.1 209.7L283.6 209.9L284.1 210.3L284.6 211L285.1 211.1L285.6 211.4L286.1 211.8L286.6 212.1L287.1 212.3L287.6 212.6L288.1 212.6L288.6 212.8L289.1 213L289.6 213.1L290.1 213.3L290.6 213.3L291.1 213.3L291.6 213.4L292.1 213.8L292.6 213.9L293.1 214L293.6 214L294.1 214L294.6 213.9L295.1 214.3L295.6 214L296.1 214.2L296.6 214.1L297.1 214.3L297.6 214.3L298.1 214.4L298.6 214.6L299.1 214.5L299.6 214.4L300.1 214.7L300.6 214.7L301.1 214.8L301.6 214.4L302.1 214.8L302.6 214.9L303.1 214.6L303.6 214.6L304.1 215L304.6 214.8L305.1 214.8L305.6 215L306.1 214.8L306.6 214.7L307.1 214.8L307.6 214.9L308.1 215L308.6 214.9L309.1 215.1L309.6 214.8L310.1 214.9L310.6 215.1L311.1 215L311.6 215L312.2 215.3L312.7 215L313.2 214.9L313.7 214.9L314.2 215.1L314.7 215L315.2 215.1L315.7 214.9L316.2 214.9L316.7 215.1L317.2 215.3L317.7 215.1L318.2 215.4L318.7 215.2L319.2 215.1L319.7 215.3L320.2 215L320.7 215.2L321.2 215.3L321.7 215.2L322.2 215L322.7 214.9L323.2 215.1L323.7 214.8L324.2 214.8L324.7 214.9L325.2 215L325.7 214.8L326.2 214.6L326.7 214.7L327.2 214.3L327.7 214.2L328.2 214.2L328.7 214L329.2 213.7L329.7 213.7L330.2 213.7L330.7 213.3L331.2 213.4L331.7 212.9L332.2 213.2L332.7 212.9L333.2 212.5L333.7 212.6L334.2 212.4L334.7 211.8L335.2 211.7L335.7 211.6L336.2 211.7L336.7 211.2L337.2 211L337.7 211.1L338.2 210.9L338.7 211L339.2 211L339.7 210.9L340.2 210.8L340.7 210.7L341.2 211.2L341.7 211L342.2 211.1L342.7 211.1L343.2 211.3L343.7 211.5L344.2 211.5L344.7 211.6L345.2 211.5L345.7 211.5L346.2 211.6L346.7 212.1L347.2 211.8L347.7 212.2L348.2 212.5L348.7 212.4L349.2 212.5L349.7 212.7L350.2 213.1L350.7 213.1L351.2 213.3L351.7 213.1L352.2 213.6L352.7 213.6L353.2 213.7L353.7 214L354.2 214.1L354.7 214.3L355.2 214.3L355.7 214.5L356.2 214.3L356.7 214.5L357.2 214.7L357.7 214.6L358.2 214.5L358.7 214.7L359.2 214.9L359.7 215L360.2 214.6L360.7 214.8L361.2 214.7L361.7 214.8L362.2 215.1L362.7 214.9L363.2 214.8L363.7 214.8L364.2 214.9L364.7 215L365.2 214.9L365.7 214.8L366.2 214.9L366.7 214.9L367.2 215.2L367.7 214.8L368.2 215.1L368.7 214.8L369.2 215.2L369.7 214.9L370.2 215.1L370.7 215L371.2 214.8L371.7 214.8L372.2 215.1L372.7 215L373.2 215L373.7 214.9L374.2 215.1L374.7 215L375.2 214.7L375.7 215L376.2 214.9L376.7 215.1L377.2 215L377.7 215.1L378.2 214.7L378.7 215L379.2 215L379.7 215.1L380.2 215.1L380.7 214.9L381.2 215L381.7 215L382.2 214.8L382.7 214.9L383.2 215L383.7 214.9L384.2 214.9L384.7 215.1L385.2 215.1L385.7 214.8L386.2 214.7L386.7 214.9L387.2 214.7L387.7 215.1L388.2 214.8L388.7 214.9L389.2 215L389.7 215L390.2 214.7L390.7 214.8L391.2 214.7L391.7 214.8L392.2 214.6L392.7 215L393.2 214.7L393.7 214.8L394.2 215L394.7 215" fill="none" stroke="#8c28dc" stroke-width="1.35" stroke-linejoin="round"/>
<path d="M228.6 238.1L229.1 238.2L229.6 238.2L230.1 238.5L230.6 238.3L231.1 238.4L231.6 238.1L232.1 238.3L232.6 238.5L233.1 238.3L233.6 238.5L234.1 238.5L234.6 238.2L235.1 238L235.6 238.4L236.1 238.1L236.6 238L237.1 238.4L237.6 238.4L238.1 238.4L238.6 238.5L239.1 238.1L239.6 238.1L240.1 238.1L240.6 238.5L241.1 238.1L241.6 238.1L242.1 238L242.6 238L243.1 238L243.6 238.2L244.1 238.1L244.6 238.2L245.1 238.5L245.6 238.1L246.1 238.4L246.6 238.4L247.1 238.3L247.6 238.3L248.1 238.4L248.6 238.3L249.1 238.1L249.6 238.2L250.1 238.1L250.6 238.2L251.1 238.5L251.6 238.2L252.1 238L252.6 238.2L253.1 238.3L253.6 238.1L254.1 238.2L254.6 237.9L255.1 237.9L255.6 238.1L256.1 237.8L256.6 237.9L257.1 237.9L257.6 237.8L258.1 237.6L258.6 237.6L259.1 238L259.6 237.8L260.1 237.9L260.6 237.6L261.1 237.8L261.6 237.6L262.1 237.4L262.6 237.3L263.1 237.1L263.6 236.7L264.1 236.4L264.6 236.2L265.1 235.5L265.6 235.5L266.1 234.8L266.6 234.3L267.1 233.8L267.6 233.2L268.1 232.3L268.6 231.8L269.1 231.1L269.6 230.5L270.1 230.4L270.6 229.6L271.1 229.2L271.6 228.6L272.1 227.7L272.6 227.4L273.1 226.8L273.6 226.2L274.1 226L274.6 226.1L275.1 226.2L275.6 226.5L276.1 226.6L276.6 227.2L277.1 227.7L277.6 228L278.1 228.9L278.6 229.5L279.1 230.1L279.6 230.9L280.1 231.2L280.6 231.9L281.1 232.1L281.6 233L282.1 233L282.6 233.3L283.1 234.1L283.6 234.3L284.1 234.5L284.6 234.9L285.1 234.9L285.6 235L286.1 235.3L286.6 235.8L287.1 235.9L287.6 235.7L288.1 235.9L288.6 236L289.1 236.4L289.6 236L290.1 236.5L290.6 236.3L291.1 236.6L291.6 236.4L292.1 236.5L292.6 236.9L293.1 236.8L293.6 237.1L294.1 237.1L294.6 237.1L295.1 236.8L295.6 237.1L296.1 237.4L296.6 237.2L297.1 237L297.6 237.1L298.1 237.5L298.6 237.5L299.1 237.2L299.6 237.3L300.1 237.5L300.6 237.4L301.1 237.3L301.6 237.7L302.1 237.5L302.6 237.4L303.1 237.3L303.6 237.5L304.1 237.7L304.6 237.4L305.1 237.4L305.6 237.7L306.1 237.8L306.6 237.6L307.1 237.6L307.6 237.7L308.1 237.7L308.6 237.5L309.1 237.6L309.6 237.5L310.1 237.5L310.6 237.5L311.1 237.7L311.6 237.6L312.2 237.9L312.7 237.7L313.2 238L313.7 237.9L314.2 237.7L314.7 237.6L315.2 237.8L315.7 237.8L316.2 237.8L316.7 237.6L317.2 237.8L317.7 238L318.2 237.8L318.7 237.7L319.2 238.1L319.7 237.8L320.2 238.1L320.7 238L321.2 237.6L321.7 237.8L322.2 237.7L322.7 237.9L323.2 237.7L323.7 237.5L324.2 237.9L324.7 237.8L325.2 237.7L325.7 237.6L326.2 237.3L326.7 237.7L327.2 237.3L327.7 237.4L328.2 237.3L328.7 237.2L329.2 236.9L329.7 237.2L330.2 236.9L330.7 236.8L331.2 236.9L331.7 236.8L332.2 236.7L332.7 236.7L333.2 236.3L333.7 236L334.2 236L334.7 236L335.2 236L335.7 235.9L336.2 235.7L336.7 235.6L337.2 235.6L337.7 235.5L338.2 235.2L338.7 235.4L339.2 235.3L339.7 235.2L340.2 235.4L340.7 235.5L341.2 235.3L341.7 235.5L342.2 235.5L342.7 235.6L343.2 235.7L343.7 235.7L344.2 235.4L344.7 235.7L345.2 235.7L345.7 235.8L346.2 236L346.7 235.8L347.2 236.1L347.7 236.3L348.2 236L348.7 236.5L349.2 236.5L349.7 236.4L350.2 236.7L350.7 236.4L351.2 236.5L351.7 237.1L352.2 237L352.7 236.8L353.2 236.9L353.7 237.1L354.2 237.3L354.7 237.5L355.2 237.2L355.7 237.5L356.2 237.4L356.7 237.5L357.2 237.8L357.7 237.4L358.2 237.8L358.7 237.8L359.2 237.6L359.7 237.5L360.2 237.9L360.7 237.9L361.2 237.7L361.7 237.6L362.2 237.8L362.7 237.9L363.2 237.7L363.7 237.8L364.2 237.6L364.7 237.7L365.2 237.7L365.7 238L366.2 237.7L366.7 237.7L367.2 237.8L367.7 237.7L368.2 237.7L368.7 238L369.2 237.7L369.7 237.9L370.2 237.7L370.7 237.9L371.2 238L371.7 237.8L372.2 237.7L372.7 237.6L373.2 237.8L373.7 237.8L374.2 237.7L374.7 237.8L375.2 237.9L375.7 237.6L376.2 237.9L376.7 238.1L377.2 238L377.7 237.8L378.2 238L378.7 238.1L379.2 238.1L379.7 238.1L380.2 238L380.7 238.1L381.2 238L381.7 237.8L382.2 237.7L382.7 237.8L383.2 237.9L383.7 237.7L384.2 237.8L384.7 237.6L385.2 237.6L385.7 237.7L386.2 238L386.7 237.6L387.2 237.6L387.7 237.8L388.2 238.1L388.7 237.7L389.2 237.6L389.7 237.6L390.2 237.7L390.7 237.6L391.2 237.9L391.7 237.6L392.2 237.7L392.7 237.6L393.2 237.7L393.7 237.6L394.2 237.6L394.7 237.6" fill="none" stroke="#f23c96" stroke-width="1.35" stroke-linejoin="round"/>
<path d="M228.6 258.1L229.1 258.2L229.6 258.3L230.1 258L230.6 258.2L231.1 258.3L231.6 258.3L232.1 257.9L232.6 258.2L233.1 258.1L233.6 258.1L234.1 258.3L234.6 258.1L235.1 258.1L235.6 258.3L236.1 258.1L236.6 258L237.1 258L237.6 258.1L238.1 257.8L238.6 258.1L239.1 258.2L239.6 258L240.1 258.2L240.6 258.3L241.1 258.1L241.6 258.2L242.1 257.9L242.6 257.8L243.1 258.3L243.6 257.9L244.1 257.9L244.6 258.3L245.1 258.2L245.6 257.9L246.1 258L246.6 257.9L247.1 257.9L247.6 257.8L248.1 258.1L248.6 257.9L249.1 258L249.6 257.9L250.1 257.8L250.6 257.8L251.1 258.2L251.6 258.1L252.1 258L252.6 257.8L253.1 257.8L253.6 257.8L254.1 257.8L254.6 257.7L255.1 257.8L255.6 257.7L256.1 257.7L256.6 257.9L257.1 257.7L257.6 257.7L258.1 257.6L258.6 257.6L259.1 257.7L259.6 257.4L260.1 257.3L260.6 257.4L261.1 257.3L261.6 257.4L262.1 257L262.6 257.3L263.1 256.7L263.6 256.7L264.1 256.3L264.6 255.9L265.1 255.8L265.6 255.3L266.1 254.5L266.6 254.2L267.1 253.7L267.6 252.8L268.1 252.3L268.6 252L269.1 251.5L269.6 250.8L270.1 250.2L270.6 249.6L271.1 249L271.6 248.8L272.1 248.2L272.6 247.3L273.1 246.6L273.6 246.4L274.1 246.5L274.6 246.3L275.1 246.4L275.6 246.6L276.1 247.1L276.6 247.3L277.1 247.5L277.6 248.3L278.1 249L278.6 249.8L279.1 250.4L279.6 250.7L280.1 251.4L280.6 252L281.1 252.5L281.6 252.9L282.1 253.2L282.6 253.5L283.1 254L283.6 254.2L284.1 254.5L284.6 254.5L285.1 254.7L285.6 255L286.1 255.3L286.6 255.5L287.1 255.4L287.6 255.6L288.1 256.1L288.6 255.7L289.1 256.3L289.6 256.3L290.1 256.3L290.6 256.6L291.1 256.5L291.6 256.2L292.1 256.8L292.6 256.6L293.1 256.9L293.6 256.9L294.1 256.6L294.6 256.6L295.1 256.6L295.6 257L296.1 257.1L296.6 256.8L297.1 256.8L297.6 257L298.1 257.2L298.6 257.2L299.1 257.3L299.6 257.4L300.1 257.3L300.6 257.4L301.1 257L301.6 257L302.1 257.5L302.6 257.4L303.1 257.2L303.6 257.1L304.1 257.3L304.6 257.3L305.1 257.4L305.6 257.4L306.1 257.3L306.6 257.2L307.1 257.3L307.6 257.3L308.1 257.3L308.6 257.4L309.1 257.3L309.6 257.7L310.1 257.5L310.6 257.5L311.1 257.6L311.6 257.4L312.2 257.3L312.7 257.4L313.2 257.5L313.7 257.5L314.2 257.5L314.7 257.5L315.2 257.8L315.7 257.4L316.2 257.6L316.7 257.6L317.2 257.5L317.7 257.8L318.2 257.5L318.7 257.4L319.2 257.5L319.7 257.9L320.2 257.6L320.7 257.5L321.2 257.9L321.7 257.7L322.2 257.9L322.7 257.5L323.2 257.8L323.7 257.3L324.2 257.4L324.7 257.6L325.2 257.5L325.7 257.6L326.2 257.3L326.7 257.5L327.2 257L327.7 257.3L328.2 257L328.7 256.9L329.2 257.2L329.7 256.9L330.2 257L330.7 256.6L331.2 256.8L331.7 256.8L332.2 256.5L332.7 256.2L333.2 256.4L333.7 256.4L334.2 256.2L334.7 255.9L335.2 255.8L335.7 255.5L336.2 255.8L336.7 255.4L337.2 255.4L337.7 255.2L338.2 255.3L338.7 255.4L339.2 255.4L339.7 255.2L340.2 255.3L340.7 255.5L341.2 255.2L341.7 255.2L342.2 255.5L342.7 255.7L343.2 255.7L343.7 255.6L344.2 255.4L344.7 255.8L345.2 256L345.7 256L346.2 255.9L346.7 255.9L347.2 256L347.7 256.2L348.2 256.4L348.7 256.2L349.2 256.3L349.7 256.3L350.2 256.5L350.7 256.5L351.2 256.5L351.7 256.7L352.2 257L352.7 256.7L353.2 256.8L353.7 256.9L354.2 257.3L354.7 257L355.2 257.4L355.7 257.5L356.2 257.5L356.7 257.5L357.2 257.2L357.7 257.4L358.2 257.6L358.7 257.4L359.2 257.6L359.7 257.7L360.2 257.8L360.7 257.5L361.2 257.4L361.7 257.4L362.2 257.5L362.7 257.6L363.2 257.5L363.7 257.8L364.2 257.7L364.7 257.7L365.2 257.8L365.7 257.6L366.2 257.7L366.7 257.6L367.2 257.6L367.7 257.5L368.2 257.8L368.7 257.9L369.2 257.4L369.7 257.8L370.2 257.5L370.7 257.6L371.2 257.6L371.7 257.9L372.2 257.6L372.7 257.7L373.2 257.6L373.7 257.5L374.2 257.5L374.7 257.4L375.2 257.4L375.7 257.7L376.2 257.8L376.7 257.7L377.2 257.5L377.7 257.9L378.2 257.4L378.7 257.6L379.2 257.6L379.7 257.5L380.2 257.9L380.7 257.7L381.2 257.5L381.7 257.5L382.2 257.8L382.7 257.6L383.2 257.5L383.7 257.5L384.2 257.5L384.7 257.7L385.2 257.5L385.7 257.7L386.2 257.4L386.7 257.6L387.2 257.7L387.7 257.5L388.2 257.8L388.7 257.8L389.2 257.7L389.7 257.6L390.2 257.4L390.7 257.7L391.2 257.5L391.7 257.4L392.2 257.6L392.7 257.5L393.2 257.7L393.7 257.7L394.2 257.4L394.7 257.7" fill="none" stroke="#942890" stroke-width="1.35" stroke-linejoin="round"/>
<path d="M228.6 280.4L229.1 280.4L229.6 280.6L230.1 280.6L230.6 280.6L231.1 280.3L231.6 280.6L232.1 280.3L232.6 280.3L233.1 280.2L233.6 280.4L234.1 280.2L234.6 280.3L235.1 280.4L235.6 280.5L236.1 280.5L236.6 280.1L237.1 280.1L237.6 280.2L238.1 280.4L238.6 280.5L239.1 280.5L239.6 280.6L240.1 280.4L240.6 280.4L241.1 280.2L241.6 280.2L242.1 280.2L242.6 280.3L243.1 280.4L243.6 280.3L244.1 280.3L244.6 280.3L245.1 280.2L245.6 280.5L246.1 280.3L246.6 280.4L247.1 280.4L247.6 280.2L248.1 280.1L248.6 280.2L249.1 280.5L249.6 280.4L250.1 280.2L250.6 280.4L251.1 280.2L251.6 280.4L252.1 280L252.6 280.3L253.1 280.4L253.6 280.1L254.1 280.2L254.6 280L255.1 280L255.6 280L256.1 280L256.6 279.8L257.1 279.9L257.6 279.8L258.1 280L258.6 279.9L259.1 279.7L259.6 280L260.1 279.7L260.6 279.8L261.1 279.9L261.6 279.8L262.1 279.8L262.6 279.5L263.1 279.4L263.6 278.7L264.1 278.8L264.6 278.3L265.1 278L265.6 277.9L266.1 277.5L266.6 276.9L267.1 276.5L267.6 276.1L268.1 276L268.6 275.5L269.1 274.9L269.6 274.6L270.1 274L270.6 273.7L271.1 273.4L271.6 273.2L272.1 272.7L272.6 272.2L273.1 272.1L273.6 271.8L274.1 272.1L274.6 272.3L275.1 272.1L275.6 272.6L276.1 272.8L276.6 272.8L277.1 273.5L277.6 274L278.1 274.1L278.6 274.7L279.1 275.1L279.6 275.6L280.1 275.7L280.6 276.3L281.1 276.6L281.6 276.9L282.1 277.1L282.6 277.4L283.1 277.5L283.6 277.6L284.1 277.8L284.6 277.9L285.1 278.1L285.6 278.2L286.1 278.3L286.6 278.2L287.1 278.4L287.6 278.8L288.1 278.6L288.6 279L289.1 279L289.6 278.8L290.1 278.8L290.6 279.2L291.1 279.2L291.6 279L292.1 279.2L292.6 279.3L293.1 279.2L293.6 279L294.1 279.1L294.6 279.4L295.1 279.4L295.6 279.4L296.1 279.2L296.6 279.6L297.1 279.5L297.6 279.4L298.1 279.6L298.6 279.4L299.1 279.5L299.6 279.5L300.1 279.7L300.6 279.7L301.1 279.4L301.6 279.7L302.1 279.5L302.6 279.8L303.1 279.8L303.6 279.7L304.1 279.4L304.6 279.5L305.1 279.4L305.6 279.6L306.1 279.4L306.6 279.4L307.1 279.4L307.6 279.8L308.1 279.7L308.6 279.8L309.1 279.9L309.6 279.7L310.1 279.8L310.6 279.6L311.1 279.7L311.6 279.5L312.2 279.7L312.7 279.5L313.2 279.7L313.7 279.9L314.2 280L314.7 279.8L315.2 279.5L315.7 280L316.2 279.7L316.7 279.8L317.2 279.7L317.7 279.9L318.2 279.6L318.7 279.5L319.2 279.7L319.7 279.6L320.2 279.6L320.7 279.6L321.2 279.8L321.7 279.8L322.2 279.5L322.7 279.8L323.2 279.4L323.7 279.8L324.2 279.4L324.7 279.5L325.2 279.4L325.7 279.6L326.2 279.4L326.7 279.2L327.2 279.5L327.7 279.3L328.2 279.1L328.7 279.2L329.2 279.2L329.7 279.1L330.2 279L330.7 278.7L331.2 278.6L331.7 278.4L332.2 278.8L332.7 278.3L333.2 278.3L333.7 278.4L334.2 278L334.7 278.3L335.2 278L335.7 277.7L336.2 278L336.7 277.8L337.2 277.5L337.7 277.6L338.2 277.7L338.7 277.5L339.2 277.5L339.7 277.7L340.2 277.3L340.7 277.4L341.2 277.4L341.7 277.6L342.2 277.6L342.7 277.5L343.2 277.5L343.7 277.5L344.2 277.9L344.7 277.8L345.2 278L345.7 277.7L346.2 278.2L346.7 278.1L347.2 278.1L347.7 278.3L348.2 278L348.7 278.3L349.2 278.3L349.7 278.2L350.2 278.6L350.7 278.3L351.2 278.8L351.7 278.6L352.2 279L352.7 278.6L353.2 278.9L353.7 279.2L354.2 279.1L354.7 279.2L355.2 279.2L355.7 279.2L356.2 279.2L356.7 279.2L357.2 279.2L357.7 279.5L358.2 279.3L358.7 279.5L359.2 279.7L359.7 279.7L360.2 279.6L360.7 279.7L361.2 279.6L361.7 279.5L362.2 279.3L362.7 279.3L363.2 279.4L363.7 279.5L364.2 279.5L364.7 279.3L365.2 279.6L365.7 279.5L366.2 279.5L366.7 279.3L367.2 279.7L367.7 279.7L368.2 279.7L368.7 279.4L369.2 279.3L369.7 279.8L370.2 279.6L370.7 279.8L371.2 279.5L371.7 279.7L372.2 279.3L372.7 279.3L373.2 279.6L373.7 279.6L374.2 279.5L374.7 279.5L375.2 279.6L375.7 279.4L376.2 279.3L376.7 279.5L377.2 279.4L377.7 279.7L378.2 279.3L378.7 279.5L379.2 279.4L379.7 279.5L380.2 279.3L380.7 279.3L381.2 279.6L381.7 279.6L382.2 279.6L382.7 279.7L383.2 279.7L383.7 279.5L384.2 279.7L384.7 279.5L385.2 279.6L385.7 279.3L386.2 279.7L386.7 279.5L387.2 279.3L387.7 279.2L388.2 279.4L388.7 279.5L389.2 279.3L389.7 279.4L390.2 279.6L390.7 279.3L391.2 279.2L391.7 279.4L392.2 279.3L392.7 279.5L393.2 279.2L393.7 279.6L394.2 279.6L394.7 279.5" fill="none" stroke="#269a3c" stroke-width="1.35" stroke-linejoin="round"/>
<path d="M228.6 328L229.1 328.1L229.6 328.1L230.1 328.1L230.6 327.9L231.1 328.1L231.6 328L232.1 328.1L232.6 328L233.1 328.1L233.6 327.9L234.1 327.9L234.6 328L235.1 327.9L235.6 328L236.1 327.9L236.6 328L237.1 327.7L237.6 327.9L238.1 327.8L238.6 327.7L239.1 327.9L239.6 327.7L240.1 327.7L240.6 327.7L241.1 327.6L241.6 327.6L242.1 327.6L242.6 327.8L243.1 327.6L243.6 327.6L244.1 327.5L244.6 327.7L245.1 327.6L245.6 327.7L246.1 327.7L246.6 327.5L247.1 327.5L247.6 327.4L248.1 327.4L248.6 327.4L249.1 327.5L249.6 327.3L250.1 327.4L250.6 327.4L251.1 327.3L251.6 327.2L252.1 327.1L252.6 326.9L253.1 326.9L253.6 327L254.1 326.8L254.6 326.8L255.1 326.6L255.6 326.7L256.1 326.5L256.6 326.6L257.1 326.5L257.6 326.1L258.1 326.2L258.6 325.9L259.1 326L259.6 325.6L260.1 325.4L260.6 325.3L261.1 325L261.6 324.4L262.1 324L262.6 323.4L263.1 322.3L263.6 321.6L264.1 320.5L264.6 319.5L265.1 318.4L265.6 317L266.1 315.6L266.6 314.1L267.1 312.5L267.6 310.8L268.1 308.9L268.6 307.2L269.1 305.2L269.6 303.4L270.1 301L270.6 298.9L271.1 296.2L271.6 293.2L272.1 289.6L272.6 286.1L273.1 283.2L273.6 280.9L274.1 278.3L274.6 276.6L275.1 275.1L275.6 274.5L276.1 275.3L276.6 276.6L277.1 278.2L277.6 280.3L278.1 281.9L278.6 284.3L279.1 286.8L279.6 289.8L280.1 292.5L280.6 295.3L281.1 298.2L281.6 300.7L282.1 303.4L282.6 306.1L283.1 308.5L283.6 310.9L284.1 313L284.6 315.1L285.1 317.1L285.6 318.7L286.1 319.5L286.6 320.5L287.1 320.9L287.6 321.5L288.1 321.9L288.6 322.4L289.1 322.6L289.6 322.7L290.1 322.9L290.6 323.2L291.1 323.3L291.6 323.5L292.1 323.6L292.6 323.6L293.1 323.6L293.6 323.8L294.1 323.6L294.6 323.7L295.1 323.8L295.6 323.8L296.1 323.9L296.6 323.9L297.1 323.7L297.6 323.9L298.1 323.8L298.6 323.9L299.1 323.9L299.6 323.8L300.1 324L300.6 323.9L301.1 323.9L301.6 323.9L302.1 323.8L302.6 323.8L303.1 324L303.6 323.8L304.1 323.9L304.6 324L305.1 323.9L305.6 323.9L306.1 324L306.6 324L307.1 323.9L307.6 323.9L308.1 323.8L308.5 324L309 323.8L309.5 323.9L310 323.8L310.5 324L311 323.9L311.5 323.7L312 323.8L312.5 323.6L313 323.6L313.5 323.5L314 323.5L314.5 323.4L315 323.1L315.5 323L316 323L316.5 322.9L317 322.7L317.5 322.6L318 322.3L318.5 322.2L319 322.2L319.5 322L320 321.7L320.5 321.6L321 321.5L321.5 321.3L322 321.2L322.5 321.2L323 320.7L323.5 320.6L324 320.3L324.5 320.1L325 320.1L325.5 319.6L326 319.3L326.5 319.1L327 318.7L327.5 318.4L328 317.9L328.5 317.6L329 317.1L329.5 317L330 316.4L330.5 316.1L331 315.6L331.5 315.2L332 314.9L332.5 314.7L333 314.2L333.5 313.9L334 313.8L334.5 313.3L335 312.9L335.5 312.8L336 312.4L336.5 312.2L337 312L337.5 311.8L338 311.5L338.5 311.5L339 311.3L339.5 311.3L340 311.3L340.5 311.2L341 311.5L341.5 311.6L342 311.6L342.5 311.8L343 312.2L343.5 312.4L344 312.4L344.5 312.7L345 313.2L345.5 313.3L346 313.7L346.5 314L347 314.5L347.5 314.9L348 315.2L348.5 315.5L349 316.1L349.5 316.3L350 316.7L350.5 317L351 317.6L351.5 317.8L352 318.2L352.5 318.4L353 319L353.5 319.2L354 319.7L354.5 319.8L355 320.2L355.5 320.5L356 320.7L356.5 321L357 321.3L357.5 321.4L358 321.4L358.5 321.9L359 321.9L359.5 322.1L360 322.2L360.5 322.2L361 322.4L361.5 322.5L362 322.6L362.5 322.9L363 322.8L363.5 322.9L364 323.1L364.5 323.1L365 323.3L365.5 323.2L366 323.4L366.5 323.4L367 323.4L367.5 323.6L368 323.7L368.5 323.7L369 323.7L369.5 323.8L370 323.7L370.5 323.7L371 323.9L371.5 324L372 323.9L372.5 324L373 324.1L373.5 324.1L374 324.1L374.5 324.2L375 324.2L375.5 324.2L376 324.3L376.5 324.3L377 324.4L377.5 324.4L378 324.4L378.5 324.3L379 324.5L379.5 324.4L380 324.5L380.5 324.3L381 324.4L381.5 324.4L382 324.5L382.5 324.4L383 324.4L383.5 324.3L384 324.4L384.5 324.3L385 324.1L385.5 324.3L386 324L386.5 324L387 324L387.5 324L388 323.9" fill="none" stroke="#151515" stroke-width="1.35" stroke-linejoin="round"/>
<rect x="17.45" y="378.50" width="162.75" height="144.20" fill="none" stroke="#222" stroke-width="1.1"/>
<line x1="17.60" y1="522.70" x2="17.60" y2="524.30" stroke="#1a1a1a" stroke-width="0.9"/>
<line x1="71.90" y1="522.70" x2="71.90" y2="524.30" stroke="#1a1a1a" stroke-width="0.9"/>
<line x1="126.20" y1="522.70" x2="126.20" y2="524.30" stroke="#1a1a1a" stroke-width="0.9"/>
<line x1="180.50" y1="522.70" x2="180.50" y2="524.30" stroke="#1a1a1a" stroke-width="0.9"/>
<line x1="44.75" y1="522.70" x2="44.75" y2="523.98" stroke="#1a1a1a" stroke-width="0.8"/>
<line x1="99.05" y1="522.70" x2="99.05" y2="523.98" stroke="#1a1a1a" stroke-width="0.8"/>
<line x1="153.35" y1="522.70" x2="153.35" y2="523.98" stroke="#1a1a1a" stroke-width="0.8"/>
<line x1="74.50" y1="379.00" x2="74.50" y2="460.00" stroke="#333" stroke-width="1.0" stroke-dasharray="1 1"/>
<line x1="93.50" y1="379.00" x2="93.50" y2="522.00" stroke="#333" stroke-width="1.0" stroke-dasharray="1 1"/>
<path d="M17.4 401.2L17.9 401.1L18.4 401.1L18.9 401.5L19.4 401.3L19.9 401.4L20.4 401.3L20.9 401.2L21.4 401.4L21.9 401.3L22.4 401.4L22.9 401.3L23.4 401.4L23.9 401.2L24.4 401L24.9 401L25.4 401.4L25.9 401L26.4 401.3L26.9 401.3L27.4 400.9L27.9 401.4L28.4 400.9L28.9 401.4L29.4 401.4L29.9 401L30.4 401.3L30.9 401.3L31.4 400.9L31.9 401.3L32.4 400.9L32.9 401.4L33.4 401.3L33.9 401.4L34.4 400.9L34.9 401L35.4 401.2L35.9 401.2L36.4 400.9L36.9 401.3L37.4 401.3L37.9 401L38.4 400.9L38.9 401.2L39.4 401L39.9 401.2L40.4 401.1L40.9 401L41.4 400.8L41.9 400.9L42.4 401L42.9 401.2L43.4 401L43.9 401.2L44.4 401.1L44.9 401.3L45.4 401.1L45.9 400.9L46.4 400.8L46.9 400.8L47.4 400.7L47.9 401.2L48.4 401.2L48.9 401.2L49.4 400.8L49.9 401.1L50.4 400.8L50.9 401.2L51.4 401.1L51.9 401.1L52.4 401L52.9 400.9L53.4 401.1L53.9 401.2L54.4 400.7L54.9 400.8L55.4 400.9L55.9 400.9L56.4 400.7L56.9 400.7L57.4 400.9L57.9 400.5L58.4 400.4L58.9 400.6L59.4 400.3L59.9 400.5L60.4 400L60.9 400.2L61.4 399.7L61.9 399.8L62.4 399.5L62.9 399.2L63.4 398.6L63.9 398.1L64.4 397.6L64.9 397.1L65.4 396.9L65.9 395.9L66.4 395.4L66.9 395L67.4 394.1L67.9 393.4L68.4 392.6L68.9 392.1L69.4 390.9L69.9 390.5L70.4 389.3L70.9 388.3L71.4 387.1L71.9 386.1L72.4 385.5L72.9 384.7L73.4 383.9L73.9 382.7L74.4 382.4L74.9 382.3L75.4 382L75.9 382.2L76.4 382.8L76.9 383.1L77.4 383.9L77.9 384.5L78.4 384.7L78.9 385.6L79.4 386.3L79.9 386.8L80.4 387.5L80.9 388.2L81.4 388.7L81.9 388.9L82.4 389.3L82.8 390.2L83.3 390.5L83.8 390.9L84.3 391.2L84.8 391L85.3 391.3L85.8 391.3L86.3 391.7L86.8 391.7L87.3 391.6L87.8 391.8L88.3 392L88.8 391.8L89.3 391.9L89.8 392.2L90.3 392.1L90.8 392.5L91.3 392.9L91.8 393L92.3 392.7L92.8 393.3L93.3 393.4L93.8 393.5L94.3 393.2L94.8 393.8L95.3 393.5L95.8 394L96.3 393.8L96.8 393.9L97.3 393.9L97.8 394.4L98.3 394.1L98.8 394.7L99.3 394.6L99.8 394.5L100.3 394.9L100.8 395L101.3 394.9L101.8 395.6L102.3 395.4L102.8 395.5L103.3 396.1L103.8 396.3L104.3 396.3L104.8 396.4L105.3 396.8L105.8 397L106.3 397.2L106.8 397.2L107.3 397.4L107.8 397.7L108.3 397.5L108.8 397.6L109.3 397.9L109.8 398.2L110.3 398.4L110.8 398.6L111.3 398.4L111.8 398.7L112.3 398.4L112.8 398.7L113.3 398.6L113.8 399.1L114.3 399.3L114.8 399.1L115.3 399.2L115.8 399L116.3 399.4L116.8 399L117.3 399.2L117.8 399.2L118.3 399.6L118.8 399.2L119.3 399.2L119.8 399.2L120.3 399.7L120.8 399.4L121.3 399.8L121.8 399.5L122.3 399.8L122.8 399.5L123.3 399.9L123.8 400L124.3 400L124.8 399.9L125.3 400L125.8 400.1L126.3 400.1L126.8 399.7L127.3 400.1L127.8 400.1L128.3 399.8L128.8 399.8L129.3 400.2L129.8 400L130.3 400L130.8 400.3L131.3 400L131.8 399.9L132.3 400.2L132.8 400.1L133.3 400L133.8 400.2L134.3 400.4L134.8 400L135.3 400.3L135.8 400.3L136.3 400.2L136.8 400L137.3 400.3L137.8 400L138.3 400L138.8 400.4L139.3 400.1L139.8 400L140.3 400.4L140.8 400.5L141.3 400.1L141.8 400.2L142.3 400.2L142.8 400.4L143.3 399.9L143.8 400.3L144.3 400.1L144.8 400.5L145.3 400.2L145.8 400.5L146.3 400.2L146.8 400.3L147.3 400L147.7 400.1L148.2 400.1L148.7 400.2L149.2 400.1L149.7 400.2L150.2 400L150.7 400.3L151.2 400.6L151.7 400.5L152.2 400.4L152.7 400.6L153.2 400.4L153.7 400.4L154.2 400.3L154.7 400.1L155.2 400.5L155.7 400.5L156.2 400.5L156.7 400.4L157.2 400.5L157.7 400.6L158.2 400.6L158.7 400.5L159.2 400L159.7 400.6L160.2 400.4L160.7 400.3L161.2 400.3L161.7 400.2L162.2 400L162.7 400.4L163.2 400.4L163.7 400.1L164.2 400.6L164.7 400.6L165.2 400.5L165.7 400.4L166.2 400.3L166.7 400.3L167.2 400.3L167.7 400.6L168.2 400.6L168.7 400.6L169.2 400.3L169.7 400.3L170.2 400.4L170.7 400.2L171.2 400.1L171.7 400.6L172.2 400.2L172.7 400.2L173.2 400.3L173.7 400.1L174.2 400.3L174.7 400.1L175.2 400.5L175.7 400.1L176.2 400.5L176.7 400.2L177.2 400.5L177.7 400.5L178.2 400.6L178.7 400.1L179.2 400.6L179.7 400.1L180.2 400.2" fill="none" stroke="#8c28dc" stroke-width="1.35" stroke-linejoin="round"/>
<path d="M17.4 422.4L17.9 422L18.4 422.2L18.9 422.1L19.4 422.4L19.9 422.4L20.4 422.5L20.9 422L21.4 422.2L21.9 422L22.4 422.1L22.9 422.3L23.4 422L23.9 422.1L24.4 422.3L24.9 422.3L25.4 422.1L25.9 422.3L26.4 422.4L26.9 421.9L27.4 422.4L27.9 422.3L28.4 422.1L28.9 422L29.4 422.5L29.9 422.1L30.4 421.9L30.9 421.9L31.4 422.4L31.9 422.2L32.4 422.3L32.9 422.3L33.4 422.2L33.9 422.4L34.4 422.1L34.9 422.2L35.4 422.3L35.9 422.2L36.4 422.3L36.9 422.2L37.4 422.2L37.9 421.8L38.4 421.9L38.9 422L39.4 421.8L39.9 421.9L40.4 421.8L40.9 421.9L41.4 422.2L41.9 422L42.4 422L42.9 421.9L43.4 421.9L43.9 422.3L44.4 422.1L44.9 422.1L45.4 421.8L45.9 422.2L46.4 421.8L46.9 422L47.4 422.3L47.9 422.1L48.4 422L48.9 422.1L49.4 422.2L49.9 422.2L50.4 421.8L50.9 421.7L51.4 421.9L51.9 421.8L52.4 421.8L52.9 422.2L53.4 422.2L53.9 421.8L54.4 422L54.9 421.8L55.4 422.1L55.9 421.8L56.4 421.7L56.9 421.6L57.4 421.8L57.9 421.6L58.4 421.7L58.9 421.9L59.4 421.5L59.9 421.3L60.4 421.7L60.9 421.3L61.4 420.9L61.9 420.8L62.4 420.6L62.9 420.8L63.4 420.7L63.9 420.2L64.4 419.7L64.9 419.5L65.4 419.5L65.9 418.9L66.4 418.7L66.9 418.3L67.4 417.3L67.9 417.3L68.4 416.8L68.9 416.1L69.4 415.4L69.9 415.1L70.4 414.1L70.9 413.6L71.4 412.9L71.9 412.6L72.4 412L72.9 411.1L73.4 410.8L73.9 410.1L74.4 410.2L74.9 409.9L75.4 409.5L75.9 409.9L76.4 410.2L76.9 410.3L77.4 411L77.9 411.2L78.4 411.8L78.9 412.1L79.4 412.1L79.9 412.7L80.4 412.9L80.9 413.8L81.4 414.1L81.9 414.4L82.4 414.4L82.8 414.6L83.3 415.4L83.8 415.6L84.3 415.2L84.8 415.6L85.3 415.4L85.8 415.9L86.3 416L86.8 415.7L87.3 416L87.8 416.1L88.3 415.9L88.8 416.4L89.3 416.2L89.8 416.1L90.3 416.4L90.8 416.6L91.3 416.4L91.8 416.6L92.3 417.1L92.8 417L93.3 416.9L93.8 417L94.3 416.9L94.8 417L95.3 417.2L95.8 417.4L96.3 417.2L96.8 417.3L97.3 417.3L97.8 417.7L98.3 417.5L98.8 418L99.3 418L99.8 417.6L100.3 417.8L100.8 418.2L101.3 418L101.8 418.1L102.3 418.7L102.8 418.6L103.3 418.7L103.8 419L104.3 419.2L104.8 418.9L105.3 419L105.8 419.3L106.3 419.4L106.8 419.5L107.3 419.8L107.8 419.8L108.3 420.1L108.8 419.7L109.3 419.9L109.8 420L110.3 420.4L110.8 420.1L111.3 420.1L111.8 420.4L112.3 420.4L112.8 420.4L113.3 420.4L113.8 420.9L114.3 420.6L114.8 420.9L115.3 420.7L115.8 420.5L116.3 421.1L116.8 421L117.3 421.1L117.8 421.1L118.3 421.1L118.8 420.7L119.3 420.9L119.8 420.8L120.3 420.9L120.8 420.7L121.3 420.9L121.8 421.3L122.3 420.9L122.8 421.3L123.3 421.1L123.8 421.1L124.3 421.4L124.8 421.5L125.3 421.2L125.8 421.3L126.3 421L126.8 421.1L127.3 421.5L127.8 421.3L128.3 421.3L128.8 421.4L129.3 421L129.8 421.4L130.3 421.3L130.8 421.5L131.3 421.1L131.8 421.6L132.3 421.1L132.8 421.2L133.3 421.4L133.8 421.5L134.3 421.2L134.8 421.2L135.3 421.6L135.8 421.3L136.3 421.5L136.8 421.5L137.3 421.4L137.8 421.5L138.3 421.4L138.8 421.7L139.3 421.3L139.8 421.6L140.3 421.3L140.8 421.4L141.3 421.5L141.8 421.3L142.3 421.3L142.8 421.6L143.3 421.2L143.8 421.4L144.3 421.8L144.8 421.8L145.3 421.2L145.8 421.3L146.3 421.3L146.8 421.7L147.3 421.7L147.7 421.7L148.2 421.4L148.7 421.3L149.2 421.7L149.7 421.6L150.2 421.6L150.7 421.8L151.2 421.6L151.7 421.2L152.2 421.7L152.7 421.4L153.2 421.6L153.7 421.8L154.2 421.3L154.7 421.3L155.2 421.3L155.7 421.5L156.2 421.4L156.7 421.6L157.2 421.6L157.7 421.3L158.2 421.6L158.7 421.4L159.2 421.5L159.7 421.8L160.2 421.7L160.7 421.3L161.2 421.5L161.7 421.4L162.2 421.2L162.7 421.7L163.2 421.6L163.7 421.4L164.2 421.7L164.7 421.6L165.2 421.5L165.7 421.2L166.2 421.3L166.7 421.8L167.2 421.8L167.7 421.5L168.2 421.7L168.7 421.6L169.2 421.3L169.7 421.3L170.2 421.4L170.7 421.8L171.2 421.7L171.7 421.7L172.2 421.8L172.7 421.3L173.2 421.4L173.7 421.3L174.2 421.7L174.7 421.7L175.2 421.5L175.7 421.6L176.2 421.3L176.7 421.8L177.2 421.7L177.7 421.8L178.2 421.7L178.7 421.7L179.2 421.2L179.7 421.6L180.2 421.4" fill="none" stroke="#f23c96" stroke-width="1.35" stroke-linejoin="round"/>
<path d="M17.4 441.7L17.9 442.1L18.4 441.8L18.9 442L19.4 442.1L19.9 442.2L20.4 441.9L20.9 442L21.4 441.7L21.9 441.9L22.4 441.9L22.9 442.2L23.4 442L23.9 442.1L24.4 441.9L24.9 441.7L25.4 442.1L25.9 442.1L26.4 441.8L26.9 441.7L27.4 441.9L27.9 441.9L28.4 442.1L28.9 442L29.4 441.9L29.9 441.9L30.4 441.8L30.9 441.6L31.4 441.6L31.9 442.1L32.4 442.1L32.9 441.7L33.4 442.1L33.9 441.9L34.4 441.6L34.9 442L35.4 441.9L35.9 442.1L36.4 441.9L36.9 441.6L37.4 441.9L37.9 442L38.4 442L38.9 441.7L39.4 441.8L39.9 441.9L40.4 441.6L40.9 442L41.4 441.9L41.9 441.5L42.4 441.8L42.9 441.7L43.4 441.6L43.9 441.8L44.4 442L44.9 441.8L45.4 441.5L45.9 441.7L46.4 441.9L46.9 442L47.4 441.8L47.9 441.4L48.4 442L48.9 441.8L49.4 441.4L49.9 441.5L50.4 441.4L50.9 441.8L51.4 441.5L51.9 441.8L52.4 441.4L52.9 441.7L53.4 441.6L53.9 441.3L54.4 441.3L54.9 441.8L55.4 441.8L55.9 441.3L56.4 441.6L56.9 441.7L57.4 441.7L57.9 441.6L58.4 441.2L58.9 441.4L59.4 441.2L59.9 441.4L60.4 441.1L60.9 441.1L61.4 440.9L61.9 440.5L62.4 440.5L62.9 439.9L63.4 439.8L63.9 439.9L64.4 439.2L64.9 439L65.4 438.5L65.9 437.9L66.4 437.7L66.9 437.4L67.4 436.5L67.9 436L68.4 435.4L68.9 434.8L69.4 434.5L69.9 433.8L70.4 433.2L70.9 432.3L71.4 431.7L71.9 430.6L72.4 430L72.9 429.4L73.4 429L73.9 428.8L74.4 428L74.9 428L75.4 427.8L75.9 428L76.4 428.7L76.9 429.1L77.4 429.4L77.9 430.1L78.4 430.5L78.9 431L79.4 431.2L79.9 431.4L80.4 431.7L80.9 432.4L81.4 432.4L81.9 432.7L82.4 433.4L82.8 433.3L83.3 433.9L83.8 433.8L84.3 434L84.8 433.8L85.3 434.1L85.8 434.1L86.3 434.1L86.8 434.1L87.3 434.4L87.8 434.4L88.3 434.2L88.8 434.1L89.3 434.3L89.8 434.6L90.3 434.4L90.8 434.7L91.3 434.5L91.8 435L92.3 434.7L92.8 434.9L93.3 435.3L93.8 435.2L94.3 435.4L94.8 435.3L95.3 435.6L95.8 435.5L96.3 435.7L96.8 435.8L97.3 436.1L97.8 436.2L98.3 436.2L98.8 436.5L99.3 436.5L99.8 436.7L100.3 436.7L100.8 436.9L101.3 436.8L101.8 437.4L102.3 437.5L102.8 437.7L103.3 437.8L103.8 437.6L104.3 437.8L104.8 438.5L105.3 438.5L105.8 438.8L106.3 438.9L106.8 438.7L107.3 439.2L107.8 439.1L108.3 439.3L108.8 439.3L109.3 439.3L109.8 439.5L110.3 439.6L110.8 439.6L111.3 439.7L111.8 439.8L112.3 439.8L112.8 439.8L113.3 440.2L113.8 440L114.3 440.1L114.8 440.4L115.3 440.3L115.8 440.2L116.3 440.2L116.8 440.5L117.3 440.2L117.8 440.4L118.3 440.3L118.8 440.7L119.3 440.3L119.8 440.5L120.3 440.5L120.8 440.3L121.3 440.4L121.8 440.8L122.3 440.8L122.8 440.4L123.3 440.4L123.8 440.9L124.3 440.7L124.8 440.8L125.3 441L125.8 440.6L126.3 440.8L126.8 441L127.3 440.6L127.8 440.7L128.3 441.1L128.8 441L129.3 440.9L129.8 440.6L130.3 441.1L130.8 440.8L131.3 441.1L131.8 440.8L132.3 440.7L132.8 441L133.3 440.9L133.8 440.9L134.3 440.9L134.8 440.9L135.3 440.9L135.8 441L136.3 440.7L136.8 441.1L137.3 441L137.8 441.2L138.3 440.8L138.8 441.1L139.3 440.8L139.8 441.1L140.3 441.1L140.8 441L141.3 441L141.8 441.3L142.3 440.9L142.8 440.7L143.3 440.9L143.8 440.7L144.3 441.2L144.8 441.2L145.3 440.8L145.8 441.1L146.3 440.8L146.8 441.2L147.3 441L147.7 440.8L148.2 441.1L148.7 440.8L149.2 441.3L149.7 441.3L150.2 441.1L150.7 440.9L151.2 441.2L151.7 440.8L152.2 440.8L152.7 440.9L153.2 440.8L153.7 441.3L154.2 441.1L154.7 441.2L155.2 441.1L155.7 440.9L156.2 440.9L156.7 441.1L157.2 441.2L157.7 441.1L158.2 440.9L158.7 441.2L159.2 441L159.7 441.1L160.2 441.3L160.7 441.1L161.2 441L161.7 441.1L162.2 440.9L162.7 441L163.2 441.2L163.7 441L164.2 440.8L164.7 441.2L165.2 440.8L165.7 440.8L166.2 441.1L166.7 441.2L167.2 440.8L167.7 441L168.2 441L168.7 440.8L169.2 441.1L169.7 440.9L170.2 441.2L170.7 441L171.2 441L171.7 440.9L172.2 441.2L172.7 440.7L173.2 440.9L173.7 440.8L174.2 440.8L174.7 440.7L175.2 441L175.7 440.8L176.2 440.8L176.7 441L177.2 441.1L177.7 440.8L178.2 441.1L178.7 441L179.2 441.3L179.7 441.2L180.2 441.3" fill="none" stroke="#942890" stroke-width="1.35" stroke-linejoin="round"/>
<path d="M17.4 461.5L17.9 461.6L18.4 461.8L18.9 461.4L19.4 461.4L19.9 461.3L20.4 461.3L20.9 461.3L21.4 461.4L21.9 461.6L22.4 461.8L22.9 461.7L23.4 461.5L23.9 461.5L24.4 461.6L24.9 461.4L25.4 461.3L25.9 461.7L26.4 461.6L26.9 461.3L27.4 461.2L27.9 461.3L28.4 461.8L28.9 461.3L29.4 461.6L29.9 461.8L30.4 461.2L30.9 461.4L31.4 461.5L31.9 461.7L32.4 461.3L32.9 461.3L33.4 461.3L33.9 461.2L34.4 461.5L34.9 461.6L35.4 461.4L35.9 461.1L36.4 461.5L36.9 461.6L37.4 461.5L37.9 461.3L38.4 461.6L38.9 461.5L39.4 461.4L39.9 461.4L40.4 461.2L40.9 461.4L41.4 461.6L41.9 461.5L42.4 461.3L42.9 461.6L43.4 461.6L43.9 461.1L44.4 461.1L44.9 461.2L45.4 461L45.9 461.5L46.4 461.4L46.9 461.3L47.4 461.6L47.9 461.2L48.4 461.1L48.9 461.1L49.4 461.2L49.9 461.5L50.4 461.4L50.9 461L51.4 461.2L51.9 461L52.4 461.3L52.9 461L53.4 461L53.9 461.3L54.4 461.4L54.9 461.2L55.4 461L55.9 461.2L56.4 461L56.9 460.8L57.4 460.9L57.9 461.1L58.4 461L58.9 460.7L59.4 461L59.9 460.9L60.4 460.5L60.9 460.8L61.4 460.2L61.9 460L62.4 460.1L62.9 460.1L63.4 459.7L63.9 459.4L64.4 459.1L64.9 458.6L65.4 458.4L65.9 458.1L66.4 457.8L66.9 457.7L67.4 456.8L67.9 456.5L68.4 456.5L68.9 455.8L69.4 455L69.9 454.6L70.4 454.2L70.9 453.9L71.4 452.9L71.9 453L72.4 452.5L72.9 451.9L73.4 451.7L73.9 451.7L74.4 451.3L74.9 451.7L75.4 451.8L75.9 451.8L76.4 452.2L76.9 452.5L77.4 452.7L77.9 453.5L78.4 453.3L78.9 453.6L79.4 454.1L79.9 454.3L80.4 454.4L80.9 454.6L81.4 454.9L81.9 455.4L82.4 455L82.8 455.6L83.3 455.7L83.8 455.6L84.3 455.6L84.8 455.4L85.3 455.7L85.8 455.6L86.3 455.5L86.8 455.3L87.3 455.2L87.8 455.4L88.3 455.5L88.8 455L89.3 455.2L89.8 455.4L90.3 455.2L90.8 455.2L91.3 455.3L91.8 455.2L92.3 455.3L92.8 455.5L93.3 455.7L93.8 455.8L94.3 455.7L94.8 455.7L95.3 456.2L95.8 456.1L96.3 456.2L96.8 456.4L97.3 456.2L97.8 456.5L98.3 456.5L98.8 456.8L99.3 457.1L99.8 456.7L100.3 457.3L100.8 457.1L101.3 457.2L101.8 457.4L102.3 457.9L102.8 458.2L103.3 458.4L103.8 458.1L104.3 458.4L104.8 458.8L105.3 458.9L105.8 459L106.3 458.8L106.8 458.9L107.3 458.9L107.8 459.1L108.3 459.3L108.8 459.6L109.3 459.6L109.8 459.4L110.3 459.4L110.8 459.7L111.3 460L111.8 459.8L112.3 460L112.8 460L113.3 460.2L113.8 460L114.3 459.9L114.8 460L115.3 460.2L115.8 459.9L116.3 459.9L116.8 460.3L117.3 460.1L117.8 460.2L118.3 460L118.8 459.9L119.3 460L119.8 460.2L120.3 459.9L120.8 460.1L121.3 460.5L121.8 460.2L122.3 460L122.8 460.5L123.3 460.2L123.8 460.1L124.3 460.4L124.8 460.4L125.3 460.2L125.8 460.5L126.3 460.6L126.8 460.3L127.3 460.4L127.8 460.1L128.3 460.5L128.8 460.3L129.3 460.5L129.8 460.6L130.3 460.3L130.8 460.5L131.3 460.7L131.8 460.2L132.3 460.6L132.8 460.4L133.3 460.7L133.8 460.2L134.3 460.4L134.8 460.3L135.3 460.3L135.8 460.7L136.3 460.5L136.8 460.4L137.3 460.7L137.8 460.2L138.3 460.2L138.8 460.6L139.3 460.5L139.8 460.7L140.3 460.5L140.8 460.7L141.3 460.4L141.8 460.3L142.3 460.7L142.8 460.5L143.3 460.2L143.8 460.2L144.3 460.2L144.8 460.6L145.3 460.5L145.8 460.2L146.3 460.6L146.8 460.6L147.3 460.5L147.7 460.5L148.2 460.4L148.7 460.6L149.2 460.4L149.7 460.7L150.2 460.5L150.7 460.5L151.2 460.7L151.7 460.7L152.2 460.5L152.7 460.2L153.2 460.5L153.7 460.7L154.2 460.3L154.7 460.3L155.2 460.3L155.7 460.3L156.2 460.6L156.7 460.4L157.2 460.2L157.7 460.4L158.2 460.5L158.7 460.1L159.2 460.2L159.7 460.1L160.2 460.5L160.7 460.4L161.2 460.1L161.7 460.3L162.2 460.2L162.7 460.4L163.2 460.4L163.7 460.4L164.2 460.3L164.7 460.1L165.2 460.3L165.7 460.5L166.2 460.4L166.7 460.4L167.2 460.2L167.7 460.1L168.2 460.5L168.7 460.5L169.2 460.5L169.7 460.6L170.2 460.3L170.7 460.5L171.2 460.2L171.7 460.4L172.2 460.6L172.7 460.3L173.2 460.4L173.7 460.6L174.2 460.3L174.7 460.2L175.2 460.6L175.7 460.4L176.2 460.2L176.7 460.2L177.2 460L177.7 460.1L178.2 460.6L178.7 460.3L179.2 460.5L179.7 460.1L180.2 460.5" fill="none" stroke="#269a3c" stroke-width="1.35" stroke-linejoin="round"/>
<path d="M17.4 514.3L17.9 514.4L18.4 514.2L18.9 514.3L19.4 514.2L19.9 514.2L20.4 514.3L20.9 514.2L21.4 514.3L21.9 514.5L22.4 514.2L22.9 514.5L23.4 514.2L23.9 514.5L24.4 514.5L24.9 514.2L25.4 514.6L25.9 514.5L26.4 514.2L26.9 514.3L27.4 514.5L27.9 514.6L28.4 514.2L28.9 514.2L29.4 514.5L29.9 514.6L30.4 514.2L30.9 514.2L31.4 514.5L31.9 514.3L32.4 514.3L32.9 514.5L33.4 514.5L33.9 514.4L34.4 514.5L34.9 514.4L35.4 514.5L35.9 514.4L36.4 514.4L36.9 514.1L37.4 514.5L37.9 514.5L38.4 514.2L38.9 514.4L39.4 514.1L39.9 514.3L40.4 514.4L40.9 514.2L41.4 514.2L41.9 514.5L42.4 514.1L42.9 514.3L43.4 514.1L43.9 514.2L44.4 514.5L44.9 514.3L45.4 514L45.9 514.4L46.4 514.3L46.9 514.3L47.4 514.1L47.9 514.1L48.4 514.1L48.9 514.3L49.4 514L49.9 514.4L50.4 514L50.9 514.3L51.4 514.2L51.9 514.1L52.4 514.1L52.9 514.1L53.4 514.1L53.9 514.4L54.4 514.2L54.9 514.1L55.4 514.2L55.9 514L56.4 513.8L56.9 513.6L57.4 513.9L57.9 513.7L58.4 513.1L58.9 513.2L59.4 513.1L59.9 512.9L60.4 512.2L60.9 511.9L61.4 511.6L61.9 511.3L62.4 510.5L62.9 510.2L63.4 509.6L63.9 508.8L64.4 508.3L64.9 507.3L65.4 506.6L65.9 505.4L66.4 504.3L66.9 503.1L67.4 501.8L67.9 500L68.4 497.5L68.9 495.5L69.4 493.1L69.9 490.3L70.4 486.9L70.9 483.6L71.4 480.6L71.9 476.9L72.4 473.9L72.9 470.4L73.4 467.9L73.9 465.6L74.4 463.6L74.9 462.3L75.4 461.3L75.9 460.4L76.4 460.3L76.9 460.6L77.4 461.4L77.9 462.3L78.4 464.3L78.9 466.3L79.4 468.8L79.9 471.4L80.4 474.7L80.9 477.3L81.4 479.8L81.9 482L82.4 484L82.8 485.7L83.3 487.3L83.8 488.5L84.3 489.5L84.8 490.7L85.3 491.6L85.8 492L86.3 492.7L86.8 492.9L87.3 492.9L87.8 493.3L88.3 493L88.8 493.2L89.3 493.5L89.8 493.3L90.3 493.7L90.8 493.8L91.3 493.9L91.8 494.2L92.3 494.7L92.8 495.2L93.3 495.8L93.8 496.6L94.3 497.1L94.8 497.8L95.3 498.3L95.8 499.3L96.3 500L96.8 500.6L97.3 501.3L97.8 502L98.3 502.5L98.8 503.2L99.3 503.6L99.8 503.9L100.3 504.7L100.8 505.1L101.3 505.6L101.8 505.9L102.3 506.6L102.8 506.9L103.3 507.4L103.8 507.9L104.3 508L104.8 508.1L105.3 508.4L105.8 508.9L106.3 509.3L106.8 509.1L107.3 509.5L107.8 509.7L108.3 510L108.8 510.3L109.3 510.4L109.8 510.5L110.3 511L110.8 511.2L111.3 511.4L111.8 511.2L112.3 511.5L112.8 511.5L113.3 511.5L113.8 512L114.3 511.9L114.8 511.9L115.3 512.1L115.8 512.2L116.3 512L116.8 511.9L117.3 512.3L117.8 512.2L118.3 512.2L118.8 512.1L119.3 512.3L119.8 512.5L120.3 512.5L120.8 512.1L121.3 512.1L121.8 512.6L122.3 512.4L122.8 512.4L123.3 512.5L123.8 512.4L124.3 512.4L124.8 512.6L125.3 512.5L125.8 512.2L126.3 512.2L126.8 512.6L127.3 512.5L127.8 512.6L128.3 512.5L128.8 512.6L129.3 512.4L129.8 512.5L130.3 512.4L130.8 512.4L131.3 512.8L131.8 512.7L132.3 512.6L132.8 512.3L133.3 512.8L133.8 512.7L134.3 512.6L134.8 512.8L135.3 512.7L135.8 512.6L136.3 512.5L136.8 512.7L137.3 512.6L137.8 512.4L138.3 512.4L138.8 512.4L139.3 512.7L139.8 512.5L140.3 512.8L140.8 512.8L141.3 512.5L141.8 512.4L142.3 512.8L142.8 512.8L143.3 512.5L143.8 512.7L144.3 512.8L144.8 512.6L145.3 512.6L145.8 512.7L146.3 512.8L146.8 512.7L147.3 512.8L147.7 512.4L148.2 512.4L148.7 512.4L149.2 512.8L149.7 512.5L150.2 512.4L150.7 512.4L151.2 512.4L151.7 512.6L152.2 512.7L152.7 512.5L153.2 512.4L153.7 512.4L154.2 512.7L154.7 512.3L155.2 512.5L155.7 512.6L156.2 512.5L156.7 512.8L157.2 512.8L157.7 512.6L158.2 512.6L158.7 512.5L159.2 512.7L159.7 512.4L160.2 512.4L160.7 512.7L161.2 512.6L161.7 512.6L162.2 512.7L162.7 512.7L163.2 512.4L163.7 512.6L164.2 512.8L164.7 512.5L165.2 512.8L165.7 512.4L166.2 512.5L166.7 512.4L167.2 512.5L167.7 512.4L168.2 512.6L168.7 512.7L169.2 512.7L169.7 512.4L170.2 512.8L170.7 512.6L171.2 512.4L171.7 512.6L172.2 512.6L172.7 512.5L173.2 512.4L173.7 512.3L174.2 512.4L174.7 512.7L175.2 512.5L175.7 512.6L176.2 512.5L176.7 512.4L177.2 512.5L177.7 512.4L178.2 512.5L178.7 512.4L179.2 512.3L179.7 512.7L180.2 512.4" fill="none" stroke="#151515" stroke-width="1.35" stroke-linejoin="round"/>
<rect x="229.45" y="377.50" width="170.05" height="143.80" fill="none" stroke="#222" stroke-width="1.1"/>
<line x1="229.90" y1="521.30" x2="229.90" y2="522.90" stroke="#1a1a1a" stroke-width="0.9"/>
<line x1="258.04" y1="521.30" x2="258.04" y2="522.90" stroke="#1a1a1a" stroke-width="0.9"/>
<line x1="286.17" y1="521.30" x2="286.17" y2="522.90" stroke="#1a1a1a" stroke-width="0.9"/>
<line x1="314.30" y1="521.30" x2="314.30" y2="522.90" stroke="#1a1a1a" stroke-width="0.9"/>
<line x1="342.44" y1="521.30" x2="342.44" y2="522.90" stroke="#1a1a1a" stroke-width="0.9"/>
<line x1="370.58" y1="521.30" x2="370.58" y2="522.90" stroke="#1a1a1a" stroke-width="0.9"/>
<line x1="398.71" y1="521.30" x2="398.71" y2="522.90" stroke="#1a1a1a" stroke-width="0.9"/>
<line x1="243.97" y1="521.30" x2="243.97" y2="522.58" stroke="#1a1a1a" stroke-width="0.8"/>
<line x1="272.10" y1="521.30" x2="272.10" y2="522.58" stroke="#1a1a1a" stroke-width="0.8"/>
<line x1="300.24" y1="521.30" x2="300.24" y2="522.58" stroke="#1a1a1a" stroke-width="0.8"/>
<line x1="328.37" y1="521.30" x2="328.37" y2="522.58" stroke="#1a1a1a" stroke-width="0.8"/>
<line x1="356.51" y1="521.30" x2="356.51" y2="522.58" stroke="#1a1a1a" stroke-width="0.8"/>
<line x1="384.64" y1="521.30" x2="384.64" y2="522.58" stroke="#1a1a1a" stroke-width="0.8"/>
<path d="M240 442.1L241.4 442.8L242.8 442.4L244.2 443.9L245.6 442.9L247 443.7L248.4 444.5L249.8 443.5L251.2 444.7L252.6 444.3L254 443.9L255.4 444L256.8 443.9L258.2 443.3L259.6 444.5L261 443.3L262.4 444.3L263.8 443.8L265.2 441.9L266.6 442L268 442.2L269.4 442.8L270.8 441.7L272.2 443L273.6 442.9L275 444.2L276.4 444.8L277.8 444.7L279.2 443.7L280.6 444.9L282 444.3L283.4 445.1L284.8 444.5L286.2 445.4L287.6 445.6L289 445.3L290.4 445.3L291.8 445.4L293.2 444.9L294.6 444.1L296 445.8L297.4 444.7L298.8 443.8L300.2 444.7L301.6 444.6L303 444.2L304.4 446L305.8 445L307.2 447.8L308.6 449L310 450.4L311.4 452.6L312.8 454.6L313 454.7L313.3 457.3L313.5 458.9L313.8 462.3L314 465.6L314.3 469.7L314.5 475.5L314.8 481.9L315 488.5L315.3 494.6L315.5 499.3L315.8 501.5L316 500.2L316.3 494.9L316.5 485.4L316.8 472L317 456.1L317.3 438.8L317.5 422.4L317.8 407.8L318 396.3L318.3 388.8L318.5 385.2L318.8 385.7L319 389L319.3 394.3L319.5 400.9L319.8 407.4L320 413.7L320.3 419.1L320.5 423.5L320.8 427.5L321 429L321.3 431.3L321.5 431.1L321.8 432.2L322 432L322.3 433.3L323.7 434L325.1 436.3L326.5 436.5L327.9 438.4L329.3 440.2L330.7 438.6L332.1 440L333.5 440L334.9 440L336.3 439.5L337.7 439.2L339.1 440L340.5 438.4L341.9 439.1L343.3 438.8L344.7 438.7L346.1 437.9L347.5 436.7L348.9 438L350.3 436.8L351.7 437.6L353.1 437.8L354.5 437.2L355.9 436.2L357.3 437L358.7 435.9L360.1 435.6L361.5 436L362.9 436L364.3 436L365.7 435.6L367.1 435.2L368.5 435.8L369.9 434.9L371.3 435.4L372.7 434.1L374.1 434.3L375.5 435.7L376.9 434.4L378.3 434.7L379.7 434L381.1 435.4L382.5 434.5L383.9 433.9L385.3 434.3L386.7 435.7L388.1 435.3L389.5 433.8L390.9 435.8L392.3 434L393.7 434.9L395.1 435.1L396.5 435.6L397.9 434.4" fill="none" stroke="#151515" stroke-width="1.20" stroke-linejoin="round"/>
<path d="M239 439.1L240.4 438L241.8 439.5L243.2 439.5L244.6 440.7L246 440.3L247.4 441.6L248.8 440.9L250.2 442.7L251.6 442.1L253 441.8L254.4 442L255.8 442.2L257.2 441L258.6 441.2L260 440.3L261.4 440L262.8 439.5L264.2 438.9L265.6 438.2L267 438.4L268.4 437.5L269.8 438.1L271.2 438.5L272.6 439.1L274 439.9L275.4 440L276.8 440.7L278.2 441.3L279.6 440.9L281 440.3L282.4 441L283.8 441.1L285.2 440.6L286.6 440.5L288 440.8L289.4 441.8L290.8 442.2L292.2 442.1L293.6 441.9L295 441.3L296.4 441.3L297.8 442.1L299.2 441.6L300.6 441.2L302 440.7L303.4 441L304.8 441.9L306.2 442.7L307.6 444.4L309 445.2L310.4 447L311.8 447.9L313.2 450.1L313.4 451.4L313.7 453L313.9 454.1L314.2 458.1L314.4 460.8L314.7 464.8L314.9 468.9L315.2 473.2L315.4 476.6L315.7 478.6L315.9 478.8L316.2 476.6L316.4 471.7L316.7 464.3L316.9 454.8L317.2 444.2L317.4 430.3L317.7 417L317.9 405.8L318.2 398L318.4 393.7L318.7 392.7L318.9 394.6L319.2 398.7L319.4 404.2L319.7 410L319.9 415.7L320.2 420.6L320.4 424.7L320.7 428.2L320.9 429.7L321.2 431.9L321.4 432.4L321.7 433.9L321.9 434.8L322.2 434.1L322.4 435.2L323.8 436.8L325.2 437.2L326.6 438.5L328 439.6L329.4 441.3L330.8 440.5L332.2 441.8L333.6 441L335 441.8L336.4 442.1L337.8 442L339.2 440.9L340.6 441.5L342 441.1L343.4 442L344.8 441.1L346.2 440.9L347.6 441.2L349 440.7L350.4 440.9L351.8 441.7L353.2 441.1L354.6 440.8L356 442L357.4 441L358.8 441.8L360.2 441.6L361.6 441.4L363 441.5L364.4 441.4L365.8 441.9L367.2 441.6L368.6 440.9L370 441.5L371.4 441.3L372.8 442L374.2 440.7L375.6 441.2L377 442.1L378.4 440.6L379.8 441.7L381.2 442L382.6 441.5L384 440.6L385.4 441.8L386.8 441L388.2 441.4L389.6 441.8L391 441L392.4 440.9L393.8 440.7L395.2 441.1L396.6 440.7L398 441.7" fill="none" stroke="#2020f0" stroke-width="1.30" stroke-linejoin="round"/>
<path d="M239 437.4L240.4 438.3L241.8 438L243.2 438.8L244.6 439.6L246 439.4L247.4 440.2L248.8 440.7L250.2 441.4L251.6 440.4L253 440.7L254.4 441.9L255.8 441.3L257.2 440.3L258.6 440.7L260 439.5L261.4 439.3L262.8 438.8L264.2 437.8L265.6 436.9L267 436.9L268.4 436.7L269.8 436.1L271.2 437L272.6 438.1L274 437.3L275.4 438.4L276.8 438.7L278.2 439.9L279.6 439.6L281 439.7L282.4 439.5L283.8 440.4L285.2 440.4L286.6 440L288 440.7L289.4 440L290.8 440.3L292.2 441.5L293.6 440.5L295 440.4L296.4 440.2L297.8 441L299.2 440.9L300.6 439.4L302 440.1L303.4 440.3L304.8 440.9L306.2 441.6L307.6 442.6L309 443.3L310.4 445.6L311.8 445.4L313.2 447.7L313.4 448.7L313.7 450L313.9 451.5L314.2 453.9L314.4 456.8L314.7 459.9L314.9 463.5L315.2 467L315.4 469.9L315.7 471.7L315.9 471.9L316.2 470.1L316.4 466.1L316.7 460.2L316.9 452.4L317.2 443.8L317.4 433.2L317.7 423.1L317.9 414.7L318.2 408.9L318.4 405.6L318.7 405L318.9 406.5L319.2 409.8L319.4 413.9L319.7 418.3L319.9 422.7L320.2 426.7L320.4 429.5L320.7 432.1L320.9 433.4L321.2 436L321.4 435.8L321.7 436.9L321.9 437.5L322.2 437.5L322.4 437.4L323.8 438.1L325.2 439.9L326.6 440.3L328 441.7L329.4 442.7L330.8 443L332.2 442.7L333.6 442.7L335 442L336.4 443L337.8 443.2L339.2 442.3L340.6 441.8L342 442.6L343.4 442.4L344.8 443.1L346.2 442.9L347.6 442.4L349 442.5L350.4 442.4L351.8 442.7L353.2 442.7L354.6 442.7L356 442L357.4 442.9L358.8 441.7L360.2 442L361.6 442.5L363 441.7L364.4 442.6L365.8 442.1L367.2 442.1L368.6 441.7L370 442.2L371.4 442.5L372.8 441.7L374.2 442.9L375.6 443.2L377 442.4L378.4 442.5L379.8 442.9L381.2 442.7L382.6 442.7L384 442.4L385.4 442.5L386.8 442.2L388.2 441.8L389.6 442.9L391 442.7L392.4 441.7L393.8 442.9L395.2 443.2L396.6 442.3L398 443.2" fill="none" stroke="#f02890" stroke-width="1.30" stroke-linejoin="round"/>
<path d="M239 438.5L240.4 437.6L241.8 438.7L243.2 439L244.6 440.2L246 439.7L247.4 440.4L248.8 441.1L250.2 441.2L251.6 442.4L253 442.4L254.4 442.1L255.8 440.8L257.2 442L258.6 441L260 440.8L261.4 440.2L262.8 439.5L264.2 439.5L265.6 437.7L267 436.9L268.4 437.9L269.8 436.6L271.2 437L272.6 437.8L274 439.3L275.4 439.2L276.8 439.2L278.2 439.8L279.6 439.9L281 439.6L282.4 441.1L283.8 440.9L285.2 440L286.6 440.3L288 441.6L289.4 441.3L290.8 441.1L292.2 441.5L293.6 442.3L295 441.2L296.4 441.8L297.8 440.6L299.2 441L300.6 440.3L302 440.4L303.4 440.9L304.8 441.6L306.2 443.1L307.6 443L309 443.4L310.4 445.8L311.8 446.7L313.2 448.1L313.4 448L313.7 449.2L313.9 451.4L314.2 452.4L314.4 455.5L314.7 458.6L314.9 461.7L315.2 464.8L315.4 467.3L315.7 469.1L315.9 469.1L316.2 467.4L316.4 463.7L316.7 458.1L316.9 451.2L317.2 443.2L317.4 433.6L317.7 424.4L317.9 416.7L318.2 411.3L318.4 408.3L318.7 407.6L318.9 409.1L319.2 411.9L319.4 415.7L319.7 419.6L319.9 423.3L320.2 426.8L320.4 429.4L320.7 432.3L320.9 434L321.2 434.7L321.4 435.6L321.7 435.7L321.9 435.8L322.2 436.9L322.4 437L323.8 437.4L325.2 439L326.6 439.8L328 440.3L329.4 439.8L330.8 441.5L332.2 440.2L333.6 440.4L335 440.3L336.4 440.4L337.8 441.3L339.2 441L340.6 440.3L342 440.4L343.4 441.3L344.8 440.6L346.2 440.4L347.6 441.4L349 440.5L350.4 440.2L351.8 440.9L353.2 441.2L354.6 440.1L356 441L357.4 440.3L358.8 441.4L360.2 440.8L361.6 440.6L363 440.5L364.4 440.1L365.8 440.1L367.2 440.8L368.6 440.8L370 440.3L371.4 440.2L372.8 440.7L374.2 441.5L375.6 440.1L377 441.1L378.4 441.5L379.8 440.5L381.2 440.6L382.6 440.9L384 440.4L385.4 440.1L386.8 440.3L388.2 441.5L389.6 440.7L391 441.5L392.4 440.3L393.8 441.3L395.2 440.4L396.6 440.7L398 441.3" fill="none" stroke="#18e820" stroke-width="1.30" stroke-linejoin="round"/>
<line x1="332.0" y1="383.90" x2="348.9" y2="383.90" stroke="#111" stroke-width="1.3"/>
<line x1="332.0" y1="394.90" x2="348.9" y2="394.90" stroke="#2020f0" stroke-width="1.3"/>
<line x1="332.0" y1="406.90" x2="348.9" y2="406.90" stroke="#f02890" stroke-width="1.3"/>
<line x1="332.0" y1="418.80" x2="348.9" y2="418.80" stroke="#18e820" stroke-width="1.3"/>
<line x1="260.80" y1="426.50" x2="260.80" y2="434.50" stroke="#111" stroke-width="0.9"/>
<path d="M260.80 436.50 L259.50 432.90 L262.10 432.90 Z" fill="#111"/>
<line x1="301.50" y1="427.70" x2="301.50" y2="437.30" stroke="#111" stroke-width="0.9"/>
<path d="M301.50 439.30 L300.20 435.70 L302.80 435.70 Z" fill="#111"/>
<line x1="333.2" y1="430.9" x2="322.0" y2="441.5" stroke="#111" stroke-width="0.8"/>
<path d="M320.0 443.3 L320.9 439.9 L323.3 442.3 Z" fill="#111"/>
<path d="M326.7 486.6L327.2 486.8L327.7 486.8L328.2 487.1L328.7 487.1L329.2 487.1L329.7 487.5L330.2 487.6L330.7 487.7L331.2 487.8L331.7 487.8L332.2 488.1L332.7 488.2L333.2 488.6L333.7 488.5L334.2 489.1L334.7 489L335.2 489.3L335.7 489.7L336.2 489.9L336.7 490.1L337.2 490.4L337.7 490.7L338.2 491L338.7 491.1L339.2 491.4L339.7 491.6L340.2 492.1L340.7 492.3L341.2 492.7L341.7 493L342.2 493.6L342.7 493.7L343.2 494.3L343.7 494.7L344.2 494.7L344.7 495.3L345.2 495.4L345.7 495.9L346.2 496L346.7 496.4L347.2 496.8L347.7 497L348.2 497.5L348.7 497.8L349.2 497.9L349.7 498.4L350.2 498.5L350.7 498.6L351.2 498.5L351.7 498.2L352.2 497.8L352.7 497.5L353.2 496.7L353.7 495.5L354.2 494.2L354.7 492.2L355.2 489.9L355.7 486.7L356.2 483.1L356.7 479.3L357.2 475.3L357.7 471.1L358.2 467.3L358.7 463.8L359.2 459.7L359.7 457L360.2 455.2L360.7 454.4L361.2 454.3L361.7 454.5L362.2 455.3L362.7 455.8L363.2 456.8L363.7 457.3L364.2 457.7L364.7 458.3L365.2 458.7L365.7 459L366.2 459.5L366.7 460L367.2 460.5L367.7 461L368.2 461.5L368.7 462L369.2 462.3L369.7 462.5L370.2 463.1L370.7 463.6L371.2 464.1L371.7 464.2L372.2 465L372.7 465.3L373.2 465.6L373.7 466.1L374.2 466.1L374.7 466.2L375.2 466.4L375.7 466.6L376.2 466.5L376.7 466.7L377.2 466.7L377.7 467.1L378.2 466.9L378.7 467.3L379.2 467.3L379.7 467.3L380.2 467.5L380.7 467.8L381.2 467.8L381.7 467.8L382.2 468L382.7 468.1L383.2 468.4L383.7 468.6L384.2 468.6L384.7 469.1L385.2 469.2L385.7 469.5L386.2 469.5L386.7 469.7L387.2 470L387.7 470.3L388.2 470.3L388.7 470.4L389.2 470.7L389.7 470.6L390.2 470.8L390.7 471L391.2 471.3L391.7 471.3" fill="none" stroke="#111" stroke-width="1.3" stroke-linejoin="round"/>
<line x1="321.9" y1="505" x2="393.8" y2="505" stroke="#444" stroke-width="0.6"/>
<line x1="322.30" y1="505" x2="322.30" y2="504.00" stroke="#444" stroke-width="0.5"/>
<line x1="328.23" y1="505" x2="328.23" y2="504.40" stroke="#444" stroke-width="0.5"/>
<line x1="334.17" y1="505" x2="334.17" y2="504.00" stroke="#444" stroke-width="0.5"/>
<line x1="340.10" y1="505" x2="340.10" y2="504.40" stroke="#444" stroke-width="0.5"/>
<line x1="346.03" y1="505" x2="346.03" y2="504.00" stroke="#444" stroke-width="0.5"/>
<line x1="351.97" y1="505" x2="351.97" y2="504.40" stroke="#444" stroke-width="0.5"/>
<line x1="357.90" y1="505" x2="357.90" y2="504.00" stroke="#444" stroke-width="0.5"/>
<line x1="363.83" y1="505" x2="363.83" y2="504.40" stroke="#444" stroke-width="0.5"/>
<line x1="369.77" y1="505" x2="369.77" y2="504.00" stroke="#444" stroke-width="0.5"/>
<line x1="375.70" y1="505" x2="375.70" y2="504.40" stroke="#444" stroke-width="0.5"/>
<line x1="381.63" y1="505" x2="381.63" y2="504.00" stroke="#444" stroke-width="0.5"/>
<line x1="387.57" y1="505" x2="387.57" y2="504.40" stroke="#444" stroke-width="0.5"/>
<line x1="393.50" y1="505" x2="393.50" y2="504.00" stroke="#444" stroke-width="0.5"/>
<text class="n" x="322.30" y="509.5" font-size="3.3" text-anchor="middle">1.85</text>
<text class="n" x="334.17" y="509.5" font-size="3.3" text-anchor="middle">1.90</text>
<text class="n" x="346.03" y="509.5" font-size="3.3" text-anchor="middle">1.95</text>
<text class="n" x="357.90" y="509.5" font-size="3.3" text-anchor="middle">2.00</text>
<text class="n" x="369.77" y="509.5" font-size="3.3" text-anchor="middle">2.05</text>
<text class="n" x="381.63" y="509.5" font-size="3.3" text-anchor="middle">2.10</text>
<text class="n" x="393.50" y="509.5" font-size="3.3" text-anchor="middle">2.15</text>
<text class="n" x="356.5" y="518" font-size="3.9" text-anchor="middle">g value</text>
<text class="n" x="365.2" y="478.7" font-size="4.9" textLength="9.9" lengthAdjust="spacingAndGlyphs">TiO<tspan font-size="3.4" dy="1.2">2</tspan></text>
<text class="n" x="364.8" y="485.2" font-size="4.9" textLength="17.7" lengthAdjust="spacingAndGlyphs">g = 1.997</text>
<text x="3.20" y="9.90" font-size="9.79" textLength="12.80" lengthAdjust="spacingAndGlyphs">(a)</text>
<text x="23.80" y="13.20" font-size="7.50" textLength="14.00" lengthAdjust="spacingAndGlyphs">C 1s</text>
<text x="41.30" y="11.00" font-size="7.50" textLength="13.90" lengthAdjust="spacingAndGlyphs">N 1s</text>
<text x="57.90" y="13.10" font-size="7.50" textLength="14.70" lengthAdjust="spacingAndGlyphs">Ti 2p</text>
<text x="74.10" y="11.00" font-size="7.50" textLength="13.60" lengthAdjust="spacingAndGlyphs">O 1s</text>
<text x="134.00" y="13.30" font-size="7.79" textLength="46.20" lengthAdjust="spacingAndGlyphs">50TiO<tspan font-size="5.6" dy="1.9">2</tspan><tspan dy="-1.9">/CNNS</tspan></text>
<text x="133.60" y="29.90" font-size="7.79" textLength="46.60" lengthAdjust="spacingAndGlyphs">40TiO<tspan font-size="5.6" dy="1.9">2</tspan><tspan dy="-1.9">/CNNS</tspan></text>
<text x="134.00" y="48.40" font-size="7.79" textLength="46.60" lengthAdjust="spacingAndGlyphs">30TiO<tspan font-size="5.6" dy="1.9">2</tspan><tspan dy="-1.9">/CNNS</tspan></text>
<text x="134.70" y="66.20" font-size="7.79" textLength="46.60" lengthAdjust="spacingAndGlyphs">20TiO<tspan font-size="5.6" dy="1.9">2</tspan><tspan dy="-1.9">/CNNS</tspan></text>
<text x="135.70" y="83.30" font-size="7.79" textLength="15.40" lengthAdjust="spacingAndGlyphs">TiO<tspan font-size="5.6" dy="1.9">2</tspan></text>
<text x="136.10" y="104.30" font-size="7.79" textLength="21.10" lengthAdjust="spacingAndGlyphs">CNNS</text>
<text x="136.40" y="126.30" font-size="7.79" textLength="30.90" lengthAdjust="spacingAndGlyphs">Bulk&#8211;CN</text>
<text x="68.90" y="166.10" font-size="7.60" textLength="65.70" lengthAdjust="spacingAndGlyphs">Binding energy (eV)</text>
<text x="213.20" y="10.60" font-size="9.79" textLength="13.60" lengthAdjust="spacingAndGlyphs">(b)</text>
<text x="233.20" y="14.80" font-size="7.80" textLength="13.60" lengthAdjust="spacingAndGlyphs">C1s</text>
<text x="305.90" y="13.20" font-size="7.60" textLength="25.50" lengthAdjust="spacingAndGlyphs">288.7 eV</text>
<text x="348.10" y="13.60" font-size="7.79" textLength="46.20" lengthAdjust="spacingAndGlyphs">50TiO<tspan font-size="5.6" dy="1.9">2</tspan><tspan dy="-1.9">/CNNS</tspan></text>
<text x="347.70" y="33.40" font-size="7.79" textLength="46.60" lengthAdjust="spacingAndGlyphs">40TiO<tspan font-size="5.6" dy="1.9">2</tspan><tspan dy="-1.9">/CNNS</tspan></text>
<text x="347.70" y="55.40" font-size="7.79" textLength="46.60" lengthAdjust="spacingAndGlyphs">30TiO<tspan font-size="5.6" dy="1.9">2</tspan><tspan dy="-1.9">/CNNS</tspan></text>
<text x="347.70" y="79.40" font-size="7.79" textLength="46.60" lengthAdjust="spacingAndGlyphs">20TiO<tspan font-size="5.6" dy="1.9">2</tspan><tspan dy="-1.9">/CNNS</tspan></text>
<text x="348.30" y="103.30" font-size="7.79" textLength="21.40" lengthAdjust="spacingAndGlyphs">CNNS</text>
<text x="348.30" y="125.00" font-size="7.79" textLength="30.60" lengthAdjust="spacingAndGlyphs">Bulk&#8211;CN</text>
<text x="251.20" y="122.70" font-size="7.20" textLength="13.60" lengthAdjust="spacingAndGlyphs">C-C</text>
<text x="242.90" y="131.20" font-size="7.20" textLength="26.20" lengthAdjust="spacingAndGlyphs">285.0 eV</text>
<text x="307.10" y="121.40" font-size="7.20" textLength="22.60" lengthAdjust="spacingAndGlyphs">N-C=N</text>
<text x="307.10" y="129.20" font-size="7.20" textLength="25.80" lengthAdjust="spacingAndGlyphs">288.3 eV</text>
<text x="273.00" y="165.20" font-size="7.60" textLength="65.40" lengthAdjust="spacingAndGlyphs">Binding energy (eV)</text>
<text x="1.30" y="195.00" font-size="9.79" textLength="11.30" lengthAdjust="spacingAndGlyphs">(c)</text>
<text x="21.80" y="202.70" font-size="7.60" textLength="14.80" lengthAdjust="spacingAndGlyphs">N 1s</text>
<text x="37.70" y="219.90" font-size="7.40" textLength="26.40" lengthAdjust="spacingAndGlyphs">399.2 eV</text>
<text x="137.30" y="202.30" font-size="7.79" textLength="46.20" lengthAdjust="spacingAndGlyphs">50TiO<tspan font-size="5.6" dy="1.9">2</tspan><tspan dy="-1.9">/CNNS</tspan></text>
<text x="137.10" y="224.50" font-size="7.79" textLength="46.40" lengthAdjust="spacingAndGlyphs">40TiO<tspan font-size="5.6" dy="1.9">2</tspan><tspan dy="-1.9">/CNNS</tspan></text>
<text x="137.30" y="246.90" font-size="7.79" textLength="46.20" lengthAdjust="spacingAndGlyphs">30TiO<tspan font-size="5.6" dy="1.9">2</tspan><tspan dy="-1.9">/CNNS</tspan></text>
<text x="137.30" y="270.10" font-size="7.79" textLength="46.20" lengthAdjust="spacingAndGlyphs">20TiO<tspan font-size="5.6" dy="1.9">2</tspan><tspan dy="-1.9">/CNNS</tspan></text>
<text x="138.60" y="292.20" font-size="7.79" textLength="21.10" lengthAdjust="spacingAndGlyphs">CNNS</text>
<text x="139.20" y="311.30" font-size="7.79" textLength="30.30" lengthAdjust="spacingAndGlyphs">Bulk&#8211;CN</text>
<text x="28.20" y="308.70" font-size="7.20" textLength="22.30" lengthAdjust="spacingAndGlyphs">C=N-C</text>
<text x="27.20" y="315.60" font-size="7.20" textLength="25.20" lengthAdjust="spacingAndGlyphs">398.7 eV</text>
<text x="92.20" y="308.20" font-size="7.20" textLength="20.30" lengthAdjust="spacingAndGlyphs">N-(C)<tspan font-size="5" dy="1.4">3</tspan></text>
<text x="91.90" y="316.00" font-size="7.20" textLength="26.00" lengthAdjust="spacingAndGlyphs">401.3 eV</text>
<text x="68.90" y="354.60" font-size="7.60" textLength="65.10" lengthAdjust="spacingAndGlyphs">Binding energy (eV)</text>
<text x="214.20" y="199.10" font-size="9.79" textLength="12.80" lengthAdjust="spacingAndGlyphs">(d)</text>
<text x="232.20" y="204.20" font-size="7.60" textLength="16.90" lengthAdjust="spacingAndGlyphs">Ti 2p</text>
<text x="279.90" y="203.30" font-size="7.20" textLength="26.10" lengthAdjust="spacingAndGlyphs">459.0 eV</text>
<text x="347.30" y="204.00" font-size="7.79" textLength="46.20" lengthAdjust="spacingAndGlyphs">50TiO<tspan font-size="5.6" dy="1.9">2</tspan><tspan dy="-1.9">/CNNS</tspan></text>
<text x="347.10" y="226.50" font-size="7.79" textLength="46.40" lengthAdjust="spacingAndGlyphs">40TiO<tspan font-size="5.6" dy="1.9">2</tspan><tspan dy="-1.9">/CNNS</tspan></text>
<text x="347.30" y="248.90" font-size="7.79" textLength="46.20" lengthAdjust="spacingAndGlyphs">30TiO<tspan font-size="5.6" dy="1.9">2</tspan><tspan dy="-1.9">/CNNS</tspan></text>
<text x="348.30" y="271.40" font-size="7.79" textLength="45.90" lengthAdjust="spacingAndGlyphs">20TiO<tspan font-size="5.6" dy="1.9">2</tspan><tspan dy="-1.9">/CNNS</tspan></text>
<text x="353.70" y="305.40" font-size="7.79" textLength="15.60" lengthAdjust="spacingAndGlyphs">TiO<tspan font-size="5.6" dy="1.9">2</tspan></text>
<text x="247.10" y="292.20" font-size="7.20" textLength="22.00" lengthAdjust="spacingAndGlyphs">Ti 2p<tspan font-size="4.8" dy="2.2">3/2</tspan></text>
<text x="241.90" y="302.50" font-size="7.20" textLength="26.00" lengthAdjust="spacingAndGlyphs">459.3 eV</text>
<text x="315.30" y="298.20" font-size="7.20" textLength="22.40" lengthAdjust="spacingAndGlyphs">Ti 2p<tspan font-size="4.8" dy="2.2">1/2</tspan></text>
<text x="312.20" y="309.00" font-size="7.20" textLength="25.50" lengthAdjust="spacingAndGlyphs">465.0 eV</text>
<text x="278.90" y="355.00" font-size="7.60" textLength="65.70" lengthAdjust="spacingAndGlyphs">Binding energy (eV)</text>
<text x="2.20" y="383.10" font-size="9.79" textLength="11.50" lengthAdjust="spacingAndGlyphs">(e)</text>
<text x="21.30" y="389.40" font-size="7.40" textLength="15.40" lengthAdjust="spacingAndGlyphs">O 1s</text>
<text x="41.10" y="432.30" font-size="7.20" textLength="25.10" lengthAdjust="spacingAndGlyphs">530.2 eV</text>
<text x="128.50" y="390.50" font-size="7.79" textLength="46.30" lengthAdjust="spacingAndGlyphs">50TiO<tspan font-size="5.6" dy="1.9">2</tspan><tspan dy="-1.9">/CNNS</tspan></text>
<text x="128.50" y="414.30" font-size="7.79" textLength="46.30" lengthAdjust="spacingAndGlyphs">40TiO<tspan font-size="5.6" dy="1.9">2</tspan><tspan dy="-1.9">/CNNS</tspan></text>
<text x="128.50" y="434.90" font-size="7.79" textLength="46.30" lengthAdjust="spacingAndGlyphs">30TiO<tspan font-size="5.6" dy="1.9">2</tspan><tspan dy="-1.9">/CNNS</tspan></text>
<text x="129.30" y="453.80" font-size="7.79" textLength="45.50" lengthAdjust="spacingAndGlyphs">20TiO<tspan font-size="5.6" dy="1.9">2</tspan><tspan dy="-1.9">/CNNS</tspan></text>
<text x="129.90" y="479.90" font-size="7.79" textLength="15.50" lengthAdjust="spacingAndGlyphs">TiO<tspan font-size="5.6" dy="1.9">2</tspan></text>
<text x="56.10" y="472.00" font-size="7.20" textLength="14.30" lengthAdjust="spacingAndGlyphs">Ti-O</text>
<text x="41.90" y="481.50" font-size="7.20" textLength="26.00" lengthAdjust="spacingAndGlyphs">530.5 eV</text>
<text x="96.40" y="483.00" font-size="7.20" textLength="14.20" lengthAdjust="spacingAndGlyphs">O-H</text>
<text x="96.20" y="492.00" font-size="7.20" textLength="25.50" lengthAdjust="spacingAndGlyphs">532.0 eV</text>
<text x="67.00" y="546.00" font-size="7.60" textLength="63.70" lengthAdjust="spacingAndGlyphs">Binding energy (eV)</text>
<text x="211.60" y="383.60" font-size="9.79" textLength="10.40" lengthAdjust="spacingAndGlyphs">(f)</text>
<text x="350.20" y="386.50" font-size="7.79" textLength="46.60" lengthAdjust="spacingAndGlyphs">20TiO<tspan font-size="5.6" dy="1.9">2</tspan><tspan dy="-1.9">/CNNS</tspan></text>
<text x="350.20" y="397.90" font-size="7.79" textLength="46.60" lengthAdjust="spacingAndGlyphs">30TiO<tspan font-size="5.6" dy="1.9">2</tspan><tspan dy="-1.9">/CNNS</tspan></text>
<text x="350.20" y="409.50" font-size="7.79" textLength="46.60" lengthAdjust="spacingAndGlyphs">40TiO<tspan font-size="5.6" dy="1.9">2</tspan><tspan dy="-1.9">/CNNS</tspan></text>
<text x="350.20" y="421.40" font-size="7.79" textLength="46.60" lengthAdjust="spacingAndGlyphs">50TiO<tspan font-size="5.6" dy="1.9">2</tspan><tspan dy="-1.9">/CNNS</tspan></text>
<text x="241.60" y="424.40" font-size="7.80" textLength="34.00" lengthAdjust="spacingAndGlyphs">g// =1.908</text>
<text x="281.60" y="425.10" font-size="7.80" textLength="34.60" lengthAdjust="spacingAndGlyphs">g&#8869; =1.980</text>
<text x="333.40" y="431.90" font-size="7.80" textLength="31.40" lengthAdjust="spacingAndGlyphs">g = 2.003</text>
<text x="301.80" y="543.50" font-size="8.00" textLength="25.10" lengthAdjust="spacingAndGlyphs">g value</text>
<text x="12.50" y="155.10" font-size="7.80" textLength="11.80" lengthAdjust="spacingAndGlyphs">200</text>
<text x="45.70" y="155.10" font-size="7.80" textLength="11.80" lengthAdjust="spacingAndGlyphs">400</text>
<text x="79.10" y="155.10" font-size="7.80" textLength="11.80" lengthAdjust="spacingAndGlyphs">600</text>
<text x="112.20" y="155.10" font-size="7.80" textLength="11.80" lengthAdjust="spacingAndGlyphs">800</text>
<text x="144.00" y="155.10" font-size="7.80" textLength="15.00" lengthAdjust="spacingAndGlyphs">1000</text>
<text x="177.70" y="155.10" font-size="7.80" textLength="15.00" lengthAdjust="spacingAndGlyphs">1200</text>
<text x="222.50" y="155.30" font-size="7.80" textLength="11.80" lengthAdjust="spacingAndGlyphs">280</text>
<text x="264.80" y="155.30" font-size="7.80" textLength="11.80" lengthAdjust="spacingAndGlyphs">285</text>
<text x="305.60" y="155.30" font-size="7.80" textLength="11.80" lengthAdjust="spacingAndGlyphs">290</text>
<text x="347.00" y="155.30" font-size="7.80" textLength="11.80" lengthAdjust="spacingAndGlyphs">295</text>
<text x="388.00" y="155.30" font-size="7.80" textLength="11.80" lengthAdjust="spacingAndGlyphs">300</text>
<text x="12.50" y="344.00" font-size="7.80" textLength="11.80" lengthAdjust="spacingAndGlyphs">395</text>
<text x="68.30" y="344.00" font-size="7.80" textLength="11.80" lengthAdjust="spacingAndGlyphs">400</text>
<text x="123.20" y="344.00" font-size="7.80" textLength="11.80" lengthAdjust="spacingAndGlyphs">405</text>
<text x="179.30" y="344.00" font-size="7.80" textLength="11.80" lengthAdjust="spacingAndGlyphs">410</text>
<text x="222.50" y="344.60" font-size="7.80" textLength="11.80" lengthAdjust="spacingAndGlyphs">455</text>
<text x="278.30" y="344.60" font-size="7.80" textLength="11.80" lengthAdjust="spacingAndGlyphs">460</text>
<text x="333.70" y="344.60" font-size="7.80" textLength="11.80" lengthAdjust="spacingAndGlyphs">465</text>
<text x="389.30" y="344.60" font-size="7.80" textLength="11.80" lengthAdjust="spacingAndGlyphs">470</text>
<text x="11.70" y="534.10" font-size="7.80" textLength="11.80" lengthAdjust="spacingAndGlyphs">525</text>
<text x="65.70" y="534.10" font-size="7.80" textLength="11.80" lengthAdjust="spacingAndGlyphs">530</text>
<text x="120.10" y="534.10" font-size="7.80" textLength="11.80" lengthAdjust="spacingAndGlyphs">535</text>
<text x="174.60" y="534.10" font-size="7.80" textLength="11.80" lengthAdjust="spacingAndGlyphs">540</text>
<text x="222.60" y="533.00" font-size="7.80" textLength="14.60" lengthAdjust="spacingAndGlyphs">1.85</text>
<text x="250.10" y="533.00" font-size="7.80" textLength="14.60" lengthAdjust="spacingAndGlyphs">1.90</text>
<text x="278.80" y="533.00" font-size="7.80" textLength="14.60" lengthAdjust="spacingAndGlyphs">1.95</text>
<text x="307.10" y="533.00" font-size="7.80" textLength="14.60" lengthAdjust="spacingAndGlyphs">2.00</text>
<text x="335.90" y="533.00" font-size="7.80" textLength="14.60" lengthAdjust="spacingAndGlyphs">2.05</text>
<text x="364.10" y="533.00" font-size="7.80" textLength="14.60" lengthAdjust="spacingAndGlyphs">2.10</text>
<text x="391.40" y="533.00" font-size="7.80" textLength="14.60" lengthAdjust="spacingAndGlyphs">2.15</text>
<text transform="translate(9.30 0) rotate(-90)" x="-96.50" y="0" font-size="7.20" textLength="49.70" lengthAdjust="spacingAndGlyphs">Intensity (a.u.)</text>
<text transform="translate(219.00 0) rotate(-90)" x="-96.90" y="0" font-size="7.20" textLength="50.70" lengthAdjust="spacingAndGlyphs">Intensity (a.u.)</text>
<text transform="translate(8.40 0) rotate(-90)" x="-287.30" y="0" font-size="7.20" textLength="50.10" lengthAdjust="spacingAndGlyphs">Intensity (a.u.)</text>
<text transform="translate(220.40 0) rotate(-90)" x="-289.10" y="0" font-size="7.20" textLength="51.00" lengthAdjust="spacingAndGlyphs">Intensity (a.u.)</text>
<text transform="translate(9.20 0) rotate(-90)" x="-476.00" y="0" font-size="7.20" textLength="51.00" lengthAdjust="spacingAndGlyphs">Intensity (a.u.)</text>
<text transform="translate(218.10 0) rotate(-90)" x="-470.50" y="0" font-size="7.20" textLength="53.70" lengthAdjust="spacingAndGlyphs">Intensity (a.u.)</text>
</svg>
</body></html>
